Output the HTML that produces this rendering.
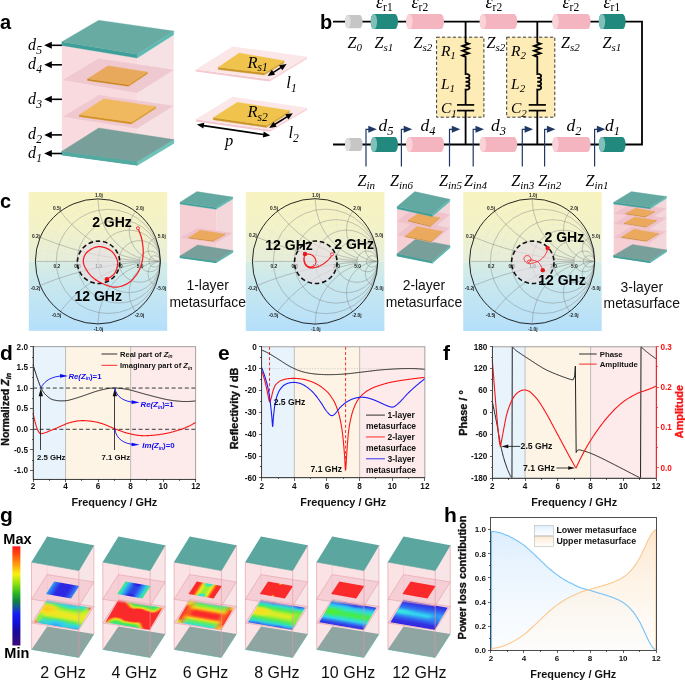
<!DOCTYPE html>
<html lang="en"><head><meta charset="utf-8"><title>Figure</title>
<style>html,body{margin:0;padding:0;background:#fff}svg{display:block}</style>
</head><body>
<svg width="685" height="681" viewBox="0 0 685 681">
<rect width="685" height="681" fill="#fff"/>
<!-- panel_a -->
<text x="0" y="28.5" font-family='"Liberation Sans", Arial, sans-serif' font-size="20" font-weight="bold">a</text>
<polygon points="61.9,151.2 137.2,161.5 137.2,165.2 61.9,154.9" fill="#3f9e98" stroke="#3f9e98" stroke-width="0.4"/><polygon points="137.2,161.5 173.7,139.6 173.7,143.3 137.2,165.2" fill="#5cb8b0" stroke="#5cb8b0" stroke-width="0.4"/><polygon points="61.9,151.2 98.7,127.9 173.7,139.6 137.2,161.5" fill="#5a9a93" stroke="#5a9a93" stroke-width="0.3"/>
<polygon points="61.9,45.4 137.2,58 137.2,161.5 61.9,151.2" fill="#f8d7db" fill-opacity="0.9"/>
<polygon points="137.2,58 173.7,34.7 173.7,139.6 137.2,161.5" fill="#f4dcdf" fill-opacity="0.85"/>
<polygon points="61.9,151.2 137.2,161.5 137.2,165.2 61.9,154.9" fill="#52aaa1" stroke="#52aaa1" stroke-width="0.4"/><polygon points="137.2,161.5 173.7,139.6 173.7,143.3 137.2,165.2" fill="#6fc3b9" stroke="#6fc3b9" stroke-width="0.4"/><polygon points="61.9,151.2 98.7,127.9 173.7,139.6 137.2,161.5" fill="#789f9a" stroke="#789f9a" stroke-width="0.3"/>
<polygon points="62.8,80 98.7,58.6 173.7,69.7 137.2,93" fill="#eec3cb" fill-opacity="0.8"/>
<polygon points="62.8,116.8 98.7,94.9 173.7,105.7 137.2,128.5" fill="#eec3cb" fill-opacity="0.8"/>
<polygon points="87.6,78.8 128.5,84.7 128.5,86.3 87.6,80.4" fill="#c8871f" stroke="#c8871f" stroke-width="0.4"/><polygon points="128.5,84.7 147.4,72.1 147.4,73.7 128.5,86.3" fill="#d4952d" stroke="#d4952d" stroke-width="0.4"/><polygon points="87.6,78.8 108,65.7 147.4,72.1 128.5,84.7" fill="#e9a95c" stroke="#e9a95c" stroke-width="0.3"/>
<polygon points="79.4,114.7 131.4,122 131.4,123.9 79.4,116.6" fill="#d0901f" stroke="#d0901f" stroke-width="0.4"/><polygon points="131.4,122 155.6,106.6 155.6,108.5 131.4,123.9" fill="#dba035" stroke="#dba035" stroke-width="0.4"/><polygon points="79.4,114.7 103.6,98.7 155.6,106.6 131.4,122" fill="#f0b95f" stroke="#f0b95f" stroke-width="0.3"/>
<polygon points="61.9,41.7 137.2,54.3 137.2,58 61.9,45.4" fill="#3c9f98" stroke="#3c9f98" stroke-width="0.4"/><polygon points="137.2,54.3 173.7,31 173.7,34.7 137.2,58" fill="#5cbab2" stroke="#5cbab2" stroke-width="0.4"/><polygon points="61.9,41.7 98.7,20.2 173.7,31 137.2,54.3" fill="#68aba3" stroke="#68aba3" stroke-width="0.3"/>
<line x1="61.9" y1="45.3" x2="50" y2="45.3" stroke="#000" stroke-width="1.6"/>
<polygon points="44.2,45.3 51.8,41.8 51.8,48.8" fill="#000"/>
<text x="28" y="49.8" font-family='"Liberation Serif", "Times New Roman", serif' font-size="16" font-style="italic">d<tspan font-size="11.6" dy="4.1" dx="0.3">5</tspan></text>
<line x1="61.9" y1="64.8" x2="50" y2="64.8" stroke="#000" stroke-width="1.6"/>
<polygon points="44.2,64.8 51.8,61.3 51.8,68.3" fill="#000"/>
<text x="28" y="69.3" font-family='"Liberation Serif", "Times New Roman", serif' font-size="16" font-style="italic">d<tspan font-size="11.6" dy="4.1" dx="0.3">4</tspan></text>
<line x1="61.9" y1="99.3" x2="50" y2="99.3" stroke="#000" stroke-width="1.6"/>
<polygon points="44.2,99.3 51.8,95.8 51.8,102.8" fill="#000"/>
<text x="28" y="103.8" font-family='"Liberation Serif", "Times New Roman", serif' font-size="16" font-style="italic">d<tspan font-size="11.6" dy="4.1" dx="0.3">3</tspan></text>
<line x1="61.9" y1="134.9" x2="50" y2="134.9" stroke="#000" stroke-width="1.6"/>
<polygon points="44.2,134.9 51.8,131.4 51.8,138.4" fill="#000"/>
<text x="28" y="138.9" font-family='"Liberation Serif", "Times New Roman", serif' font-size="16" font-style="italic">d<tspan font-size="11.6" dy="4.1" dx="0.3">2</tspan></text>
<line x1="61.9" y1="153.5" x2="50" y2="153.5" stroke="#000" stroke-width="1.6"/>
<polygon points="44.2,153.5 51.8,150 51.8,157" fill="#000"/>
<text x="28" y="158.2" font-family='"Liberation Serif", "Times New Roman", serif' font-size="16" font-style="italic">d<tspan font-size="11.6" dy="4.1" dx="0.3">1</tspan></text>
<polygon points="195.8,69.4 269.8,79.3 269.8,81.5 195.8,71.6" fill="#f3c9cf"/><polygon points="269.8,79.3 307,56.7 307,58.9 269.8,81.5" fill="#f6d6da"/><polygon points="195.8,69.4 232.6,46.4 307,56.7 269.8,79.3" fill="#fbe6e8"/>
<polygon points="218.3,67.2 264.3,72.7 264.3,74.9 218.3,69.4" fill="#c9962a" stroke="#c9962a" stroke-width="0.4"/><polygon points="264.3,72.7 284,60.7 284,62.9 264.3,74.9" fill="#d6a636" stroke="#d6a636" stroke-width="0.4"/><polygon points="218.3,67.2 239.1,53 284,60.7 264.3,72.7" fill="#f0c44c" stroke="#f0c44c" stroke-width="0.3"/>
<polygon points="195.8,119.3 269.8,129.6 269.8,131.8 195.8,121.5" fill="#f3c9cf"/><polygon points="269.8,129.6 307,107.7 307,109.9 269.8,131.8" fill="#f6d6da"/><polygon points="195.8,119.3 232.6,96.8 307,107.7 269.8,129.6" fill="#fbe6e8"/>
<polygon points="213.3,117.6 266.5,125.2 266.5,127.4 213.3,119.8" fill="#c9962a" stroke="#c9962a" stroke-width="0.4"/><polygon points="266.5,125.2 289.5,110.6 289.5,112.8 266.5,127.4" fill="#d6a636" stroke="#d6a636" stroke-width="0.4"/><polygon points="213.3,117.6 237.4,102.3 289.5,110.6 266.5,125.2" fill="#f0c44c" stroke="#f0c44c" stroke-width="0.3"/>
<text x="247.5" y="67.7" font-family='"Liberation Serif", "Times New Roman", serif' font-size="16.5" font-style="italic">R<tspan font-size="11.5" dy="3.5">s1</tspan></text>
<text x="247.5" y="117.1" font-family='"Liberation Serif", "Times New Roman", serif' font-size="16.5" font-style="italic">R<tspan font-size="11.5" dy="3.5">s2</tspan></text>
<line x1="271.82" y1="73.31" x2="282.38" y2="66.59" stroke="#000" stroke-width="1.6"/><polygon points="286.6,63.9 282.31,70.19 279.08,65.13" fill="#000"/><polygon points="267.6,76 271.89,69.71 275.12,74.77" fill="#000"/>
<line x1="273.35" y1="125.26" x2="288.55" y2="115.84" stroke="#000" stroke-width="1.6"/><polygon points="292.8,113.2 288.43,119.44 285.27,114.34" fill="#000"/><polygon points="269.1,127.9 273.47,121.66 276.63,126.76" fill="#000"/>
<line x1="201.85" y1="125.34" x2="265.25" y2="134.76" stroke="#000" stroke-width="1.6"/><polygon points="270.2,135.5 262.83,137.44 263.72,131.5" fill="#000"/><polygon points="196.9,124.6 204.27,122.66 203.38,128.6" fill="#000"/>
<text x="286.3" y="88" font-family='"Liberation Serif", "Times New Roman", serif' font-size="16.5" font-style="italic">l<tspan font-size="11.5" dy="3.5">1</tspan></text>
<text x="288.5" y="138.4" font-family='"Liberation Serif", "Times New Roman", serif' font-size="16.5" font-style="italic">l<tspan font-size="11.5" dy="3.5">2</tspan></text>
<text x="225" y="146" font-family='"Liberation Serif", "Times New Roman", serif' font-size="16.5" font-style="italic">p</text>
<!-- panel_b -->
<text x="320" y="28.5" font-family='"Liberation Sans", Arial, sans-serif' font-size="20" font-weight="bold">b</text>
<path d="M333 21.6 H642 V144.5 H333" fill="none" stroke="#000" stroke-width="1.8"/>
<rect x="436.6" y="37.2" width="47.3" height="80" fill="#fdecb6" stroke="#222" stroke-width="0.9" stroke-dasharray="3.2 2.2"/>
<path d="M465.6 21.6 V42.5 L468.9 43.69 L462.3 46.08 L468.9 48.46 L462.3 50.84 L468.9 53.22 L462.3 55.61 L465.6 56.8 V74 C470.8 73.4 470.8 78.5 465.6 77.9 C470.8 77.3 470.8 82.4 465.6 81.8 C470.8 81.2 470.8 86.3 465.6 85.7 C470.8 85.1 470.8 90.2 465.6 89.6 V104.9" fill="none" stroke="#000" stroke-width="1.8" stroke-linejoin="miter"/>
<line x1="457" y1="104.9" x2="474.2" y2="104.9" stroke="#000" stroke-width="1.7"/>
<line x1="457" y1="110.6" x2="474.2" y2="110.6" stroke="#000" stroke-width="1.7"/>
<line x1="465.6" y1="110.6" x2="465.6" y2="144.5" stroke="#000" stroke-width="1.8"/>
<text x="440.9" y="55.7" font-family='"Liberation Serif", "Times New Roman", serif' font-size="15.5" font-style="italic">R<tspan font-size="11" font-style="italic" dy="3.5">1</tspan></text>
<text x="440.9" y="88.9" font-family='"Liberation Serif", "Times New Roman", serif' font-size="15.5" font-style="italic">L<tspan font-size="11" font-style="italic" dy="3.5">1</tspan></text>
<text x="440.9" y="113.4" font-family='"Liberation Serif", "Times New Roman", serif' font-size="15.5" font-style="italic">C<tspan font-size="11" font-style="italic" dy="3.5">1</tspan></text>
<rect x="506.7" y="37.2" width="48.1" height="80" fill="#fdecb6" stroke="#222" stroke-width="0.9" stroke-dasharray="3.2 2.2"/>
<path d="M537.3 21.6 V42.5 L540.6 43.69 L534 46.08 L540.6 48.46 L534 50.84 L540.6 53.22 L534 55.61 L537.3 56.8 V74 C542.5 73.4 542.5 78.5 537.3 77.9 C542.5 77.3 542.5 82.4 537.3 81.8 C542.5 81.2 542.5 86.3 537.3 85.7 C542.5 85.1 542.5 90.2 537.3 89.6 V104.9" fill="none" stroke="#000" stroke-width="1.8" stroke-linejoin="miter"/>
<line x1="528.7" y1="104.9" x2="545.9" y2="104.9" stroke="#000" stroke-width="1.7"/>
<line x1="528.7" y1="110.6" x2="545.9" y2="110.6" stroke="#000" stroke-width="1.7"/>
<line x1="537.3" y1="110.6" x2="537.3" y2="144.5" stroke="#000" stroke-width="1.8"/>
<text x="511" y="55.7" font-family='"Liberation Serif", "Times New Roman", serif' font-size="15.5" font-style="italic">R<tspan font-size="11" font-style="italic" dy="3.5">2</tspan></text>
<text x="511" y="88.9" font-family='"Liberation Serif", "Times New Roman", serif' font-size="15.5" font-style="italic">L<tspan font-size="11" font-style="italic" dy="3.5">2</tspan></text>
<text x="511" y="113.4" font-family='"Liberation Serif", "Times New Roman", serif' font-size="15.5" font-style="italic">C<tspan font-size="11" font-style="italic" dy="3.5">2</tspan></text>
<path d="M347.8 15 L359.8 15 A2.8 6.6 0 0 1 359.8 28.2 L347.8 28.2 A2.8 6.6 0 0 1 347.8 15 Z" fill="#c6c6c6"/><ellipse cx="347.8" cy="21.6" rx="2.8" ry="6.6" fill="#dedede"/>
<path d="M373.9 14.1 L394.8 14.1 A3.2 7.5 0 0 1 394.8 29.1 L373.9 29.1 A3.2 7.5 0 0 1 373.9 14.1 Z" fill="#21897e"/><ellipse cx="373.9" cy="21.6" rx="3.2" ry="7.5" fill="#7fc1b8"/>
<path d="M409.4 14.1 L440.8 14.1 A3.2 7.5 0 0 1 440.8 29.1 L409.4 29.1 A3.2 7.5 0 0 1 409.4 14.1 Z" fill="#f4b5c0"/><ellipse cx="409.4" cy="21.6" rx="3.2" ry="7.5" fill="#fad3d9"/>
<path d="M482.9 14.1 L514 14.1 A3.2 7.5 0 0 1 514 29.1 L482.9 29.1 A3.2 7.5 0 0 1 482.9 14.1 Z" fill="#f4b5c0"/><ellipse cx="482.9" cy="21.6" rx="3.2" ry="7.5" fill="#fad3d9"/>
<path d="M555.5 14.1 L587.4 14.1 A3.2 7.5 0 0 1 587.4 29.1 L555.5 29.1 A3.2 7.5 0 0 1 555.5 14.1 Z" fill="#f4b5c0"/><ellipse cx="555.5" cy="21.6" rx="3.2" ry="7.5" fill="#fad3d9"/>
<path d="M602 14.1 L622.4 14.1 A3.2 7.5 0 0 1 622.4 29.1 L602 29.1 A3.2 7.5 0 0 1 602 14.1 Z" fill="#21897e"/><ellipse cx="602" cy="21.6" rx="3.2" ry="7.5" fill="#7fc1b8"/>
<path d="M347.8 137.9 L359.8 137.9 A2.8 6.6 0 0 1 359.8 151.1 L347.8 151.1 A2.8 6.6 0 0 1 347.8 137.9 Z" fill="#c6c6c6"/><ellipse cx="347.8" cy="144.5" rx="2.8" ry="6.6" fill="#dedede"/>
<path d="M373.9 137 L394.8 137 A3.2 7.5 0 0 1 394.8 152 L373.9 152 A3.2 7.5 0 0 1 373.9 137 Z" fill="#21897e"/><ellipse cx="373.9" cy="144.5" rx="3.2" ry="7.5" fill="#7fc1b8"/>
<path d="M409.4 137 L440.8 137 A3.2 7.5 0 0 1 440.8 152 L409.4 152 A3.2 7.5 0 0 1 409.4 137 Z" fill="#f4b5c0"/><ellipse cx="409.4" cy="144.5" rx="3.2" ry="7.5" fill="#fad3d9"/>
<path d="M482.9 137 L514 137 A3.2 7.5 0 0 1 514 152 L482.9 152 A3.2 7.5 0 0 1 482.9 137 Z" fill="#f4b5c0"/><ellipse cx="482.9" cy="144.5" rx="3.2" ry="7.5" fill="#fad3d9"/>
<path d="M555.5 137 L587.4 137 A3.2 7.5 0 0 1 587.4 152 L555.5 152 A3.2 7.5 0 0 1 555.5 137 Z" fill="#f4b5c0"/><ellipse cx="555.5" cy="144.5" rx="3.2" ry="7.5" fill="#fad3d9"/>
<path d="M602 137 L622.4 137 A3.2 7.5 0 0 1 622.4 152 L602 152 A3.2 7.5 0 0 1 602 137 Z" fill="#21897e"/><ellipse cx="602" cy="144.5" rx="3.2" ry="7.5" fill="#7fc1b8"/>
<text x="376" y="7.9" font-family='"Liberation Serif", "Times New Roman", serif' font-size="18" font-style="italic">ε<tspan font-size="11.5" font-style="normal" dy="3.2">r1</tspan></text>
<text x="411.5" y="7.9" font-family='"Liberation Serif", "Times New Roman", serif' font-size="18" font-style="italic">ε<tspan font-size="11.5" font-style="normal" dy="3.2">r2</tspan></text>
<text x="485.5" y="7.9" font-family='"Liberation Serif", "Times New Roman", serif' font-size="18" font-style="italic">ε<tspan font-size="11.5" font-style="normal" dy="3.2">r2</tspan></text>
<text x="562.5" y="7.9" font-family='"Liberation Serif", "Times New Roman", serif' font-size="18" font-style="italic">ε<tspan font-size="11.5" font-style="normal" dy="3.2">r2</tspan></text>
<text x="603.5" y="7.9" font-family='"Liberation Serif", "Times New Roman", serif' font-size="18" font-style="italic">ε<tspan font-size="11.5" font-style="normal" dy="3.2">r1</tspan></text>
<text x="347.5" y="47.8" font-family='"Liberation Serif", "Times New Roman", serif' font-size="16" font-style="italic">Z<tspan font-size="11" font-style="italic" dy="3.5">0</tspan></text>
<text x="374.5" y="47.8" font-family='"Liberation Serif", "Times New Roman", serif' font-size="16" font-style="italic">Z<tspan font-size="11" font-style="italic" dy="3.5">s1</tspan></text>
<text x="413.5" y="47.8" font-family='"Liberation Serif", "Times New Roman", serif' font-size="16" font-style="italic">Z<tspan font-size="11" font-style="italic" dy="3.5">s2</tspan></text>
<text x="486.5" y="47.8" font-family='"Liberation Serif", "Times New Roman", serif' font-size="16" font-style="italic">Z<tspan font-size="11" font-style="italic" dy="3.5">s2</tspan></text>
<text x="561" y="47.8" font-family='"Liberation Serif", "Times New Roman", serif' font-size="16" font-style="italic">Z<tspan font-size="11" font-style="italic" dy="3.5">s2</tspan></text>
<text x="602.5" y="47.8" font-family='"Liberation Serif", "Times New Roman", serif' font-size="16" font-style="italic">Z<tspan font-size="11" font-style="italic" dy="3.5">s1</tspan></text>
<text x="378.6" y="131" font-family='"Liberation Serif", "Times New Roman", serif' font-size="17.5" font-style="italic">d<tspan font-size="12.4" font-style="italic" dy="3.7">5</tspan></text>
<text x="420.6" y="131" font-family='"Liberation Serif", "Times New Roman", serif' font-size="17.5" font-style="italic">d<tspan font-size="12.4" font-style="italic" dy="3.7">4</tspan></text>
<text x="491.1" y="131" font-family='"Liberation Serif", "Times New Roman", serif' font-size="17.5" font-style="italic">d<tspan font-size="12.4" font-style="italic" dy="3.7">3</tspan></text>
<text x="566.6" y="131" font-family='"Liberation Serif", "Times New Roman", serif' font-size="17.5" font-style="italic">d<tspan font-size="12.4" font-style="italic" dy="3.7">2</tspan></text>
<text x="605.1" y="131" font-family='"Liberation Serif", "Times New Roman", serif' font-size="17.5" font-style="italic">d<tspan font-size="12.4" font-style="italic" dy="3.7">1</tspan></text>
<path d="M366 166.5 V129.3 H369" fill="none" stroke="#1f3864" stroke-width="1.2"/>
<polygon points="376.8,129.3 368.3,132.8 368.3,125.8" fill="#1f3864"/>
<path d="M401.4 166.5 V129.3 H404.4" fill="none" stroke="#1f3864" stroke-width="1.2"/>
<polygon points="412.2,129.3 403.7,132.8 403.7,125.8" fill="#1f3864"/>
<path d="M449.5 166.5 V129.3 H452.5" fill="none" stroke="#1f3864" stroke-width="1.2"/>
<polygon points="460.3,129.3 451.8,132.8 451.8,125.8" fill="#1f3864"/>
<path d="M473.2 166.5 V129.3 H476.2" fill="none" stroke="#1f3864" stroke-width="1.2"/>
<polygon points="484,129.3 475.5,132.8 475.5,125.8" fill="#1f3864"/>
<path d="M522.3 166.5 V129.3 H525.3" fill="none" stroke="#1f3864" stroke-width="1.2"/>
<polygon points="533.1,129.3 524.6,132.8 524.6,125.8" fill="#1f3864"/>
<path d="M544.6 166.5 V129.3 H547.6" fill="none" stroke="#1f3864" stroke-width="1.2"/>
<polygon points="555.4,129.3 546.9,132.8 546.9,125.8" fill="#1f3864"/>
<path d="M594.6 166.5 V129.3 H597.6" fill="none" stroke="#1f3864" stroke-width="1.2"/>
<polygon points="605.4,129.3 596.9,132.8 596.9,125.8" fill="#1f3864"/>
<text x="357.5" y="185.8" font-family='"Liberation Serif", "Times New Roman", serif' font-size="16" font-style="italic">Z<tspan font-size="11" font-style="italic" dy="3.5">in</tspan></text>
<text x="390" y="185.8" font-family='"Liberation Serif", "Times New Roman", serif' font-size="16" font-style="italic">Z<tspan font-size="11" font-style="italic" dy="3.5">in6</tspan></text>
<text x="439" y="185.8" font-family='"Liberation Serif", "Times New Roman", serif' font-size="16" font-style="italic">Z<tspan font-size="11" font-style="italic" dy="3.5">in5</tspan></text>
<text x="464" y="185.8" font-family='"Liberation Serif", "Times New Roman", serif' font-size="16" font-style="italic">Z<tspan font-size="11" font-style="italic" dy="3.5">in4</tspan></text>
<text x="511.3" y="185.8" font-family='"Liberation Serif", "Times New Roman", serif' font-size="16" font-style="italic">Z<tspan font-size="11" font-style="italic" dy="3.5">in3</tspan></text>
<text x="538.2" y="185.8" font-family='"Liberation Serif", "Times New Roman", serif' font-size="16" font-style="italic">Z<tspan font-size="11" font-style="italic" dy="3.5">in2</tspan></text>
<text x="585.5" y="185.8" font-family='"Liberation Serif", "Times New Roman", serif' font-size="16" font-style="italic">Z<tspan font-size="11" font-style="italic" dy="3.5">in1</tspan></text>
<!-- panel_c -->
<text x="0" y="207.5" font-family='"Liberation Sans", Arial, sans-serif' font-size="20" font-weight="bold">c</text>
<defs><linearGradient id="sg1" x1="0" y1="0" x2="0" y2="1"><stop offset="0" stop-color="#f8f3c0"/><stop offset="0.5" stop-color="#f3f2c8"/><stop offset="1" stop-color="#e5eeda"/></linearGradient><linearGradient id="sg1b" x1="0" y1="0" x2="0" y2="1"><stop offset="0" stop-color="#d8ede2"/><stop offset="0.3" stop-color="#c9e8ee"/><stop offset="1" stop-color="#b4dffb"/></linearGradient><clipPath id="sc1"><circle cx="97.9" cy="261.4" r="62.5"/></clipPath></defs>
<rect x="28.8" y="192" width="138.4" height="69.4" fill="url(#sg1)"/>
<rect x="28.8" y="261.4" width="138.4" height="69.4" fill="url(#sg1b)"/>
<defs><clipPath id="sc1a"><path d="M35.4 261.4 a62.5 62.5 0 1 0 125 0 a62.5 62.5 0 1 0 -125 0Z M139.57 261.4 a10.42 10.42 0 1 0 20.83 0 a10.42 10.42 0 1 0 -20.83 0Z" clip-rule="evenodd"/></clipPath><clipPath id="sc1b"><path d="M35.4 261.4 a62.5 62.5 0 1 0 125 0 a62.5 62.5 0 1 0 -125 0Z M118.73 261.4 a20.83 20.83 0 1 0 41.67 0 a20.83 20.83 0 1 0 -41.67 0Z" clip-rule="evenodd"/></clipPath></defs>
<g clip-path="url(#sc1b)" fill="none"><circle cx="103.58" cy="261.4" r="56.82" stroke="#dfe3d9" stroke-width="0.3"/><circle cx="160.4" cy="-363.6" r="625" stroke="#dfe3d9" stroke-width="0.3"/><circle cx="160.4" cy="886.4" r="625" stroke="#dfe3d9" stroke-width="0.3"/><circle cx="112.32" cy="261.4" r="48.08" stroke="#dfe3d9" stroke-width="0.3"/><circle cx="160.4" cy="53.07" r="208.33" stroke="#dfe3d9" stroke-width="0.3"/><circle cx="160.4" cy="469.73" r="208.33" stroke="#dfe3d9" stroke-width="0.3"/><circle cx="123.64" cy="261.4" r="36.76" stroke="#dfe3d9" stroke-width="0.3"/><circle cx="160.4" cy="172.11" r="89.29" stroke="#dfe3d9" stroke-width="0.3"/><circle cx="160.4" cy="350.69" r="89.29" stroke="#dfe3d9" stroke-width="0.3"/><circle cx="135.4" cy="261.4" r="25" stroke="#dfe3d9" stroke-width="0.3"/><circle cx="160.4" cy="219.73" r="41.67" stroke="#dfe3d9" stroke-width="0.3"/><circle cx="160.4" cy="303.07" r="41.67" stroke="#dfe3d9" stroke-width="0.3"/></g><g clip-path="url(#sc1a)" fill="none"><circle cx="160.4" cy="-51.1" r="312.5" stroke="#858585" stroke-width="0.45"/><circle cx="160.4" cy="573.9" r="312.5" stroke="#858585" stroke-width="0.45"/><circle cx="160.4" cy="136.4" r="125" stroke="#858585" stroke-width="0.45"/><circle cx="160.4" cy="386.4" r="125" stroke="#858585" stroke-width="0.45"/><circle cx="160.4" cy="198.9" r="62.5" stroke="#858585" stroke-width="0.45"/><circle cx="160.4" cy="323.9" r="62.5" stroke="#858585" stroke-width="0.45"/></g><g clip-path="url(#sc1)" fill="none"><circle cx="108.32" cy="261.4" r="52.08" stroke="#858585" stroke-width="0.45"/><circle cx="118.73" cy="261.4" r="41.67" stroke="#858585" stroke-width="0.45"/><circle cx="129.15" cy="261.4" r="31.25" stroke="#858585" stroke-width="0.45"/><circle cx="139.57" cy="261.4" r="20.83" stroke="#858585" stroke-width="0.45"/><circle cx="149.98" cy="261.4" r="10.42" stroke="#858585" stroke-width="0.45"/><circle cx="154.72" cy="261.4" r="5.68" stroke="#858585" stroke-width="0.45"/><circle cx="160.4" cy="248.9" r="12.5" stroke="#858585" stroke-width="0.45"/><circle cx="160.4" cy="273.9" r="12.5" stroke="#858585" stroke-width="0.45"/><circle cx="160.4" cy="230.15" r="31.25" stroke="#858585" stroke-width="0.45"/><circle cx="160.4" cy="292.65" r="31.25" stroke="#858585" stroke-width="0.45"/><line x1="35.4" y1="261.4" x2="160.4" y2="261.4" stroke="#858585" stroke-width="0.5"/></g>
<circle cx="97.9" cy="261.4" r="62.5" fill="none" stroke="#111" stroke-width="0.9"/>
<text x="35.91" y="237.56" font-family='"Liberation Sans", Arial, sans-serif' font-size="4.8" font-weight="bold" fill="#222" text-anchor="middle">0.2j</text>
<text x="35.51" y="289.54" font-family='"Liberation Sans", Arial, sans-serif' font-size="4.8" font-weight="bold" fill="#222" text-anchor="middle">-0.2j</text>
<text x="56.9" y="210.1" font-family='"Liberation Sans", Arial, sans-serif' font-size="4.8" font-weight="bold" fill="#222" text-anchor="middle">0.5j</text>
<text x="56.5" y="316.8" font-family='"Liberation Sans", Arial, sans-serif' font-size="4.8" font-weight="bold" fill="#222" text-anchor="middle">-0.5j</text>
<text x="98.9" y="197.2" font-family='"Liberation Sans", Arial, sans-serif' font-size="4.8" font-weight="bold" fill="#222" text-anchor="middle">1.0j</text>
<text x="98.5" y="330.8" font-family='"Liberation Sans", Arial, sans-serif' font-size="4.8" font-weight="bold" fill="#222" text-anchor="middle">-1.0j</text>
<text x="139.9" y="210.1" font-family='"Liberation Sans", Arial, sans-serif' font-size="4.8" font-weight="bold" fill="#222" text-anchor="middle">2.0j</text>
<text x="139.5" y="316.8" font-family='"Liberation Sans", Arial, sans-serif' font-size="4.8" font-weight="bold" fill="#222" text-anchor="middle">-2.0j</text>
<text x="161.79" y="237.56" font-family='"Liberation Sans", Arial, sans-serif' font-size="4.8" font-weight="bold" fill="#222" text-anchor="middle">5.0j</text>
<text x="161.39" y="289.54" font-family='"Liberation Sans", Arial, sans-serif' font-size="4.8" font-weight="bold" fill="#222" text-anchor="middle">-5.0j</text>
<text x="56.83" y="267.8" font-family='"Liberation Sans", Arial, sans-serif' font-size="4.8" font-weight="bold" fill="#222" text-anchor="middle">0.2</text>
<text x="77.67" y="267.8" font-family='"Liberation Sans", Arial, sans-serif' font-size="4.8" font-weight="bold" fill="#222" text-anchor="middle">0.5</text>
<text x="98.5" y="267.8" font-family='"Liberation Sans", Arial, sans-serif' font-size="4.8" font-weight="bold" fill="#222" text-anchor="middle">1.0</text>
<text x="119.33" y="267.8" font-family='"Liberation Sans", Arial, sans-serif' font-size="4.8" font-weight="bold" fill="#222" text-anchor="middle">2.0</text>
<text x="140.17" y="267.8" font-family='"Liberation Sans", Arial, sans-serif' font-size="4.8" font-weight="bold" fill="#222" text-anchor="middle">5.0</text>
<circle cx="98.6" cy="262.3" r="21.18" fill="#e8dfe4" fill-opacity="0.66" stroke="#111" stroke-width="1.6" stroke-dasharray="4.6 2.8"/>
<path d="M137.96 228.21 L138.16 228.77 L138.43 229.44 L138.74 230.23 L139.1 231.11 L139.48 232.08 L139.88 233.1 L140.28 234.19 L140.67 235.31 L141.05 236.45 L141.39 237.61 L141.69 238.76 L141.93 239.89 L142.15 241.04 L142.35 242.22 L142.54 243.44 L142.72 244.7 L142.88 245.97 L143.01 247.27 L143.12 248.57 L143.2 249.89 L143.24 251.2 L143.24 252.51 L143.19 253.8 L143.1 255.08 L142.97 256.35 L142.8 257.65 L142.6 258.96 L142.36 260.27 L142.08 261.58 L141.77 262.89 L141.43 264.18 L141.04 265.46 L140.62 266.71 L140.16 267.93 L139.67 269.12 L139.13 270.26 L138.55 271.38 L137.93 272.49 L137.26 273.58 L136.54 274.66 L135.8 275.71 L135.01 276.73 L134.2 277.71 L133.36 278.66 L132.5 279.56 L131.61 280.41 L130.71 281.21 L129.79 281.94 L128.84 282.62 L127.85 283.27 L126.82 283.87 L125.76 284.43 L124.68 284.95 L123.58 285.41 L122.47 285.83 L121.35 286.2 L120.23 286.51 L119.12 286.76 L118.02 286.95 L116.94 287.08 L115.87 287.14 L114.8 287.13 L113.73 287.06 L112.66 286.93 L111.59 286.75 L110.52 286.51 L109.45 286.23 L108.37 285.9 L107.3 285.54 L106.23 285.15 L105.16 284.72 L104.09 284.28 L103.01 283.8 L101.89 283.28 L100.76 282.72 L99.62 282.12 L98.48 281.49 L97.35 280.82 L96.23 280.11 L95.15 279.37 L94.1 278.6 L93.09 277.8 L92.14 276.96 L91.25 276.1 L90.39 275.19 L89.54 274.2 L88.7 273.16 L87.9 272.08 L87.12 270.96 L86.4 269.82 L85.73 268.68 L85.12 267.54 L84.59 266.41 L84.14 265.31 L83.79 264.26 L83.54 263.25 L83.39 262.28 L83.32 261.31 L83.34 260.36 L83.43 259.41 L83.6 258.48 L83.84 257.57 L84.15 256.69 L84.52 255.83 L84.95 255 L85.44 254.21 L85.98 253.45 L86.57 252.74 L87.24 252.05 L88.01 251.35 L88.86 250.67 L89.78 250.01 L90.77 249.38 L91.8 248.78 L92.87 248.25 L93.95 247.77 L95.05 247.36 L96.14 247.03 L97.21 246.8 L98.25 246.67 L99.3 246.64 L100.4 246.69 L101.53 246.83 L102.68 247.05 L103.84 247.34 L105 247.69 L106.14 248.1 L107.24 248.57 L108.3 249.09 L109.31 249.65 L110.25 250.24 L111.1 250.87 L111.9 251.56 L112.67 252.34 L113.4 253.18 L114.1 254.09 L114.76 255.05 L115.36 256.04 L115.91 257.06 L116.4 258.09 L116.83 259.12 L117.18 260.13 L117.45 261.13 L117.64 262.08 L117.74 263.04 L117.74 264.02 L117.66 265.01 L117.51 266.02 L117.29 267.03 L117.01 268.03 L116.69 269.01 L116.32 269.96 L115.92 270.87 L115.49 271.74 L115.05 272.55 L114.6 273.3 L114.1 273.99 L113.5 274.65 L112.82 275.27 L112.1 275.86 L111.33 276.41 L110.56 276.92 L109.8 277.39 L109.07 277.82 L108.39 278.21 L107.79 278.56 L107.28 278.87 L106.9 279.14" fill="none" stroke="#f81c22" stroke-width="1.25"/>
<circle cx="137.96" cy="228.21" r="1.5" fill="#fff" stroke="#f81c22" stroke-width="0.9"/>
<circle cx="106.9" cy="279.14" r="2.2" fill="#e8151b"/>
<text x="92.2" y="226.6" font-family='"Liberation Sans", Arial, sans-serif' font-size="14" font-weight="bold">2 GHz</text>
<text x="74.5" y="301.2" font-family='"Liberation Sans", Arial, sans-serif' font-size="14" font-weight="bold">12 GHz</text>
<defs><linearGradient id="sg2" x1="0" y1="0" x2="0" y2="1"><stop offset="0" stop-color="#f8f3c0"/><stop offset="0.5" stop-color="#f3f2c8"/><stop offset="1" stop-color="#e5eeda"/></linearGradient><linearGradient id="sg2b" x1="0" y1="0" x2="0" y2="1"><stop offset="0" stop-color="#d8ede2"/><stop offset="0.3" stop-color="#c9e8ee"/><stop offset="1" stop-color="#b4dffb"/></linearGradient><clipPath id="sc2"><circle cx="315.1" cy="261.4" r="62.7"/></clipPath></defs>
<rect x="245.8" y="192" width="138.6" height="69.4" fill="url(#sg2)"/>
<rect x="245.8" y="261.4" width="138.6" height="69.6" fill="url(#sg2b)"/>
<defs><clipPath id="sc2a"><path d="M252.4 261.4 a62.7 62.7 0 1 0 125.4 0 a62.7 62.7 0 1 0 -125.4 0Z M356.9 261.4 a10.45 10.45 0 1 0 20.9 0 a10.45 10.45 0 1 0 -20.9 0Z" clip-rule="evenodd"/></clipPath><clipPath id="sc2b"><path d="M252.4 261.4 a62.7 62.7 0 1 0 125.4 0 a62.7 62.7 0 1 0 -125.4 0Z M336 261.4 a20.9 20.9 0 1 0 41.8 0 a20.9 20.9 0 1 0 -41.8 0Z" clip-rule="evenodd"/></clipPath></defs>
<g clip-path="url(#sc2b)" fill="none"><circle cx="320.8" cy="261.4" r="57" stroke="#dfe3d9" stroke-width="0.3"/><circle cx="377.8" cy="-365.6" r="627" stroke="#dfe3d9" stroke-width="0.3"/><circle cx="377.8" cy="888.4" r="627" stroke="#dfe3d9" stroke-width="0.3"/><circle cx="329.57" cy="261.4" r="48.23" stroke="#dfe3d9" stroke-width="0.3"/><circle cx="377.8" cy="52.4" r="209" stroke="#dfe3d9" stroke-width="0.3"/><circle cx="377.8" cy="470.4" r="209" stroke="#dfe3d9" stroke-width="0.3"/><circle cx="340.92" cy="261.4" r="36.88" stroke="#dfe3d9" stroke-width="0.3"/><circle cx="377.8" cy="171.83" r="89.57" stroke="#dfe3d9" stroke-width="0.3"/><circle cx="377.8" cy="350.97" r="89.57" stroke="#dfe3d9" stroke-width="0.3"/><circle cx="352.72" cy="261.4" r="25.08" stroke="#dfe3d9" stroke-width="0.3"/><circle cx="377.8" cy="219.6" r="41.8" stroke="#dfe3d9" stroke-width="0.3"/><circle cx="377.8" cy="303.2" r="41.8" stroke="#dfe3d9" stroke-width="0.3"/></g><g clip-path="url(#sc2a)" fill="none"><circle cx="377.8" cy="-52.1" r="313.5" stroke="#858585" stroke-width="0.45"/><circle cx="377.8" cy="574.9" r="313.5" stroke="#858585" stroke-width="0.45"/><circle cx="377.8" cy="136" r="125.4" stroke="#858585" stroke-width="0.45"/><circle cx="377.8" cy="386.8" r="125.4" stroke="#858585" stroke-width="0.45"/><circle cx="377.8" cy="198.7" r="62.7" stroke="#858585" stroke-width="0.45"/><circle cx="377.8" cy="324.1" r="62.7" stroke="#858585" stroke-width="0.45"/></g><g clip-path="url(#sc2)" fill="none"><circle cx="325.55" cy="261.4" r="52.25" stroke="#858585" stroke-width="0.45"/><circle cx="336" cy="261.4" r="41.8" stroke="#858585" stroke-width="0.45"/><circle cx="346.45" cy="261.4" r="31.35" stroke="#858585" stroke-width="0.45"/><circle cx="356.9" cy="261.4" r="20.9" stroke="#858585" stroke-width="0.45"/><circle cx="367.35" cy="261.4" r="10.45" stroke="#858585" stroke-width="0.45"/><circle cx="372.1" cy="261.4" r="5.7" stroke="#858585" stroke-width="0.45"/><circle cx="377.8" cy="248.86" r="12.54" stroke="#858585" stroke-width="0.45"/><circle cx="377.8" cy="273.94" r="12.54" stroke="#858585" stroke-width="0.45"/><circle cx="377.8" cy="230.05" r="31.35" stroke="#858585" stroke-width="0.45"/><circle cx="377.8" cy="292.75" r="31.35" stroke="#858585" stroke-width="0.45"/><line x1="252.4" y1="261.4" x2="377.8" y2="261.4" stroke="#858585" stroke-width="0.5"/></g>
<circle cx="315.1" cy="261.4" r="62.7" fill="none" stroke="#111" stroke-width="0.9"/>
<text x="252.92" y="237.48" font-family='"Liberation Sans", Arial, sans-serif' font-size="4.8" font-weight="bold" fill="#222" text-anchor="middle">0.2j</text>
<text x="252.52" y="289.62" font-family='"Liberation Sans", Arial, sans-serif' font-size="4.8" font-weight="bold" fill="#222" text-anchor="middle">-0.2j</text>
<text x="273.98" y="209.94" font-family='"Liberation Sans", Arial, sans-serif' font-size="4.8" font-weight="bold" fill="#222" text-anchor="middle">0.5j</text>
<text x="273.58" y="316.96" font-family='"Liberation Sans", Arial, sans-serif' font-size="4.8" font-weight="bold" fill="#222" text-anchor="middle">-0.5j</text>
<text x="316.1" y="197" font-family='"Liberation Sans", Arial, sans-serif' font-size="4.8" font-weight="bold" fill="#222" text-anchor="middle">1.0j</text>
<text x="315.7" y="331" font-family='"Liberation Sans", Arial, sans-serif' font-size="4.8" font-weight="bold" fill="#222" text-anchor="middle">-1.0j</text>
<text x="357.22" y="209.94" font-family='"Liberation Sans", Arial, sans-serif' font-size="4.8" font-weight="bold" fill="#222" text-anchor="middle">2.0j</text>
<text x="356.82" y="316.96" font-family='"Liberation Sans", Arial, sans-serif' font-size="4.8" font-weight="bold" fill="#222" text-anchor="middle">-2.0j</text>
<text x="379.18" y="237.48" font-family='"Liberation Sans", Arial, sans-serif' font-size="4.8" font-weight="bold" fill="#222" text-anchor="middle">5.0j</text>
<text x="378.78" y="289.62" font-family='"Liberation Sans", Arial, sans-serif' font-size="4.8" font-weight="bold" fill="#222" text-anchor="middle">-5.0j</text>
<text x="273.9" y="267.8" font-family='"Liberation Sans", Arial, sans-serif' font-size="4.8" font-weight="bold" fill="#222" text-anchor="middle">0.2</text>
<text x="294.8" y="267.8" font-family='"Liberation Sans", Arial, sans-serif' font-size="4.8" font-weight="bold" fill="#222" text-anchor="middle">0.5</text>
<text x="315.7" y="267.8" font-family='"Liberation Sans", Arial, sans-serif' font-size="4.8" font-weight="bold" fill="#222" text-anchor="middle">1.0</text>
<text x="336.6" y="267.8" font-family='"Liberation Sans", Arial, sans-serif' font-size="4.8" font-weight="bold" fill="#222" text-anchor="middle">2.0</text>
<text x="357.5" y="267.8" font-family='"Liberation Sans", Arial, sans-serif' font-size="4.8" font-weight="bold" fill="#222" text-anchor="middle">5.0</text>
<circle cx="315.8" cy="262.3" r="21.25" fill="#e8dfe4" fill-opacity="0.66" stroke="#111" stroke-width="1.6" stroke-dasharray="4.6 2.8"/>
<path d="M332 254.39 L331.91 254.56 L331.8 254.78 L331.68 255.04 L331.54 255.33 L331.39 255.64 L331.22 255.98 L331.04 256.32 L330.85 256.67 L330.65 257.03 L330.44 257.37 L330.22 257.71 L329.98 258.02 L329.74 258.32 L329.49 258.63 L329.22 258.94 L328.94 259.24 L328.65 259.55 L328.34 259.85 L328.03 260.16 L327.71 260.46 L327.38 260.76 L327.04 261.06 L326.7 261.36 L326.35 261.66 L325.99 261.95 L325.62 262.25 L325.24 262.55 L324.85 262.85 L324.46 263.14 L324.05 263.44 L323.64 263.73 L323.22 264.01 L322.8 264.29 L322.37 264.55 L321.94 264.81 L321.5 265.05 L321.06 265.28 L320.61 265.51 L320.15 265.73 L319.68 265.95 L319.2 266.15 L318.73 266.35 L318.24 266.54 L317.76 266.72 L317.28 266.88 L316.8 267.04 L316.32 267.18 L315.85 267.31 L315.37 267.43 L314.89 267.55 L314.41 267.66 L313.92 267.77 L313.43 267.86 L312.95 267.94 L312.46 268 L311.99 268.05 L311.52 268.07 L311.07 268.06 L310.62 268.02 L310.19 267.96 L309.77 267.86 L309.35 267.73 L308.94 267.57 L308.53 267.39 L308.13 267.19 L307.74 266.97 L307.36 266.72 L307 266.46 L306.65 266.19 L306.33 265.9 L306.03 265.6 L305.75 265.29 L305.5 264.96 L305.26 264.6 L305.05 264.22 L304.85 263.82 L304.67 263.41 L304.5 262.98 L304.36 262.55 L304.23 262.11 L304.12 261.68 L304.03 261.25 L303.95 260.84 L303.89 260.44 L303.85 260.05 L303.83 259.65 L303.83 259.24 L303.84 258.83 L303.87 258.43 L303.92 258.03 L303.99 257.64 L304.07 257.27 L304.17 256.92 L304.28 256.58 L304.4 256.28 L304.54 256 L304.69 255.75 L304.87 255.52 L305.06 255.32 L305.28 255.13 L305.5 254.95 L305.74 254.8 L305.99 254.66 L306.25 254.54 L306.52 254.44 L306.8 254.35 L307.08 254.28 L307.37 254.22 L307.66 254.18 L307.98 254.16 L308.31 254.15 L308.65 254.16 L309 254.18 L309.36 254.22 L309.72 254.28 L310.07 254.35 L310.42 254.43 L310.77 254.54 L311.09 254.66 L311.41 254.79 L311.71 254.94 L312.01 255.12 L312.31 255.31 L312.61 255.52 L312.9 255.75 L313.19 255.99 L313.46 256.24 L313.73 256.5 L313.98 256.77 L314.21 257.05 L314.43 257.33 L314.64 257.62 L314.82 257.91 L315 258.22 L315.17 258.55 L315.33 258.89 L315.48 259.23 L315.61 259.59 L315.73 259.94 L315.82 260.29 L315.9 260.65 L315.96 260.99 L316 261.33 L316.01 261.66 L316 261.98 L315.96 262.31 L315.9 262.64 L315.82 262.97 L315.73 263.3 L315.61 263.62 L315.48 263.94 L315.33 264.24 L315.17 264.53 L315 264.81 L314.82 265.06 L314.64 265.29 L314.43 265.5 L314.21 265.7 L313.97 265.89 L313.71 266.07 L313.44 266.23 L313.16 266.38 L312.87 266.51 L312.58 266.62 L312.29 266.72 L311.99 266.8 L311.69 266.86 L311.41 266.91 L311.11 266.93 L310.81 266.94 L310.5 266.93 L310.18 266.91 L309.87 266.86 L309.55 266.81 L309.23 266.73 L308.92 266.64 L308.61 266.53 L308.32 266.4 L308.04 266.26 L307.77 266.1 L307.51 265.92 L307.26 265.71 L307.01 265.49 L306.77 265.25 L306.54 264.99 L306.32 264.71 L306.1 264.42 L305.89 264.12 L305.7 263.82 L305.52 263.5 L305.34 263.19 L305.19 262.87 L305.04 262.54 L304.9 262.2 L304.77 261.84 L304.65 261.48 L304.55 261.1 L304.45 260.72 L304.36 260.34 L304.29 259.95 L304.23 259.56 L304.19 259.18 L304.15 258.8 L304.14 258.42 L304.14 258.04 L304.17 257.63 L304.23 257.21 L304.3 256.78 L304.38 256.35 L304.47 255.93 L304.57 255.52 L304.67 255.13 L304.75 254.78 L304.83 254.47 L304.9 254.2 L304.94 253.98" fill="none" stroke="#f81c22" stroke-width="1.1"/>
<circle cx="332" cy="254.39" r="1.5" fill="#fff" stroke="#f81c22" stroke-width="0.9"/>
<circle cx="304.94" cy="253.98" r="2.2" fill="#e8151b"/>
<text x="265.3" y="250.4" font-family='"Liberation Sans", Arial, sans-serif' font-size="14" font-weight="bold">12 GHz</text>
<text x="334.3" y="249.4" font-family='"Liberation Sans", Arial, sans-serif' font-size="14" font-weight="bold">2 GHz</text>
<defs><linearGradient id="sg3" x1="0" y1="0" x2="0" y2="1"><stop offset="0" stop-color="#f8f3c0"/><stop offset="0.5" stop-color="#f3f2c8"/><stop offset="1" stop-color="#e5eeda"/></linearGradient><linearGradient id="sg3b" x1="0" y1="0" x2="0" y2="1"><stop offset="0" stop-color="#d8ede2"/><stop offset="0.3" stop-color="#c9e8ee"/><stop offset="1" stop-color="#b4dffb"/></linearGradient><clipPath id="sc3"><circle cx="532.1" cy="261.4" r="62.6"/></clipPath></defs>
<rect x="463.2" y="192" width="138.5" height="69.4" fill="url(#sg3)"/>
<rect x="463.2" y="261.4" width="138.5" height="69.6" fill="url(#sg3b)"/>
<defs><clipPath id="sc3a"><path d="M469.5 261.4 a62.6 62.6 0 1 0 125.2 0 a62.6 62.6 0 1 0 -125.2 0Z M573.83 261.4 a10.43 10.43 0 1 0 20.87 0 a10.43 10.43 0 1 0 -20.87 0Z" clip-rule="evenodd"/></clipPath><clipPath id="sc3b"><path d="M469.5 261.4 a62.6 62.6 0 1 0 125.2 0 a62.6 62.6 0 1 0 -125.2 0Z M552.97 261.4 a20.87 20.87 0 1 0 41.73 0 a20.87 20.87 0 1 0 -41.73 0Z" clip-rule="evenodd"/></clipPath></defs>
<g clip-path="url(#sc3b)" fill="none"><circle cx="537.79" cy="261.4" r="56.91" stroke="#dfe3d9" stroke-width="0.3"/><circle cx="594.7" cy="-364.6" r="626" stroke="#dfe3d9" stroke-width="0.3"/><circle cx="594.7" cy="887.4" r="626" stroke="#dfe3d9" stroke-width="0.3"/><circle cx="546.55" cy="261.4" r="48.15" stroke="#dfe3d9" stroke-width="0.3"/><circle cx="594.7" cy="52.73" r="208.67" stroke="#dfe3d9" stroke-width="0.3"/><circle cx="594.7" cy="470.07" r="208.67" stroke="#dfe3d9" stroke-width="0.3"/><circle cx="557.88" cy="261.4" r="36.82" stroke="#dfe3d9" stroke-width="0.3"/><circle cx="594.7" cy="171.97" r="89.43" stroke="#dfe3d9" stroke-width="0.3"/><circle cx="594.7" cy="350.83" r="89.43" stroke="#dfe3d9" stroke-width="0.3"/><circle cx="569.66" cy="261.4" r="25.04" stroke="#dfe3d9" stroke-width="0.3"/><circle cx="594.7" cy="219.67" r="41.73" stroke="#dfe3d9" stroke-width="0.3"/><circle cx="594.7" cy="303.13" r="41.73" stroke="#dfe3d9" stroke-width="0.3"/></g><g clip-path="url(#sc3a)" fill="none"><circle cx="594.7" cy="-51.6" r="313" stroke="#858585" stroke-width="0.45"/><circle cx="594.7" cy="574.4" r="313" stroke="#858585" stroke-width="0.45"/><circle cx="594.7" cy="136.2" r="125.2" stroke="#858585" stroke-width="0.45"/><circle cx="594.7" cy="386.6" r="125.2" stroke="#858585" stroke-width="0.45"/><circle cx="594.7" cy="198.8" r="62.6" stroke="#858585" stroke-width="0.45"/><circle cx="594.7" cy="324" r="62.6" stroke="#858585" stroke-width="0.45"/></g><g clip-path="url(#sc3)" fill="none"><circle cx="542.53" cy="261.4" r="52.17" stroke="#858585" stroke-width="0.45"/><circle cx="552.97" cy="261.4" r="41.73" stroke="#858585" stroke-width="0.45"/><circle cx="563.4" cy="261.4" r="31.3" stroke="#858585" stroke-width="0.45"/><circle cx="573.83" cy="261.4" r="20.87" stroke="#858585" stroke-width="0.45"/><circle cx="584.27" cy="261.4" r="10.43" stroke="#858585" stroke-width="0.45"/><circle cx="589.01" cy="261.4" r="5.69" stroke="#858585" stroke-width="0.45"/><circle cx="594.7" cy="248.88" r="12.52" stroke="#858585" stroke-width="0.45"/><circle cx="594.7" cy="273.92" r="12.52" stroke="#858585" stroke-width="0.45"/><circle cx="594.7" cy="230.1" r="31.3" stroke="#858585" stroke-width="0.45"/><circle cx="594.7" cy="292.7" r="31.3" stroke="#858585" stroke-width="0.45"/><line x1="469.5" y1="261.4" x2="594.7" y2="261.4" stroke="#858585" stroke-width="0.5"/></g>
<circle cx="532.1" cy="261.4" r="62.6" fill="none" stroke="#111" stroke-width="0.9"/>
<text x="470.02" y="237.52" font-family='"Liberation Sans", Arial, sans-serif' font-size="4.8" font-weight="bold" fill="#222" text-anchor="middle">0.2j</text>
<text x="469.62" y="289.58" font-family='"Liberation Sans", Arial, sans-serif' font-size="4.8" font-weight="bold" fill="#222" text-anchor="middle">-0.2j</text>
<text x="491.04" y="210.02" font-family='"Liberation Sans", Arial, sans-serif' font-size="4.8" font-weight="bold" fill="#222" text-anchor="middle">0.5j</text>
<text x="490.64" y="316.88" font-family='"Liberation Sans", Arial, sans-serif' font-size="4.8" font-weight="bold" fill="#222" text-anchor="middle">-0.5j</text>
<text x="533.1" y="197.1" font-family='"Liberation Sans", Arial, sans-serif' font-size="4.8" font-weight="bold" fill="#222" text-anchor="middle">1.0j</text>
<text x="532.7" y="330.9" font-family='"Liberation Sans", Arial, sans-serif' font-size="4.8" font-weight="bold" fill="#222" text-anchor="middle">-1.0j</text>
<text x="574.16" y="210.02" font-family='"Liberation Sans", Arial, sans-serif' font-size="4.8" font-weight="bold" fill="#222" text-anchor="middle">2.0j</text>
<text x="573.76" y="316.88" font-family='"Liberation Sans", Arial, sans-serif' font-size="4.8" font-weight="bold" fill="#222" text-anchor="middle">-2.0j</text>
<text x="596.08" y="237.52" font-family='"Liberation Sans", Arial, sans-serif' font-size="4.8" font-weight="bold" fill="#222" text-anchor="middle">5.0j</text>
<text x="595.68" y="289.58" font-family='"Liberation Sans", Arial, sans-serif' font-size="4.8" font-weight="bold" fill="#222" text-anchor="middle">-5.0j</text>
<text x="490.97" y="267.8" font-family='"Liberation Sans", Arial, sans-serif' font-size="4.8" font-weight="bold" fill="#222" text-anchor="middle">0.2</text>
<text x="511.83" y="267.8" font-family='"Liberation Sans", Arial, sans-serif' font-size="4.8" font-weight="bold" fill="#222" text-anchor="middle">0.5</text>
<text x="532.7" y="267.8" font-family='"Liberation Sans", Arial, sans-serif' font-size="4.8" font-weight="bold" fill="#222" text-anchor="middle">1.0</text>
<text x="553.57" y="267.8" font-family='"Liberation Sans", Arial, sans-serif' font-size="4.8" font-weight="bold" fill="#222" text-anchor="middle">2.0</text>
<text x="574.43" y="267.8" font-family='"Liberation Sans", Arial, sans-serif' font-size="4.8" font-weight="bold" fill="#222" text-anchor="middle">5.0</text>
<circle cx="532.8" cy="262.3" r="21.22" fill="#e8dfe4" fill-opacity="0.66" stroke="#111" stroke-width="1.6" stroke-dasharray="4.6 2.8"/>
<path d="M547.65 248.09 L547.6 248.29 L547.56 248.55 L547.5 248.85 L547.44 249.19 L547.38 249.56 L547.3 249.95 L547.22 250.35 L547.12 250.77 L547.01 251.18 L546.89 251.59 L546.75 251.99 L546.6 252.37 L546.43 252.74 L546.24 253.11 L546.04 253.49 L545.82 253.88 L545.59 254.27 L545.35 254.65 L545.1 255.04 L544.84 255.41 L544.58 255.78 L544.31 256.14 L544.04 256.48 L543.77 256.81 L543.5 257.12 L543.22 257.43 L542.93 257.73 L542.64 258.02 L542.34 258.3 L542.03 258.58 L541.72 258.84 L541.41 259.1 L541.09 259.35 L540.78 259.59 L540.46 259.82 L540.14 260.04 L539.81 260.25 L539.49 260.46 L539.16 260.65 L538.82 260.83 L538.48 261.01 L538.14 261.18 L537.8 261.34 L537.46 261.49 L537.12 261.64 L536.78 261.78 L536.44 261.92 L536.1 262.06 L535.76 262.19 L535.43 262.32 L535.09 262.44 L534.75 262.56 L534.42 262.68 L534.08 262.78 L533.74 262.88 L533.41 262.98 L533.07 263.06 L532.73 263.14 L532.4 263.21 L532.06 263.27 L531.72 263.33 L531.37 263.39 L531.03 263.44 L530.67 263.49 L530.32 263.53 L529.97 263.56 L529.63 263.58 L529.29 263.59 L528.96 263.58 L528.63 263.55 L528.32 263.5 L528.02 263.43 L527.73 263.34 L527.44 263.21 L527.15 263.07 L526.88 262.91 L526.6 262.73 L526.34 262.54 L526.09 262.34 L525.85 262.13 L525.62 261.91 L525.41 261.69 L525.21 261.47 L525.03 261.25 L524.87 261.03 L524.71 260.79 L524.57 260.55 L524.43 260.29 L524.31 260.04 L524.2 259.77 L524.12 259.51 L524.05 259.25 L523.99 258.99 L523.97 258.74 L523.96 258.5 L523.98 258.26 L524.03 258.03 L524.11 257.8 L524.21 257.56 L524.34 257.32 L524.48 257.08 L524.64 256.85 L524.82 256.64 L525.01 256.44 L525.21 256.25 L525.42 256.09 L525.63 255.95 L525.84 255.84 L526.07 255.76 L526.32 255.69 L526.59 255.64 L526.87 255.61 L527.16 255.6 L527.46 255.61 L527.76 255.63 L528.05 255.67 L528.33 255.73 L528.6 255.8 L528.85 255.9 L529.07 256 L529.28 256.13 L529.48 256.29 L529.67 256.47 L529.86 256.67 L530.04 256.89 L530.2 257.12 L530.35 257.36 L530.49 257.61 L530.61 257.86 L530.71 258.11 L530.79 258.35 L530.85 258.59 L530.88 258.82 L530.9 259.07 L530.89 259.34 L530.86 259.6 L530.82 259.87 L530.76 260.14 L530.69 260.4 L530.6 260.66 L530.51 260.9 L530.41 261.12 L530.31 261.32 L530.2 261.49 L530.08 261.65 L529.94 261.8 L529.78 261.93 L529.61 262.05 L529.43 262.16 L529.24 262.25 L529.06 262.33 L528.87 262.39 L528.7 262.44 L528.54 262.46 L528.39 262.47 L528.26 262.46 L528.15 262.43 L528.03 262.35 L527.92 262.26 L527.81 262.13 L527.72 262 L527.63 261.85 L527.55 261.69 L527.49 261.54 L527.45 261.38 L527.43 261.24 L527.43 261.12 L527.46 261.01 L527.51 260.92 L527.59 260.83 L527.68 260.74 L527.8 260.66 L527.94 260.59 L528.09 260.51 L528.26 260.45 L528.44 260.39 L528.63 260.33 L528.82 260.28 L529.03 260.24 L529.23 260.2 L529.45 260.17 L529.68 260.15 L529.93 260.13 L530.19 260.11 L530.46 260.1 L530.73 260.1 L531.02 260.1 L531.3 260.11 L531.59 260.13 L531.88 260.15 L532.18 260.17 L532.46 260.2 L532.75 260.24 L533.06 260.28 L533.36 260.32 L533.68 260.37 L533.99 260.43 L534.31 260.49 L534.62 260.56 L534.93 260.63 L535.24 260.71 L535.53 260.8 L535.82 260.9 L536.1 261.01 L536.36 261.12 L536.62 261.24 L536.88 261.36 L537.12 261.49 L537.36 261.62 L537.6 261.76 L537.83 261.91 L538.06 262.08 L538.28 262.25 L538.5 262.44 L538.71 262.65 L538.93 262.87 L539.14 263.11 L539.34 263.37 L539.55 263.65 L539.75 263.95 L539.94 264.26 L540.13 264.57 L540.32 264.9 L540.5 265.22 L540.68 265.55 L540.85 265.88 L541.02 266.19 L541.19 266.5 L541.35 266.82 L541.51 267.15 L541.67 267.5 L541.83 267.85 L541.99 268.2 L542.14 268.55 L542.28 268.88 L542.41 269.19 L542.53 269.48 L542.63 269.74 L542.73 269.96 L542.8 270.14" fill="none" stroke="#f81c22" stroke-width="1.0"/>
<circle cx="547.65" cy="248.09" r="2.2" fill="#e8151b"/>
<circle cx="542.8" cy="270.14" r="2.2" fill="#e8151b"/>
<text x="544.5" y="242.3" font-family='"Liberation Sans", Arial, sans-serif' font-size="14" font-weight="bold">2 GHz</text>
<text x="538.2" y="285.1" font-family='"Liberation Sans", Arial, sans-serif' font-size="14" font-weight="bold">12 GHz</text>
<polygon points="180,255.9 216.1,260.9 216.1,262.7 180,257.7" fill="#3f9e98" stroke="#3f9e98" stroke-width="0.4"/><polygon points="216.1,260.9 232.8,250.6 232.8,252.4 216.1,262.7" fill="#5cb8b0" stroke="#5cb8b0" stroke-width="0.4"/><polygon points="180,255.9 197.6,244.9 232.8,250.6 216.1,260.9" fill="#5a9a93" stroke="#5a9a93" stroke-width="0.3"/><polygon points="180,204 216.1,209.2 216.1,260.9 180,255.9" fill="#f5cad0" fill-opacity="0.9"/><polygon points="216.1,209.2 232.8,198.9 232.8,250.6 216.1,260.9" fill="#f3d3d7" fill-opacity="0.9"/><polygon points="180,255.9 216.1,260.9 216.1,262.7 180,257.7" fill="#45a199" stroke="#45a199" stroke-width="0.4"/><polygon points="216.1,260.9 232.8,250.6 232.8,252.4 216.1,262.7" fill="#62bab1" stroke="#62bab1" stroke-width="0.4"/><polygon points="180,255.9 197.6,244.9 232.8,250.6 216.1,260.9" fill="#789f9a" stroke="#789f9a" stroke-width="0.3"/><polygon points="180,237.8 197.6,227.9 232.8,233 216.1,242.7" fill="#ecbcc6" fill-opacity="0.75"/><polygon points="188.8,237.4 213,240.5 213,241.2 188.8,238.1" fill="#c98a2a" stroke="#c98a2a" stroke-width="0.4"/><polygon points="213,240.5 224.9,233.9 224.9,234.6 213,241.2" fill="#d4952d" stroke="#d4952d" stroke-width="0.4"/><polygon points="188.8,237.4 200.2,230.1 224.9,233.9 213,240.5" fill="#eba95e" stroke="#eba95e" stroke-width="0.3"/><polygon points="180,202.2 216.1,207.4 216.1,209.2 180,204" fill="#3c9f98" stroke="#3c9f98" stroke-width="0.4"/><polygon points="216.1,207.4 232.8,197.1 232.8,198.9 216.1,209.2" fill="#5cbab2" stroke="#5cbab2" stroke-width="0.4"/><polygon points="180,202.2 196.9,191.6 232.8,197.1 216.1,207.4" fill="#64a9a1" stroke="#64a9a1" stroke-width="0.3"/>
<polygon points="397.1,253.7 432.3,260.9 432.3,263.1 397.1,255.9" fill="#3f9e98" stroke="#3f9e98" stroke-width="0.4"/><polygon points="432.3,260.9 449.9,245.5 449.9,247.7 432.3,263.1" fill="#5cb8b0" stroke="#5cb8b0" stroke-width="0.4"/><polygon points="397.1,253.7 415.8,238.9 449.9,245.5 432.3,260.9" fill="#5a9a93" stroke="#5a9a93" stroke-width="0.3"/><polygon points="397.1,208.8 432.3,216.5 432.3,260.9 397.1,253.7" fill="#f5cad0" fill-opacity="0.9"/><polygon points="432.3,216.5 449.9,201.5 449.9,245.5 432.3,260.9" fill="#f3d3d7" fill-opacity="0.9"/><polygon points="397.1,253.7 432.3,260.9 432.3,263.1 397.1,255.9" fill="#45a199" stroke="#45a199" stroke-width="0.4"/><polygon points="432.3,260.9 449.9,245.5 449.9,247.7 432.3,263.1" fill="#62bab1" stroke="#62bab1" stroke-width="0.4"/><polygon points="397.1,253.7 415.8,238.9 449.9,245.5 432.3,260.9" fill="#789f9a" stroke="#789f9a" stroke-width="0.3"/><polygon points="397.1,221.5 414.7,207.5 449.9,214.5 432.3,229" fill="#ecbcc6" fill-opacity="0.75"/><polygon points="397.1,235 414.7,220.5 449.9,228 432.3,243" fill="#ecbcc6" fill-opacity="0.75"/><polygon points="408.1,220.2 430.1,225.7 430.1,226.4 408.1,220.9" fill="#c98a2a" stroke="#c98a2a" stroke-width="0.4"/><polygon points="430.1,225.7 439.4,217.6 439.4,218.3 430.1,226.4" fill="#d4952d" stroke="#d4952d" stroke-width="0.4"/><polygon points="408.1,220.2 418,213.6 439.4,217.6 430.1,225.7" fill="#eba95e" stroke="#eba95e" stroke-width="0.3"/><polygon points="405.2,236.1 431.2,241.1 431.2,241.8 405.2,236.8" fill="#c98a2a" stroke="#c98a2a" stroke-width="0.4"/><polygon points="431.2,241.1 442.2,231.2 442.2,231.9 431.2,241.8" fill="#d4952d" stroke="#d4952d" stroke-width="0.4"/><polygon points="405.2,236.1 416.9,226.4 442.2,231.2 431.2,241.1" fill="#eba95e" stroke="#eba95e" stroke-width="0.3"/><polygon points="397.1,206.6 432.3,214.3 432.3,216.5 397.1,208.8" fill="#3c9f98" stroke="#3c9f98" stroke-width="0.4"/><polygon points="432.3,214.3 449.9,199.3 449.9,201.5 432.3,216.5" fill="#5cbab2" stroke="#5cbab2" stroke-width="0.4"/><polygon points="397.1,206.6 414.7,191.6 449.9,199.3 432.3,214.3" fill="#64a9a1" stroke="#64a9a1" stroke-width="0.3"/>
<polygon points="613.7,255.4 650,260.9 650,262.7 613.7,257.2" fill="#3f9e98" stroke="#3f9e98" stroke-width="0.4"/><polygon points="650,260.9 666.5,249.9 666.5,251.7 650,262.7" fill="#5cb8b0" stroke="#5cb8b0" stroke-width="0.4"/><polygon points="613.7,255.4 632.4,244.4 666.5,249.9 650,260.9" fill="#5a9a93" stroke="#5a9a93" stroke-width="0.3"/><polygon points="613.7,204 650,208.8 650,260.9 613.7,255.4" fill="#f5cad0" fill-opacity="0.9"/><polygon points="650,208.8 666.5,198.2 666.5,249.9 650,260.9" fill="#f3d3d7" fill-opacity="0.9"/><polygon points="613.7,255.4 650,260.9 650,262.7 613.7,257.2" fill="#45a199" stroke="#45a199" stroke-width="0.4"/><polygon points="650,260.9 666.5,249.9 666.5,251.7 650,262.7" fill="#62bab1" stroke="#62bab1" stroke-width="0.4"/><polygon points="613.7,255.4 632.4,244.4 666.5,249.9 650,260.9" fill="#789f9a" stroke="#789f9a" stroke-width="0.3"/><polygon points="613.7,213.5 631.3,203.5 666.5,208.5 650,219" fill="#ecbcc6" fill-opacity="0.75"/><polygon points="613.7,223.5 631.3,213 666.5,218 650,229" fill="#ecbcc6" fill-opacity="0.75"/><polygon points="613.7,237.5 631.3,226.5 666.5,231.5 650,242.5" fill="#ecbcc6" fill-opacity="0.75"/><polygon points="625.8,213.2 645.2,216.3 645.2,217 625.8,213.9" fill="#c98a2a" stroke="#c98a2a" stroke-width="0.4"/><polygon points="645.2,216.3 654.4,211.4 654.4,212.1 645.2,217" fill="#d4952d" stroke="#d4952d" stroke-width="0.4"/><polygon points="625.8,213.2 635.7,208.1 654.4,211.4 645.2,216.3" fill="#eba95e" stroke="#eba95e" stroke-width="0.3"/><polygon points="624.3,222.9 646,226.4 646,227.1 624.3,223.6" fill="#c98a2a" stroke="#c98a2a" stroke-width="0.4"/><polygon points="646,226.4 656.2,220.2 656.2,220.9 646,227.1" fill="#d4952d" stroke="#d4952d" stroke-width="0.4"/><polygon points="624.3,222.9 634.6,216.9 656.2,220.2 646,226.4" fill="#eba95e" stroke="#eba95e" stroke-width="0.3"/><polygon points="621.8,236.7 646,240.5 646,241.2 621.8,237.4" fill="#c98a2a" stroke="#c98a2a" stroke-width="0.4"/><polygon points="646,240.5 658.4,233.4 658.4,234.1 646,241.2" fill="#d4952d" stroke="#d4952d" stroke-width="0.4"/><polygon points="621.8,236.7 634.2,229 658.4,233.4 646,240.5" fill="#eba95e" stroke="#eba95e" stroke-width="0.3"/><polygon points="613.7,202.2 650,207 650,208.8 613.7,204" fill="#3c9f98" stroke="#3c9f98" stroke-width="0.4"/><polygon points="650,207 666.5,196.4 666.5,198.2 650,208.8" fill="#5cbab2" stroke="#5cbab2" stroke-width="0.4"/><polygon points="613.7,202.2 631.3,191.6 666.5,196.4 650,207" fill="#64a9a1" stroke="#64a9a1" stroke-width="0.3"/>
<text x="207.7" y="289.5" font-family='"Liberation Sans", Arial, sans-serif' font-size="13.9" fill="#111" text-anchor="middle">1-layer</text>
<text x="207.7" y="306.5" font-family='"Liberation Sans", Arial, sans-serif' font-size="13.9" fill="#111" text-anchor="middle">metasurface</text>
<text x="423.9" y="289.5" font-family='"Liberation Sans", Arial, sans-serif' font-size="13.9" fill="#111" text-anchor="middle">2-layer</text>
<text x="423.9" y="306.5" font-family='"Liberation Sans", Arial, sans-serif' font-size="13.9" fill="#111" text-anchor="middle">metasurface</text>
<text x="641.8" y="291.7" font-family='"Liberation Sans", Arial, sans-serif' font-size="13.9" fill="#111" text-anchor="middle">3-layer</text>
<text x="641.8" y="308.3" font-family='"Liberation Sans", Arial, sans-serif' font-size="13.9" fill="#111" text-anchor="middle">metasurface</text>
<!-- panel_def -->
<text x="0" y="359.7" font-family='"Liberation Sans", Arial, sans-serif' font-size="21" font-weight="bold">d</text>
<rect x="33" y="346.7" width="32.54" height="132.6" fill="#e9f3fb"/><rect x="65.54" y="346.7" width="65.08" height="132.6" fill="#fdf4e6"/><rect x="130.62" y="346.7" width="65.08" height="132.6" fill="#fdeaea"/><line x1="65.54" y1="346.7" x2="65.54" y2="479.3" stroke="#9a9a9a" stroke-width="0.6"/><line x1="130.62" y1="346.7" x2="130.62" y2="479.3" stroke="#9a9a9a" stroke-width="0.6"/>
<line x1="33" y1="388.05" x2="195.7" y2="388.05" stroke="#3a3a3a" stroke-width="1" stroke-dasharray="4 2.6"/>
<line x1="33" y1="429.3" x2="195.7" y2="429.3" stroke="#3a3a3a" stroke-width="1" stroke-dasharray="4 2.6"/>
<path d="M33 364.54 L33.68 366.81 L34.36 369.02 L35.04 371.16 L35.72 373.26 L36.4 375.33 L37.08 377.38 L37.77 379.38 L38.45 381.33 L39.13 383.19 L39.81 384.95 L40.49 386.6 L41.17 388.12 L41.85 389.49 L42.53 390.71 L43.21 391.78 L43.89 392.73 L44.57 393.57 L45.25 394.31 L45.93 394.99 L46.62 395.62 L47.3 396.23 L47.98 396.82 L48.66 397.38 L49.34 397.91 L50.02 398.39 L50.7 398.81 L51.38 399.16 L52.06 399.45 L52.74 399.66 L53.42 399.84 L54.1 400.01 L54.78 400.17 L55.46 400.31 L56.15 400.44 L56.83 400.55 L57.51 400.65 L58.19 400.72 L58.87 400.78 L59.55 400.82 L60.23 400.84 L60.91 400.84 L61.59 400.83 L62.27 400.83 L62.95 400.83 L63.63 400.82 L64.31 400.8 L65 400.77 L65.68 400.73 L66.36 400.66 L67.04 400.57 L67.72 400.46 L68.4 400.32 L69.08 400.14 L69.76 399.96 L70.44 399.78 L71.12 399.59 L71.8 399.4 L72.48 399.21 L73.16 399.01 L73.85 398.81 L74.53 398.61 L75.21 398.41 L75.89 398.2 L76.57 397.99 L77.25 397.78 L77.93 397.56 L78.61 397.35 L79.29 397.13 L79.97 396.91 L80.65 396.68 L81.33 396.46 L82.01 396.23 L82.69 396 L83.38 395.77 L84.06 395.53 L84.74 395.29 L85.42 395.05 L86.1 394.81 L86.78 394.57 L87.46 394.32 L88.14 394.08 L88.82 393.84 L89.5 393.59 L90.18 393.35 L90.86 393.11 L91.54 392.87 L92.23 392.64 L92.91 392.4 L93.59 392.17 L94.27 391.95 L94.95 391.72 L95.63 391.51 L96.31 391.3 L96.99 391.09 L97.67 390.9 L98.35 390.71 L99.03 390.52 L99.71 390.34 L100.39 390.17 L101.08 390 L101.76 389.84 L102.44 389.68 L103.12 389.53 L103.8 389.38 L104.48 389.23 L105.16 389.09 L105.84 388.95 L106.52 388.81 L107.2 388.69 L107.88 388.57 L108.56 388.47 L109.24 388.37 L109.93 388.29 L110.61 388.22 L111.29 388.16 L111.97 388.12 L112.65 388.08 L113.33 388.06 L114.01 388.05 L114.69 388.05 L115.37 388.07 L116.05 388.09 L116.73 388.11 L117.41 388.15 L118.09 388.2 L118.77 388.25 L119.46 388.31 L120.14 388.38 L120.82 388.45 L121.5 388.54 L122.18 388.63 L122.86 388.72 L123.54 388.82 L124.22 388.91 L124.9 389.01 L125.58 389.12 L126.26 389.22 L126.94 389.34 L127.62 389.46 L128.31 389.59 L128.99 389.73 L129.67 389.88 L130.35 390.04 L131.03 390.22 L131.71 390.4 L132.39 390.58 L133.07 390.76 L133.75 390.95 L134.43 391.14 L135.11 391.33 L135.79 391.52 L136.47 391.71 L137.16 391.91 L137.84 392.1 L138.52 392.3 L139.2 392.49 L139.88 392.69 L140.56 392.88 L141.24 393.08 L141.92 393.27 L142.6 393.47 L143.28 393.66 L143.96 393.85 L144.64 394.04 L145.32 394.23 L146.01 394.41 L146.69 394.6 L147.37 394.78 L148.05 394.96 L148.73 395.14 L149.41 395.32 L150.09 395.5 L150.77 395.67 L151.45 395.85 L152.13 396.03 L152.81 396.2 L153.49 396.38 L154.17 396.55 L154.85 396.73 L155.54 396.9 L156.22 397.07 L156.9 397.24 L157.58 397.42 L158.26 397.58 L158.94 397.75 L159.62 397.92 L160.3 398.09 L160.98 398.25 L161.66 398.42 L162.34 398.58 L163.02 398.74 L163.7 398.9 L164.39 399.06 L165.07 399.2 L165.75 399.35 L166.43 399.48 L167.11 399.61 L167.79 399.74 L168.47 399.86 L169.15 399.97 L169.83 400.09 L170.51 400.19 L171.19 400.29 L171.87 400.39 L172.55 400.49 L173.24 400.58 L173.92 400.66 L174.6 400.75 L175.28 400.83 L175.96 400.9 L176.64 400.98 L177.32 401.05 L178 401.11 L178.68 401.18 L179.36 401.24 L180.04 401.3 L180.72 401.35 L181.4 401.4 L182.08 401.44 L182.77 401.47 L183.45 401.49 L184.13 401.51 L184.81 401.52 L185.49 401.53 L186.17 401.53 L186.85 401.52 L187.53 401.51 L188.21 401.49 L188.89 401.47 L189.57 401.44 L190.25 401.4 L190.93 401.36 L191.62 401.31 L192.3 401.25 L192.98 401.19 L193.66 401.11 L194.34 401.03 L195.02 400.94 L195.7 400.84" fill="none" stroke="#161616" stroke-width="0.95"/>
<path d="M33 412.8 L33.68 416.11 L34.36 419.11 L35.04 421.9 L35.72 424.43 L36.4 426.65 L37.08 428.52 L37.77 430.08 L38.45 431.4 L39.13 432.45 L39.81 433.2 L40.49 433.61 L41.17 433.67 L41.85 433.54 L42.53 433.41 L43.21 433.26 L43.89 433.09 L44.57 432.89 L45.25 432.67 L45.93 432.43 L46.62 432.16 L47.3 431.89 L47.98 431.63 L48.66 431.36 L49.34 431.1 L50.02 430.83 L50.7 430.57 L51.38 430.3 L52.06 430.02 L52.74 429.75 L53.42 429.47 L54.1 429.18 L54.78 428.89 L55.46 428.6 L56.15 428.3 L56.83 428 L57.51 427.7 L58.19 427.39 L58.87 427.08 L59.55 426.78 L60.23 426.47 L60.91 426.16 L61.59 425.85 L62.27 425.55 L62.95 425.25 L63.63 424.95 L64.31 424.66 L65 424.37 L65.68 424.09 L66.36 423.82 L67.04 423.56 L67.72 423.32 L68.4 423.09 L69.08 422.88 L69.76 422.67 L70.44 422.48 L71.12 422.29 L71.8 422.12 L72.48 421.95 L73.16 421.79 L73.85 421.63 L74.53 421.48 L75.21 421.35 L75.89 421.23 L76.57 421.11 L77.25 421.01 L77.93 420.92 L78.61 420.84 L79.29 420.78 L79.97 420.72 L80.65 420.68 L81.33 420.65 L82.01 420.63 L82.69 420.62 L83.38 420.62 L84.06 420.63 L84.74 420.65 L85.42 420.68 L86.1 420.71 L86.78 420.75 L87.46 420.8 L88.14 420.86 L88.82 420.93 L89.5 421 L90.18 421.08 L90.86 421.16 L91.54 421.25 L92.23 421.35 L92.91 421.45 L93.59 421.55 L94.27 421.67 L94.95 421.79 L95.63 421.92 L96.31 422.07 L96.99 422.22 L97.67 422.39 L98.35 422.57 L99.03 422.75 L99.71 422.95 L100.39 423.15 L101.08 423.36 L101.76 423.58 L102.44 423.8 L103.12 424.03 L103.8 424.27 L104.48 424.51 L105.16 424.77 L105.84 425.03 L106.52 425.3 L107.2 425.57 L107.88 425.85 L108.56 426.14 L109.24 426.43 L109.93 426.73 L110.61 427.03 L111.29 427.33 L111.97 427.62 L112.65 427.92 L113.33 428.21 L114.01 428.5 L114.69 428.78 L115.37 429.06 L116.05 429.33 L116.73 429.59 L117.41 429.85 L118.09 430.11 L118.77 430.36 L119.46 430.6 L120.14 430.84 L120.82 431.08 L121.5 431.32 L122.18 431.55 L122.86 431.78 L123.54 432 L124.22 432.22 L124.9 432.44 L125.58 432.64 L126.26 432.85 L126.94 433.04 L127.62 433.22 L128.31 433.4 L128.99 433.58 L129.67 433.75 L130.35 433.91 L131.03 434.06 L131.71 434.21 L132.39 434.36 L133.07 434.5 L133.75 434.64 L134.43 434.77 L135.11 434.89 L135.79 435.01 L136.47 435.11 L137.16 435.21 L137.84 435.3 L138.52 435.38 L139.2 435.45 L139.88 435.51 L140.56 435.56 L141.24 435.61 L141.92 435.64 L142.6 435.67 L143.28 435.69 L143.96 435.7 L144.64 435.7 L145.32 435.7 L146.01 435.69 L146.69 435.67 L147.37 435.65 L148.05 435.62 L148.73 435.59 L149.41 435.56 L150.09 435.52 L150.77 435.47 L151.45 435.42 L152.13 435.36 L152.81 435.3 L153.49 435.24 L154.17 435.17 L154.85 435.09 L155.54 435.02 L156.22 434.94 L156.9 434.86 L157.58 434.77 L158.26 434.68 L158.94 434.59 L159.62 434.5 L160.3 434.4 L160.98 434.3 L161.66 434.19 L162.34 434.09 L163.02 433.97 L163.7 433.86 L164.39 433.74 L165.07 433.61 L165.75 433.48 L166.43 433.35 L167.11 433.21 L167.79 433.07 L168.47 432.92 L169.15 432.76 L169.83 432.6 L170.51 432.44 L171.19 432.27 L171.87 432.09 L172.55 431.91 L173.24 431.72 L173.92 431.53 L174.6 431.34 L175.28 431.14 L175.96 430.94 L176.64 430.73 L177.32 430.52 L178 430.3 L178.68 430.08 L179.36 429.86 L180.04 429.64 L180.72 429.41 L181.4 429.18 L182.08 428.94 L182.77 428.7 L183.45 428.45 L184.13 428.19 L184.81 427.92 L185.49 427.64 L186.17 427.36 L186.85 427.07 L187.53 426.77 L188.21 426.46 L188.89 426.14 L189.57 425.82 L190.25 425.48 L190.93 425.12 L191.62 424.76 L192.3 424.37 L192.98 423.98 L193.66 423.57 L194.34 423.16 L195.02 422.73 L195.7 422.29" fill="none" stroke="#fa1616" stroke-width="1.1"/>
<line x1="40.81" y1="449.6" x2="40.81" y2="394.05" stroke="#111" stroke-width="0.8" shape-rendering="crispEdges"/>
<polygon points="40.81,388.35 42.96,396.35 38.66,396.35" fill="#111"/>
<line x1="114.84" y1="449.6" x2="114.84" y2="394.05" stroke="#111" stroke-width="0.8" shape-rendering="crispEdges"/>
<polygon points="114.84,388.35 116.99,396.35 112.69,396.35" fill="#111"/>
<text x="36.9" y="459.7" font-family='"Liberation Sans", Arial, sans-serif' font-size="7.8" font-weight="bold" fill="#111">2.5 GHz</text>
<text x="101.5" y="460.4" font-family='"Liberation Sans", Arial, sans-serif' font-size="7.8" font-weight="bold" fill="#111">7.1 GHz</text>
<path d="M40.81 388.05 C44.81 380 52.81 376.2 63 375.9" fill="none" stroke="#0c0cf2" stroke-width="0.9"/>
<polygon points="68,375.9 60,377.7 60,374.1" fill="#0c0cf2"/>
<path d="M114.84 388.05 C116.34 397 123.84 401.6 134.5 402.3" fill="none" stroke="#0c0cf2" stroke-width="0.9"/>
<polygon points="139.6,402.4 131.55,403.96 131.66,400.36" fill="#0c0cf2"/>
<path d="M114.84 429.3 C116.34 439 123.84 443.8 134.5 444.6" fill="none" stroke="#0c0cf2" stroke-width="0.9"/>
<polygon points="139.6,444.7 131.55,446.26 131.66,442.66" fill="#0c0cf2"/>
<text x="68.4" y="378.7" font-family='"Liberation Sans", Arial, sans-serif' font-size="7.8" font-weight="bold" font-style="italic" fill="#0c0cf2">Re(Z<tspan font-size="4.84" dy="1.6">in</tspan><tspan dy="-1.6" font-style="normal">)=1</tspan></text>
<text x="140.6" y="407.3" font-family='"Liberation Sans", Arial, sans-serif' font-size="7.8" font-weight="bold" font-style="italic" fill="#0c0cf2">Re(Z<tspan font-size="4.84" dy="1.6">in</tspan><tspan dy="-1.6" font-style="normal">)=1</tspan></text>
<text x="142.3" y="447.9" font-family='"Liberation Sans", Arial, sans-serif' font-size="7.8" font-weight="bold" font-style="italic" fill="#0c0cf2">Im(Z<tspan font-size="4.84" dy="1.6">in</tspan><tspan dy="-1.6" font-style="normal">)=0</tspan></text>
<line x1="101.5" y1="354" x2="117.3" y2="354" stroke="#1a1a1a" stroke-width="0.9"/>
<line x1="101.5" y1="365.3" x2="117.3" y2="365.3" stroke="#fa1616" stroke-width="0.9"/>
<text x="120" y="356.6" font-family='"Liberation Sans", Arial, sans-serif' font-size="7.55" font-weight="bold" fill="#111">Real part of <tspan font-style="italic">Z</tspan><tspan font-style="italic" font-size="4.9" dy="1.4">in</tspan></text>
<text x="120" y="368.1" font-family='"Liberation Sans", Arial, sans-serif' font-size="7.55" font-weight="bold" fill="#111">Imaginary part of <tspan font-style="italic">Z</tspan><tspan font-style="italic" font-size="4.9" dy="1.4">in</tspan></text>
<rect x="33" y="346.7" width="162.7" height="132.6" fill="none" stroke="#8a8a8a" stroke-width="0.8"/>
<line x1="33" y1="346.3" x2="33" y2="479.7" stroke="#2a2a2a" stroke-width="0.8" shape-rendering="crispEdges"/>
<line x1="33" y1="479.3" x2="195.7" y2="479.3" stroke="#2a2a2a" stroke-width="0.8" shape-rendering="crispEdges"/>
<line x1="33" y1="357.11" x2="31.5" y2="357.11" stroke="#222" stroke-width="0.7" shape-rendering="crispEdges"/><line x1="33" y1="377.74" x2="31.5" y2="377.74" stroke="#222" stroke-width="0.7" shape-rendering="crispEdges"/><line x1="33" y1="398.36" x2="31.5" y2="398.36" stroke="#222" stroke-width="0.7" shape-rendering="crispEdges"/><line x1="33" y1="418.99" x2="31.5" y2="418.99" stroke="#222" stroke-width="0.7" shape-rendering="crispEdges"/><line x1="33" y1="439.61" x2="31.5" y2="439.61" stroke="#222" stroke-width="0.7" shape-rendering="crispEdges"/><line x1="33" y1="460.24" x2="31.5" y2="460.24" stroke="#222" stroke-width="0.7" shape-rendering="crispEdges"/><line x1="33" y1="346.8" x2="30.4" y2="346.8" stroke="#222" stroke-width="0.7" shape-rendering="crispEdges"/><text x="28" y="349.6" font-family='"Liberation Sans", Arial, sans-serif' font-size="8.2" font-weight="bold" fill="#111" text-anchor="end">2.0</text><line x1="33" y1="367.43" x2="30.4" y2="367.43" stroke="#222" stroke-width="0.7" shape-rendering="crispEdges"/><text x="28" y="370.23" font-family='"Liberation Sans", Arial, sans-serif' font-size="8.2" font-weight="bold" fill="#111" text-anchor="end">1.5</text><line x1="33" y1="388.05" x2="30.4" y2="388.05" stroke="#222" stroke-width="0.7" shape-rendering="crispEdges"/><text x="28" y="390.85" font-family='"Liberation Sans", Arial, sans-serif' font-size="8.2" font-weight="bold" fill="#111" text-anchor="end">1.0</text><line x1="33" y1="408.68" x2="30.4" y2="408.68" stroke="#222" stroke-width="0.7" shape-rendering="crispEdges"/><text x="28" y="411.48" font-family='"Liberation Sans", Arial, sans-serif' font-size="8.2" font-weight="bold" fill="#111" text-anchor="end">0.5</text><line x1="33" y1="429.3" x2="30.4" y2="429.3" stroke="#222" stroke-width="0.7" shape-rendering="crispEdges"/><text x="28" y="432.1" font-family='"Liberation Sans", Arial, sans-serif' font-size="8.2" font-weight="bold" fill="#111" text-anchor="end">0.0</text><line x1="33" y1="449.93" x2="30.4" y2="449.93" stroke="#222" stroke-width="0.7" shape-rendering="crispEdges"/><text x="28" y="452.73" font-family='"Liberation Sans", Arial, sans-serif' font-size="8.2" font-weight="bold" fill="#111" text-anchor="end">-0.5</text><line x1="33" y1="470.55" x2="30.4" y2="470.55" stroke="#222" stroke-width="0.7" shape-rendering="crispEdges"/><text x="28" y="473.35" font-family='"Liberation Sans", Arial, sans-serif' font-size="8.2" font-weight="bold" fill="#111" text-anchor="end">-1.0</text>
<line x1="33" y1="479.3" x2="33" y2="481.9" stroke="#222" stroke-width="0.7" shape-rendering="crispEdges"/><text x="33" y="489.2" font-family='"Liberation Sans", Arial, sans-serif' font-size="8.2" font-weight="bold" fill="#111" text-anchor="middle">2</text><line x1="49.27" y1="479.3" x2="49.27" y2="480.8" stroke="#222" stroke-width="0.7" shape-rendering="crispEdges"/><line x1="65.54" y1="479.3" x2="65.54" y2="481.9" stroke="#222" stroke-width="0.7" shape-rendering="crispEdges"/><text x="65.54" y="489.2" font-family='"Liberation Sans", Arial, sans-serif' font-size="8.2" font-weight="bold" fill="#111" text-anchor="middle">4</text><line x1="81.81" y1="479.3" x2="81.81" y2="480.8" stroke="#222" stroke-width="0.7" shape-rendering="crispEdges"/><line x1="98.08" y1="479.3" x2="98.08" y2="481.9" stroke="#222" stroke-width="0.7" shape-rendering="crispEdges"/><text x="98.08" y="489.2" font-family='"Liberation Sans", Arial, sans-serif' font-size="8.2" font-weight="bold" fill="#111" text-anchor="middle">6</text><line x1="114.35" y1="479.3" x2="114.35" y2="480.8" stroke="#222" stroke-width="0.7" shape-rendering="crispEdges"/><line x1="130.62" y1="479.3" x2="130.62" y2="481.9" stroke="#222" stroke-width="0.7" shape-rendering="crispEdges"/><text x="130.62" y="489.2" font-family='"Liberation Sans", Arial, sans-serif' font-size="8.2" font-weight="bold" fill="#111" text-anchor="middle">8</text><line x1="146.89" y1="479.3" x2="146.89" y2="480.8" stroke="#222" stroke-width="0.7" shape-rendering="crispEdges"/><line x1="163.16" y1="479.3" x2="163.16" y2="481.9" stroke="#222" stroke-width="0.7" shape-rendering="crispEdges"/><text x="163.16" y="489.2" font-family='"Liberation Sans", Arial, sans-serif' font-size="8.2" font-weight="bold" fill="#111" text-anchor="middle">10</text><line x1="179.43" y1="479.3" x2="179.43" y2="480.8" stroke="#222" stroke-width="0.7" shape-rendering="crispEdges"/><line x1="195.7" y1="479.3" x2="195.7" y2="481.9" stroke="#222" stroke-width="0.7" shape-rendering="crispEdges"/><text x="195.7" y="489.2" font-family='"Liberation Sans", Arial, sans-serif' font-size="8.2" font-weight="bold" fill="#111" text-anchor="middle">12</text><text x="114.35" y="505.7" font-family='"Liberation Sans", Arial, sans-serif' font-size="10.9" font-weight="bold" fill="#111" text-anchor="middle">Frequency / GHz</text>
<text transform="translate(9.4 409.4) rotate(-90)" font-family='"Liberation Sans", Arial, sans-serif' font-size="10.6" font-weight="bold" text-anchor="middle" fill="#111" stroke="#111" stroke-width="0.35">Normalized <tspan font-style="italic">Z</tspan><tspan font-style="italic" font-size="7" dy="1.8">in</tspan></text>
<text x="218" y="359.7" font-family='"Liberation Sans", Arial, sans-serif' font-size="21" font-weight="bold">e</text>
<rect x="261.7" y="346.8" width="32.64" height="131.1" fill="#e9f3fb"/><rect x="294.34" y="346.8" width="65.28" height="131.1" fill="#fdf4e6"/><rect x="359.62" y="346.8" width="65.28" height="131.1" fill="#fdeaea"/><line x1="294.34" y1="346.8" x2="294.34" y2="477.9" stroke="#9a9a9a" stroke-width="0.6"/><line x1="359.62" y1="346.8" x2="359.62" y2="477.9" stroke="#9a9a9a" stroke-width="0.6"/>
<line x1="261.7" y1="368.65" x2="424.9" y2="368.65" stroke="#c4c4c4" stroke-width="0.8" stroke-dasharray="1.2 1.6"/>
<line x1="269.53" y1="346.8" x2="269.53" y2="401.43" stroke="#fa1616" stroke-width="0.9" stroke-dasharray="3 2.2"/>
<line x1="345.58" y1="346.8" x2="345.58" y2="469.16" stroke="#fa1616" stroke-width="0.9" stroke-dasharray="3 2.2"/>
<path d="M261.7 350.08 L262.38 350.36 L263.07 350.65 L263.75 350.94 L264.43 351.25 L265.11 351.55 L265.8 351.87 L266.48 352.2 L267.16 352.54 L267.85 352.89 L268.53 353.25 L269.21 353.63 L269.89 354.03 L270.58 354.44 L271.26 354.85 L271.94 355.26 L272.63 355.68 L273.31 356.1 L273.99 356.52 L274.67 356.94 L275.36 357.36 L276.04 357.79 L276.72 358.22 L277.41 358.65 L278.09 359.08 L278.77 359.51 L279.45 359.95 L280.14 360.39 L280.82 360.83 L281.5 361.27 L282.19 361.72 L282.87 362.16 L283.55 362.6 L284.23 363.04 L284.92 363.48 L285.6 363.91 L286.28 364.34 L286.97 364.76 L287.65 365.17 L288.33 365.57 L289.01 365.95 L289.7 366.32 L290.38 366.69 L291.06 367.04 L291.75 367.39 L292.43 367.73 L293.11 368.06 L293.79 368.39 L294.48 368.71 L295.16 369.03 L295.84 369.33 L296.53 369.62 L297.21 369.9 L297.89 370.17 L298.57 370.43 L299.26 370.68 L299.94 370.92 L300.62 371.14 L301.31 371.36 L301.99 371.56 L302.67 371.76 L303.35 371.94 L304.04 372.12 L304.72 372.29 L305.4 372.46 L306.08 372.62 L306.77 372.77 L307.45 372.91 L308.13 373.04 L308.82 373.17 L309.5 373.28 L310.18 373.39 L310.86 373.49 L311.55 373.58 L312.23 373.67 L312.91 373.76 L313.6 373.84 L314.28 373.92 L314.96 374 L315.64 374.07 L316.33 374.13 L317.01 374.2 L317.69 374.25 L318.38 374.3 L319.06 374.35 L319.74 374.39 L320.42 374.43 L321.11 374.46 L321.79 374.5 L322.47 374.53 L323.16 374.56 L323.84 374.59 L324.52 374.61 L325.2 374.63 L325.89 374.65 L326.57 374.66 L327.25 374.66 L327.94 374.66 L328.62 374.66 L329.3 374.66 L329.98 374.66 L330.67 374.65 L331.35 374.64 L332.03 374.63 L332.72 374.62 L333.4 374.6 L334.08 374.58 L334.76 374.56 L335.45 374.54 L336.13 374.51 L336.81 374.48 L337.5 374.46 L338.18 374.42 L338.86 374.39 L339.54 374.36 L340.23 374.32 L340.91 374.28 L341.59 374.23 L342.28 374.19 L342.96 374.14 L343.64 374.09 L344.32 374.03 L345.01 373.98 L345.69 373.92 L346.37 373.86 L347.06 373.8 L347.74 373.74 L348.42 373.68 L349.1 373.61 L349.79 373.54 L350.47 373.46 L351.15 373.38 L351.84 373.3 L352.52 373.22 L353.2 373.14 L353.88 373.06 L354.57 372.97 L355.25 372.89 L355.93 372.81 L356.62 372.73 L357.3 372.64 L357.98 372.56 L358.66 372.48 L359.35 372.4 L360.03 372.32 L360.71 372.23 L361.4 372.15 L362.08 372.07 L362.76 371.99 L363.44 371.9 L364.13 371.82 L364.81 371.74 L365.49 371.66 L366.18 371.57 L366.86 371.49 L367.54 371.41 L368.22 371.33 L368.91 371.25 L369.59 371.16 L370.27 371.08 L370.96 371 L371.64 370.92 L372.32 370.83 L373 370.75 L373.69 370.67 L374.37 370.59 L375.05 370.5 L375.74 370.42 L376.42 370.34 L377.1 370.26 L377.78 370.19 L378.47 370.12 L379.15 370.05 L379.83 369.98 L380.52 369.92 L381.2 369.86 L381.88 369.8 L382.56 369.75 L383.25 369.69 L383.93 369.64 L384.61 369.59 L385.29 369.54 L385.98 369.49 L386.66 369.45 L387.34 369.4 L388.03 369.36 L388.71 369.31 L389.39 369.27 L390.07 369.23 L390.76 369.18 L391.44 369.14 L392.12 369.1 L392.81 369.05 L393.49 369.01 L394.17 368.97 L394.85 368.93 L395.54 368.9 L396.22 368.86 L396.9 368.83 L397.59 368.8 L398.27 368.77 L398.95 368.74 L399.63 368.72 L400.32 368.69 L401 368.67 L401.68 368.65 L402.37 368.63 L403.05 368.62 L403.73 368.6 L404.41 368.59 L405.1 368.58 L405.78 368.57 L406.46 368.56 L407.15 368.55 L407.83 368.54 L408.51 368.54 L409.19 368.54 L409.88 368.54 L410.56 368.55 L411.24 368.56 L411.93 368.57 L412.61 368.58 L413.29 368.6 L413.97 368.62 L414.66 368.65 L415.34 368.67 L416.02 368.7 L416.71 368.74 L417.39 368.77 L418.07 368.81 L418.75 368.85 L419.44 368.89 L420.12 368.94 L420.8 368.98 L421.49 369.03 L422.17 369.08 L422.85 369.14 L423.53 369.19 L424.22 369.25 L424.9 369.31" fill="none" stroke="#161616" stroke-width="0.95"/>
<path d="M261.7 371.27 L261.9 371.77 L262.11 372.29 L262.31 372.83 L262.52 373.38 L262.72 373.96 L262.93 374.55 L263.13 375.16 L263.33 375.79 L263.54 376.44 L263.74 377.1 L263.95 377.79 L264.15 378.49 L264.36 379.22 L264.56 379.97 L264.76 380.74 L264.97 381.53 L265.17 382.33 L265.38 383.16 L265.58 383.99 L265.79 384.84 L265.99 385.71 L266.19 386.58 L266.4 387.46 L266.6 388.34 L266.81 389.27 L267.01 390.25 L267.21 391.27 L267.42 392.33 L267.62 393.4 L267.83 394.48 L268.03 395.55 L268.24 396.59 L268.44 397.6 L268.64 398.57 L268.85 399.51 L269.05 400.37 L269.26 401.09 L269.46 401.62 L269.67 401.89 L269.87 401.85 L270.07 401.55 L270.28 401.1 L270.48 400.53 L270.69 399.87 L270.89 399.15 L271.1 398.4 L271.3 397.65 L271.5 396.85 L271.71 396.01 L271.91 395.16 L272.12 394.3 L272.32 393.45 L272.53 392.62 L272.73 391.84 L272.93 391.11 L273.14 390.46 L273.34 389.85 L273.55 389.27 L273.75 388.71 L273.96 388.18 L274.16 387.68 L274.36 387.21 L274.57 386.76 L274.77 386.34 L274.98 385.94 L275.18 385.57 L275.39 385.23 L275.59 384.92 L275.79 384.63 L276 384.37 L276.2 384.13 L276.41 383.93 L276.61 383.73 L276.81 383.54 L277.02 383.35 L277.22 383.16 L277.43 382.98 L277.63 382.8 L277.84 382.62 L278.04 382.45 L278.24 382.28 L278.45 382.11 L278.65 381.95 L278.86 381.8 L279.06 381.65 L279.27 381.5 L279.47 381.37 L279.67 381.23 L279.88 381.11 L280.08 380.99 L280.29 380.88 L280.49 380.78 L280.7 380.68 L280.9 380.59 L281.1 380.51 L281.31 380.44 L281.51 380.37 L281.72 380.3 L281.92 380.24 L282.13 380.17 L282.33 380.1 L282.53 380.03 L282.74 379.96 L282.94 379.89 L283.15 379.83 L283.35 379.76 L283.56 379.69 L283.76 379.63 L283.96 379.56 L284.17 379.5 L284.37 379.44 L284.58 379.38 L284.78 379.32 L284.99 379.26 L285.19 379.21 L285.39 379.15 L285.6 379.1 L285.8 379.05 L286.01 379.01 L286.21 378.96 L286.41 378.92 L286.62 378.88 L286.82 378.84 L287.03 378.81 L287.23 378.77 L287.44 378.75 L287.64 378.72 L287.84 378.7 L288.05 378.68 L288.25 378.66 L288.46 378.64 L288.66 378.62 L288.87 378.6 L289.07 378.58 L289.27 378.56 L289.48 378.54 L289.68 378.53 L289.89 378.51 L290.09 378.49 L290.3 378.48 L290.5 378.46 L290.7 378.45 L290.91 378.44 L291.11 378.43 L291.32 378.42 L291.52 378.41 L291.73 378.4 L291.93 378.39 L292.13 378.38 L292.34 378.37 L292.54 378.37 L292.75 378.36 L292.95 378.36 L293.16 378.36 L293.36 378.36 L293.56 378.36 L293.77 378.36 L293.97 378.36 L294.18 378.37 L294.38 378.37 L294.59 378.38 L294.79 378.39 L294.99 378.4 L295.2 378.4 L295.4 378.41 L295.61 378.42 L295.81 378.43 L296.01 378.44 L296.22 378.45 L296.42 378.47 L296.63 378.48 L296.83 378.49 L297.04 378.51 L297.24 378.52 L297.44 378.54 L297.65 378.55 L297.85 378.57 L298.06 378.59 L298.26 378.6 L298.47 378.62 L298.67 378.64 L298.87 378.66 L299.08 378.68 L299.28 378.7 L299.49 378.73 L299.69 378.75 L299.9 378.77 L300.1 378.8 L300.3 378.82 L300.51 378.85 L300.71 378.87 L300.92 378.9 L301.12 378.93 L301.33 378.96 L301.53 378.99 L301.73 379.02 L301.94 379.05 L302.14 379.08 L302.35 379.11 L302.55 379.15 L302.76 379.18 L302.96 379.22 L303.16 379.25 L303.37 379.29 L303.57 379.33 L303.78 379.37 L303.98 379.41 L304.19 379.46 L304.39 379.5 L304.59 379.55 L304.8 379.59 L305 379.64 L305.21 379.69 L305.41 379.74 L305.61 379.79 L305.82 379.84 L306.02 379.89 L306.23 379.95 L306.43 380 L306.64 380.06 L306.84 380.12 L307.04 380.17 L307.25 380.23 L307.45 380.29 L307.66 380.35 L307.86 380.41 L308.07 380.47 L308.27 380.54 L308.47 380.6 L308.68 380.66 L308.88 380.73 L309.09 380.79 L309.29 380.86 L309.5 380.93 L309.7 381 L309.9 381.06 L310.11 381.13 L310.31 381.2 L310.52 381.27 L310.72 381.34 L310.93 381.42 L311.13 381.49 L311.33 381.57 L311.54 381.65 L311.74 381.72 L311.95 381.81 L312.15 381.89 L312.36 381.97 L312.56 382.06 L312.76 382.15 L312.97 382.24 L313.17 382.33 L313.38 382.42 L313.58 382.51 L313.79 382.61 L313.99 382.71 L314.19 382.8 L314.4 382.9 L314.6 383 L314.81 383.1 L315.01 383.2 L315.21 383.31 L315.42 383.41 L315.62 383.52 L315.83 383.62 L316.03 383.73 L316.24 383.84 L316.44 383.95 L316.64 384.06 L316.85 384.17 L317.05 384.28 L317.26 384.39 L317.46 384.5 L317.67 384.61 L317.87 384.72 L318.07 384.84 L318.28 384.95 L318.48 385.07 L318.69 385.18 L318.89 385.3 L319.1 385.41 L319.3 385.53 L319.5 385.66 L319.71 385.79 L319.91 385.91 L320.12 386.05 L320.32 386.18 L320.53 386.32 L320.73 386.46 L320.93 386.6 L321.14 386.75 L321.34 386.89 L321.55 387.04 L321.75 387.2 L321.96 387.35 L322.16 387.51 L322.36 387.66 L322.57 387.82 L322.77 387.99 L322.98 388.15 L323.18 388.31 L323.39 388.48 L323.59 388.65 L323.79 388.82 L324 388.99 L324.2 389.16 L324.41 389.33 L324.61 389.51 L324.81 389.68 L325.02 389.86 L325.22 390.04 L325.43 390.22 L325.63 390.4 L325.84 390.58 L326.04 390.76 L326.24 390.94 L326.45 391.12 L326.65 391.3 L326.86 391.48 L327.06 391.67 L327.27 391.86 L327.47 392.05 L327.67 392.26 L327.88 392.47 L328.08 392.7 L328.29 392.92 L328.49 393.16 L328.7 393.4 L328.9 393.65 L329.1 393.9 L329.31 394.16 L329.51 394.43 L329.72 394.7 L329.92 394.97 L330.13 395.25 L330.33 395.54 L330.53 395.82 L330.74 396.12 L330.94 396.41 L331.15 396.71 L331.35 397.02 L331.56 397.32 L331.76 397.63 L331.96 397.94 L332.17 398.25 L332.37 398.57 L332.58 398.88 L332.78 399.2 L332.99 399.52 L333.19 399.83 L333.39 400.15 L333.6 400.48 L333.8 400.81 L334.01 401.17 L334.21 401.55 L334.41 401.95 L334.62 402.36 L334.82 402.79 L335.03 403.24 L335.23 403.7 L335.44 404.18 L335.64 404.67 L335.84 405.17 L336.05 405.69 L336.25 406.22 L336.46 406.76 L336.66 407.31 L336.87 407.88 L337.07 408.45 L337.27 409.03 L337.48 409.61 L337.68 410.21 L337.89 410.81 L338.09 411.41 L338.3 412.02 L338.5 412.65 L338.7 413.31 L338.91 414.03 L339.11 414.79 L339.32 415.6 L339.52 416.46 L339.73 417.36 L339.93 418.3 L340.13 419.27 L340.34 420.29 L340.54 421.34 L340.75 422.42 L340.95 423.53 L341.16 424.67 L341.36 425.84 L341.56 427.03 L341.77 428.25 L341.97 429.58 L342.18 431.01 L342.38 432.55 L342.59 434.19 L342.79 435.94 L342.99 437.79 L343.2 439.74 L343.4 441.8 L343.61 444.03 L343.81 446.38 L344.01 448.83 L344.22 451.33 L344.42 453.84 L344.63 456.33 L344.83 459.83 L345.04 464.16 L345.24 468.06 L345.44 470.31 L345.65 469.78 L345.85 467.48 L346.06 464.34 L346.26 460.83 L346.47 457.47 L346.67 454.6 L346.87 451.79 L347.08 448.97 L347.28 446.17 L347.49 443.43 L347.69 440.78 L347.9 438.26 L348.1 435.93 L348.3 433.82 L348.51 431.92 L348.71 430.2 L348.92 428.65 L349.12 427.25 L349.33 425.98 L349.53 424.81 L349.73 423.74 L349.94 422.74 L350.14 421.75 L350.35 420.77 L350.55 419.81 L350.76 418.87 L350.96 417.95 L351.16 417.06 L351.37 416.18 L351.57 415.34 L351.78 414.52 L351.98 413.74 L352.19 413 L352.39 412.29 L352.59 411.62 L352.8 410.99 L353 410.41 L353.21 409.86 L353.41 409.33 L353.61 408.79 L353.82 408.26 L354.02 407.74 L354.23 407.22 L354.43 406.7 L354.64 406.2 L354.84 405.71 L355.04 405.23 L355.25 404.76 L355.45 404.31 L355.66 403.87 L355.86 403.45 L356.07 403.05 L356.27 402.67 L356.47 402.31 L356.68 401.95 L356.88 401.59 L357.09 401.23 L357.29 400.88 L357.5 400.53 L357.7 400.19 L357.9 399.85 L358.11 399.53 L358.31 399.21 L358.52 398.91 L358.72 398.61 L358.93 398.33 L359.13 398.07 L359.33 397.82 L359.54 397.58 L359.74 397.36 L359.95 397.14 L360.15 396.93 L360.36 396.71 L360.56 396.5 L360.76 396.29 L360.97 396.08 L361.17 395.87 L361.38 395.67 L361.58 395.46 L361.79 395.26 L361.99 395.06 L362.19 394.86 L362.4 394.67 L362.6 394.48 L362.81 394.28 L363.01 394.1 L363.21 393.91 L363.42 393.73 L363.62 393.55 L363.83 393.37 L364.03 393.19 L364.24 393.02 L364.44 392.85 L364.64 392.68 L364.85 392.52 L365.05 392.35 L365.26 392.2 L365.46 392.04 L365.67 391.89 L365.87 391.74 L366.07 391.59 L366.28 391.45 L366.48 391.31 L366.69 391.17 L366.89 391.04 L367.1 390.91 L367.3 390.78 L367.5 390.66 L367.71 390.54 L367.91 390.42 L368.12 390.31 L368.32 390.19 L368.53 390.08 L368.73 389.96 L368.93 389.85 L369.14 389.74 L369.34 389.62 L369.55 389.51 L369.75 389.4 L369.96 389.29 L370.16 389.18 L370.36 389.07 L370.57 388.96 L370.77 388.85 L370.98 388.74 L371.18 388.64 L371.39 388.53 L371.59 388.43 L371.79 388.32 L372 388.22 L372.2 388.12 L372.41 388.02 L372.61 387.93 L372.81 387.83 L373.02 387.73 L373.22 387.64 L373.43 387.55 L373.63 387.46 L373.84 387.37 L374.04 387.28 L374.24 387.2 L374.45 387.12 L374.65 387.03 L374.86 386.95 L375.06 386.88 L375.27 386.8 L375.47 386.73 L375.67 386.66 L375.88 386.59 L376.08 386.52 L376.29 386.45 L376.49 386.38 L376.7 386.32 L376.9 386.25 L377.1 386.18 L377.31 386.12 L377.51 386.05 L377.72 385.98 L377.92 385.91 L378.13 385.85 L378.33 385.78 L378.53 385.71 L378.74 385.65 L378.94 385.58 L379.15 385.51 L379.35 385.45 L379.56 385.38 L379.76 385.31 L379.96 385.25 L380.17 385.18 L380.37 385.12 L380.58 385.05 L380.78 384.99 L380.99 384.92 L381.19 384.86 L381.39 384.79 L381.6 384.73 L381.8 384.67 L382.01 384.6 L382.21 384.54 L382.41 384.48 L382.62 384.41 L382.82 384.35 L383.03 384.29 L383.23 384.23 L383.44 384.17 L383.64 384.1 L383.84 384.04 L384.05 383.98 L384.25 383.92 L384.46 383.86 L384.66 383.8 L384.87 383.75 L385.07 383.69 L385.27 383.63 L385.48 383.57 L385.68 383.52 L385.89 383.46 L386.09 383.4 L386.3 383.35 L386.5 383.29 L386.7 383.24 L386.91 383.18 L387.11 383.13 L387.32 383.08 L387.52 383.02 L387.73 382.97 L387.93 382.92 L388.13 382.87 L388.34 382.82 L388.54 382.77 L388.75 382.72 L388.95 382.67 L389.16 382.62 L389.36 382.58 L389.56 382.53 L389.77 382.48 L389.97 382.44 L390.18 382.39 L390.38 382.35 L390.59 382.31 L390.79 382.26 L390.99 382.22 L391.2 382.18 L391.4 382.14 L391.61 382.1 L391.81 382.06 L392.01 382.02 L392.22 381.99 L392.42 381.95 L392.63 381.91 L392.83 381.88 L393.04 381.84 L393.24 381.8 L393.44 381.77 L393.65 381.73 L393.85 381.69 L394.06 381.66 L394.26 381.62 L394.47 381.58 L394.67 381.55 L394.87 381.51 L395.08 381.47 L395.28 381.44 L395.49 381.4 L395.69 381.37 L395.9 381.33 L396.1 381.3 L396.3 381.26 L396.51 381.22 L396.71 381.19 L396.92 381.15 L397.12 381.12 L397.33 381.08 L397.53 381.05 L397.73 381.01 L397.94 380.98 L398.14 380.94 L398.35 380.91 L398.55 380.88 L398.76 380.84 L398.96 380.81 L399.16 380.77 L399.37 380.74 L399.57 380.7 L399.78 380.67 L399.98 380.64 L400.19 380.6 L400.39 380.57 L400.59 380.54 L400.8 380.5 L401 380.47 L401.21 380.44 L401.41 380.4 L401.61 380.37 L401.82 380.34 L402.02 380.31 L402.23 380.28 L402.43 380.24 L402.64 380.21 L402.84 380.18 L403.04 380.15 L403.25 380.12 L403.45 380.09 L403.66 380.05 L403.86 380.02 L404.07 379.99 L404.27 379.96 L404.47 379.93 L404.68 379.9 L404.88 379.87 L405.09 379.84 L405.29 379.81 L405.5 379.78 L405.7 379.75 L405.9 379.72 L406.11 379.69 L406.31 379.66 L406.52 379.64 L406.72 379.61 L406.93 379.58 L407.13 379.55 L407.33 379.52 L407.54 379.5 L407.74 379.47 L407.95 379.44 L408.15 379.41 L408.36 379.39 L408.56 379.36 L408.76 379.33 L408.97 379.31 L409.17 379.28 L409.38 379.25 L409.58 379.23 L409.79 379.2 L409.99 379.17 L410.19 379.15 L410.4 379.12 L410.6 379.09 L410.81 379.07 L411.01 379.04 L411.21 379.01 L411.42 378.99 L411.62 378.96 L411.83 378.93 L412.03 378.91 L412.24 378.88 L412.44 378.85 L412.64 378.83 L412.85 378.8 L413.05 378.78 L413.26 378.75 L413.46 378.72 L413.67 378.7 L413.87 378.67 L414.07 378.65 L414.28 378.62 L414.48 378.59 L414.69 378.57 L414.89 378.54 L415.1 378.52 L415.3 378.49 L415.5 378.47 L415.71 378.44 L415.91 378.41 L416.12 378.39 L416.32 378.36 L416.53 378.34 L416.73 378.31 L416.93 378.29 L417.14 378.26 L417.34 378.24 L417.55 378.21 L417.75 378.19 L417.96 378.16 L418.16 378.14 L418.36 378.11 L418.57 378.09 L418.77 378.07 L418.98 378.04 L419.18 378.02 L419.39 377.99 L419.59 377.97 L419.79 377.95 L420 377.92 L420.2 377.9 L420.41 377.88 L420.61 377.85 L420.81 377.83 L421.02 377.81 L421.22 377.78 L421.43 377.76 L421.63 377.74 L421.84 377.71 L422.04 377.69 L422.24 377.67 L422.45 377.65 L422.65 377.62 L422.86 377.6 L423.06 377.58 L423.27 377.56 L423.47 377.54 L423.67 377.52 L423.88 377.49 L424.08 377.47 L424.29 377.45 L424.49 377.43 L424.7 377.41 L424.9 377.39" fill="none" stroke="#fa1616" stroke-width="1.1" stroke-linejoin="round"/>
<path d="M261.7 367.78 L261.9 368.27 L262.11 368.77 L262.31 369.29 L262.52 369.81 L262.72 370.35 L262.93 370.9 L263.13 371.46 L263.33 372.02 L263.54 372.59 L263.74 373.17 L263.95 373.75 L264.15 374.34 L264.36 374.94 L264.56 375.55 L264.76 376.19 L264.97 376.84 L265.17 377.5 L265.38 378.18 L265.58 378.87 L265.79 379.57 L265.99 380.28 L266.19 380.99 L266.4 381.71 L266.6 382.44 L266.81 383.18 L267.01 383.97 L267.21 384.79 L267.42 385.65 L267.62 386.55 L267.83 387.48 L268.03 388.45 L268.24 389.46 L268.44 390.5 L268.64 391.58 L268.85 392.69 L269.05 393.83 L269.26 395.05 L269.46 396.37 L269.67 397.79 L269.87 399.28 L270.07 400.85 L270.28 402.48 L270.48 404.17 L270.69 405.89 L270.89 407.7 L271.1 409.61 L271.3 411.6 L271.5 413.62 L271.71 415.64 L271.91 417.78 L272.12 420.72 L272.32 423.77 L272.53 426.01 L272.73 426.44 L272.93 424.45 L273.14 421.17 L273.34 417.94 L273.55 415.85 L273.75 413.96 L273.96 412.07 L274.16 410.23 L274.36 408.51 L274.57 406.98 L274.77 405.7 L274.98 404.58 L275.18 403.5 L275.39 402.47 L275.59 401.49 L275.79 400.55 L276 399.67 L276.2 398.84 L276.41 398.06 L276.61 397.33 L276.81 396.66 L277.02 396.04 L277.22 395.47 L277.43 394.93 L277.63 394.39 L277.84 393.86 L278.04 393.34 L278.24 392.84 L278.45 392.35 L278.65 391.89 L278.86 391.45 L279.06 391.04 L279.27 390.67 L279.47 390.33 L279.67 390.03 L279.88 389.75 L280.08 389.48 L280.29 389.2 L280.49 388.93 L280.7 388.66 L280.9 388.4 L281.1 388.14 L281.31 387.88 L281.51 387.63 L281.72 387.38 L281.92 387.14 L282.13 386.91 L282.33 386.68 L282.53 386.46 L282.74 386.25 L282.94 386.05 L283.15 385.86 L283.35 385.68 L283.56 385.5 L283.76 385.34 L283.96 385.19 L284.17 385.05 L284.37 384.92 L284.58 384.8 L284.78 384.69 L284.99 384.58 L285.19 384.48 L285.39 384.37 L285.6 384.27 L285.8 384.16 L286.01 384.06 L286.21 383.97 L286.41 383.87 L286.62 383.78 L286.82 383.69 L287.03 383.6 L287.23 383.52 L287.44 383.44 L287.64 383.36 L287.84 383.29 L288.05 383.22 L288.25 383.15 L288.46 383.09 L288.66 383.03 L288.87 382.98 L289.07 382.93 L289.27 382.89 L289.48 382.85 L289.68 382.81 L289.89 382.77 L290.09 382.74 L290.3 382.71 L290.5 382.67 L290.7 382.64 L290.91 382.61 L291.11 382.59 L291.32 382.56 L291.52 382.53 L291.73 382.51 L291.93 382.49 L292.13 382.47 L292.34 382.46 L292.54 382.44 L292.75 382.43 L292.95 382.42 L293.16 382.41 L293.36 382.4 L293.56 382.4 L293.77 382.4 L293.97 382.4 L294.18 382.41 L294.38 382.42 L294.59 382.43 L294.79 382.44 L294.99 382.45 L295.2 382.47 L295.4 382.49 L295.61 382.51 L295.81 382.53 L296.01 382.55 L296.22 382.58 L296.42 382.6 L296.63 382.63 L296.83 382.67 L297.04 382.7 L297.24 382.74 L297.44 382.77 L297.65 382.81 L297.85 382.85 L298.06 382.9 L298.26 382.94 L298.47 382.99 L298.67 383.04 L298.87 383.1 L299.08 383.15 L299.28 383.21 L299.49 383.27 L299.69 383.33 L299.9 383.39 L300.1 383.46 L300.3 383.53 L300.51 383.6 L300.71 383.67 L300.92 383.74 L301.12 383.82 L301.33 383.9 L301.53 383.99 L301.73 384.07 L301.94 384.16 L302.14 384.26 L302.35 384.35 L302.55 384.45 L302.76 384.55 L302.96 384.65 L303.16 384.76 L303.37 384.87 L303.57 384.98 L303.78 385.09 L303.98 385.21 L304.19 385.32 L304.39 385.44 L304.59 385.56 L304.8 385.69 L305 385.82 L305.21 385.94 L305.41 386.07 L305.61 386.21 L305.82 386.34 L306.02 386.48 L306.23 386.62 L306.43 386.76 L306.64 386.9 L306.84 387.04 L307.04 387.19 L307.25 387.33 L307.45 387.48 L307.66 387.63 L307.86 387.78 L308.07 387.94 L308.27 388.09 L308.47 388.25 L308.68 388.41 L308.88 388.57 L309.09 388.73 L309.29 388.9 L309.5 389.07 L309.7 389.24 L309.9 389.41 L310.11 389.58 L310.31 389.76 L310.52 389.94 L310.72 390.12 L310.93 390.3 L311.13 390.49 L311.33 390.68 L311.54 390.87 L311.74 391.06 L311.95 391.26 L312.15 391.46 L312.36 391.67 L312.56 391.87 L312.76 392.08 L312.97 392.3 L313.17 392.51 L313.38 392.73 L313.58 392.96 L313.79 393.18 L313.99 393.41 L314.19 393.65 L314.4 393.88 L314.6 394.12 L314.81 394.36 L315.01 394.61 L315.21 394.85 L315.42 395.1 L315.62 395.35 L315.83 395.61 L316.03 395.86 L316.24 396.12 L316.44 396.38 L316.64 396.64 L316.85 396.91 L317.05 397.17 L317.26 397.44 L317.46 397.71 L317.67 397.99 L317.87 398.26 L318.07 398.54 L318.28 398.81 L318.48 399.09 L318.69 399.37 L318.89 399.66 L319.1 399.94 L319.3 400.23 L319.5 400.51 L319.71 400.8 L319.91 401.09 L320.12 401.38 L320.32 401.67 L320.53 401.97 L320.73 402.27 L320.93 402.57 L321.14 402.88 L321.34 403.19 L321.55 403.51 L321.75 403.83 L321.96 404.15 L322.16 404.48 L322.36 404.81 L322.57 405.14 L322.77 405.47 L322.98 405.8 L323.18 406.13 L323.39 406.46 L323.59 406.79 L323.79 407.12 L324 407.44 L324.2 407.76 L324.41 408.09 L324.61 408.4 L324.81 408.72 L325.02 409.02 L325.22 409.33 L325.43 409.62 L325.63 409.92 L325.84 410.2 L326.04 410.47 L326.24 410.74 L326.45 411.01 L326.65 411.26 L326.86 411.51 L327.06 411.76 L327.27 412 L327.47 412.24 L327.67 412.47 L327.88 412.69 L328.08 412.92 L328.29 413.14 L328.49 413.35 L328.7 413.57 L328.9 413.78 L329.1 413.99 L329.31 414.2 L329.51 414.4 L329.72 414.59 L329.92 414.77 L330.13 414.94 L330.33 415.09 L330.53 415.22 L330.74 415.33 L330.94 415.43 L331.15 415.51 L331.35 415.57 L331.56 415.61 L331.76 415.63 L331.96 415.63 L332.17 415.61 L332.37 415.57 L332.58 415.52 L332.78 415.45 L332.99 415.37 L333.19 415.27 L333.39 415.15 L333.6 415.02 L333.8 414.88 L334.01 414.73 L334.21 414.56 L334.41 414.38 L334.62 414.19 L334.82 413.99 L335.03 413.78 L335.23 413.56 L335.44 413.33 L335.64 413.09 L335.84 412.84 L336.05 412.59 L336.25 412.33 L336.46 412.06 L336.66 411.79 L336.87 411.52 L337.07 411.24 L337.27 410.96 L337.48 410.69 L337.68 410.41 L337.89 410.13 L338.09 409.86 L338.3 409.59 L338.5 409.32 L338.7 409.06 L338.91 408.81 L339.11 408.56 L339.32 408.32 L339.52 408.08 L339.73 407.86 L339.93 407.65 L340.13 407.45 L340.34 407.25 L340.54 407.05 L340.75 406.85 L340.95 406.66 L341.16 406.46 L341.36 406.27 L341.56 406.08 L341.77 405.89 L341.97 405.71 L342.18 405.52 L342.38 405.34 L342.59 405.16 L342.79 404.98 L342.99 404.8 L343.2 404.62 L343.4 404.45 L343.61 404.28 L343.81 404.11 L344.01 403.95 L344.22 403.78 L344.42 403.62 L344.63 403.46 L344.83 403.3 L345.04 403.15 L345.24 403 L345.44 402.85 L345.65 402.7 L345.85 402.56 L346.06 402.42 L346.26 402.28 L346.47 402.14 L346.67 402.01 L346.87 401.88 L347.08 401.75 L347.28 401.63 L347.49 401.5 L347.69 401.38 L347.9 401.26 L348.1 401.13 L348.3 401.02 L348.51 400.9 L348.71 400.79 L348.92 400.67 L349.12 400.56 L349.33 400.45 L349.53 400.35 L349.73 400.24 L349.94 400.14 L350.14 400.04 L350.35 399.94 L350.55 399.84 L350.76 399.74 L350.96 399.65 L351.16 399.56 L351.37 399.47 L351.57 399.38 L351.78 399.3 L351.98 399.22 L352.19 399.13 L352.39 399.06 L352.59 398.98 L352.8 398.91 L353 398.83 L353.21 398.76 L353.41 398.7 L353.61 398.63 L353.82 398.56 L354.02 398.5 L354.23 398.44 L354.43 398.37 L354.64 398.31 L354.84 398.26 L355.04 398.2 L355.25 398.14 L355.45 398.09 L355.66 398.04 L355.86 397.98 L356.07 397.94 L356.27 397.89 L356.47 397.84 L356.68 397.8 L356.88 397.75 L357.09 397.71 L357.29 397.67 L357.5 397.63 L357.7 397.6 L357.9 397.56 L358.11 397.53 L358.31 397.5 L358.52 397.47 L358.72 397.45 L358.93 397.42 L359.13 397.4 L359.33 397.38 L359.54 397.36 L359.74 397.34 L359.95 397.32 L360.15 397.31 L360.36 397.3 L360.56 397.29 L360.76 397.28 L360.97 397.28 L361.17 397.27 L361.38 397.27 L361.58 397.27 L361.79 397.27 L361.99 397.28 L362.19 397.28 L362.4 397.28 L362.6 397.29 L362.81 397.29 L363.01 397.3 L363.21 397.31 L363.42 397.32 L363.62 397.33 L363.83 397.35 L364.03 397.36 L364.24 397.38 L364.44 397.39 L364.64 397.41 L364.85 397.43 L365.05 397.45 L365.26 397.48 L365.46 397.5 L365.67 397.53 L365.87 397.56 L366.07 397.59 L366.28 397.62 L366.48 397.66 L366.69 397.69 L366.89 397.73 L367.1 397.77 L367.3 397.81 L367.5 397.85 L367.71 397.9 L367.91 397.95 L368.12 398 L368.32 398.05 L368.53 398.1 L368.73 398.16 L368.93 398.22 L369.14 398.28 L369.34 398.34 L369.55 398.41 L369.75 398.48 L369.96 398.54 L370.16 398.61 L370.36 398.68 L370.57 398.74 L370.77 398.81 L370.98 398.88 L371.18 398.95 L371.39 399.02 L371.59 399.09 L371.79 399.16 L372 399.23 L372.2 399.3 L372.41 399.37 L372.61 399.44 L372.81 399.52 L373.02 399.59 L373.22 399.67 L373.43 399.74 L373.63 399.82 L373.84 399.89 L374.04 399.97 L374.24 400.05 L374.45 400.13 L374.65 400.21 L374.86 400.29 L375.06 400.37 L375.27 400.45 L375.47 400.53 L375.67 400.61 L375.88 400.7 L376.08 400.78 L376.29 400.87 L376.49 400.95 L376.7 401.04 L376.9 401.13 L377.1 401.22 L377.31 401.31 L377.51 401.4 L377.72 401.49 L377.92 401.58 L378.13 401.68 L378.33 401.77 L378.53 401.86 L378.74 401.96 L378.94 402.06 L379.15 402.15 L379.35 402.25 L379.56 402.34 L379.76 402.44 L379.96 402.54 L380.17 402.64 L380.37 402.73 L380.58 402.83 L380.78 402.93 L380.99 403.03 L381.19 403.13 L381.39 403.22 L381.6 403.32 L381.8 403.42 L382.01 403.52 L382.21 403.61 L382.41 403.71 L382.62 403.81 L382.82 403.9 L383.03 404 L383.23 404.09 L383.44 404.18 L383.64 404.28 L383.84 404.37 L384.05 404.46 L384.25 404.55 L384.46 404.64 L384.66 404.73 L384.87 404.82 L385.07 404.9 L385.27 404.99 L385.48 405.07 L385.68 405.16 L385.89 405.24 L386.09 405.32 L386.3 405.41 L386.5 405.49 L386.7 405.57 L386.91 405.65 L387.11 405.73 L387.32 405.81 L387.52 405.88 L387.73 405.96 L387.93 406.04 L388.13 406.12 L388.34 406.2 L388.54 406.28 L388.75 406.36 L388.95 406.43 L389.16 406.51 L389.36 406.58 L389.56 406.65 L389.77 406.71 L389.97 406.77 L390.18 406.82 L390.38 406.87 L390.59 406.92 L390.79 406.96 L390.99 406.99 L391.2 407.03 L391.4 407.05 L391.61 407.08 L391.81 407.1 L392.01 407.11 L392.22 407.12 L392.42 407.11 L392.63 407.09 L392.83 407.07 L393.04 407.03 L393.24 406.98 L393.44 406.93 L393.65 406.86 L393.85 406.78 L394.06 406.69 L394.26 406.6 L394.47 406.49 L394.67 406.38 L394.87 406.25 L395.08 406.12 L395.28 405.97 L395.49 405.82 L395.69 405.67 L395.9 405.51 L396.1 405.34 L396.3 405.18 L396.51 405.02 L396.71 404.85 L396.92 404.68 L397.12 404.51 L397.33 404.33 L397.53 404.16 L397.73 403.98 L397.94 403.8 L398.14 403.62 L398.35 403.43 L398.55 403.25 L398.76 403.06 L398.96 402.86 L399.16 402.67 L399.37 402.47 L399.57 402.28 L399.78 402.07 L399.98 401.87 L400.19 401.67 L400.39 401.46 L400.59 401.25 L400.8 401.03 L401 400.82 L401.21 400.6 L401.41 400.39 L401.61 400.17 L401.82 399.95 L402.02 399.73 L402.23 399.5 L402.43 399.28 L402.64 399.06 L402.84 398.83 L403.04 398.61 L403.25 398.38 L403.45 398.15 L403.66 397.93 L403.86 397.7 L404.07 397.48 L404.27 397.25 L404.47 397.02 L404.68 396.8 L404.88 396.57 L405.09 396.35 L405.29 396.12 L405.5 395.9 L405.7 395.68 L405.9 395.45 L406.11 395.23 L406.31 395.01 L406.52 394.8 L406.72 394.58 L406.93 394.36 L407.13 394.15 L407.33 393.94 L407.54 393.73 L407.74 393.52 L407.95 393.31 L408.15 393.11 L408.36 392.9 L408.56 392.7 L408.76 392.51 L408.97 392.31 L409.17 392.11 L409.38 391.92 L409.58 391.72 L409.79 391.53 L409.99 391.33 L410.19 391.14 L410.4 390.94 L410.6 390.75 L410.81 390.56 L411.01 390.37 L411.21 390.18 L411.42 389.99 L411.62 389.8 L411.83 389.61 L412.03 389.42 L412.24 389.23 L412.44 389.04 L412.64 388.86 L412.85 388.67 L413.05 388.49 L413.26 388.3 L413.46 388.12 L413.67 387.93 L413.87 387.75 L414.07 387.57 L414.28 387.39 L414.48 387.21 L414.69 387.03 L414.89 386.85 L415.1 386.67 L415.3 386.49 L415.5 386.31 L415.71 386.14 L415.91 385.96 L416.12 385.79 L416.32 385.61 L416.53 385.44 L416.73 385.26 L416.93 385.09 L417.14 384.92 L417.34 384.75 L417.55 384.58 L417.75 384.4 L417.96 384.23 L418.16 384.06 L418.36 383.89 L418.57 383.72 L418.77 383.55 L418.98 383.38 L419.18 383.22 L419.39 383.05 L419.59 382.88 L419.79 382.71 L420 382.55 L420.2 382.38 L420.41 382.21 L420.61 382.05 L420.81 381.88 L421.02 381.72 L421.22 381.56 L421.43 381.39 L421.63 381.23 L421.84 381.07 L422.04 380.91 L422.24 380.74 L422.45 380.58 L422.65 380.42 L422.86 380.26 L423.06 380.1 L423.27 379.95 L423.47 379.79 L423.67 379.63 L423.88 379.47 L424.08 379.32 L424.29 379.16 L424.49 379.01 L424.7 378.85 L424.9 378.7" fill="none" stroke="#1c1cf5" stroke-width="1.1" stroke-linejoin="round"/>
<text x="273.7" y="404.7" font-family='"Liberation Sans", Arial, sans-serif' font-size="8.6" font-weight="bold" fill="#111">2.5 GHz</text>
<text x="310.5" y="472.1" font-family='"Liberation Sans", Arial, sans-serif' font-size="8.6" font-weight="bold" fill="#111">7.1 GHz</text>
<line x1="366" y1="415.1" x2="384.9" y2="415.1" stroke="#1a1a1a" stroke-width="0.9"/>
<text x="387.5" y="417.8" font-family='"Liberation Sans", Arial, sans-serif' font-size="8.5" font-weight="bold" fill="#111">1-layer</text>
<text x="366" y="428.8" font-family='"Liberation Sans", Arial, sans-serif' font-size="8.5" font-weight="bold" fill="#111">metasurface</text>
<line x1="366" y1="436.95" x2="384.9" y2="436.95" stroke="#fa1616" stroke-width="0.9"/>
<text x="387.5" y="439.65" font-family='"Liberation Sans", Arial, sans-serif' font-size="8.5" font-weight="bold" fill="#111">2-layer</text>
<text x="366" y="450.65" font-family='"Liberation Sans", Arial, sans-serif' font-size="8.5" font-weight="bold" fill="#111">metasurface</text>
<line x1="366" y1="458.8" x2="384.9" y2="458.8" stroke="#1c1cf5" stroke-width="0.9"/>
<text x="387.5" y="461.5" font-family='"Liberation Sans", Arial, sans-serif' font-size="8.5" font-weight="bold" fill="#111">3-layer</text>
<text x="366" y="472.5" font-family='"Liberation Sans", Arial, sans-serif' font-size="8.5" font-weight="bold" fill="#111">metasurface</text>
<rect x="261.7" y="346.8" width="163.2" height="131.1" fill="none" stroke="#8a8a8a" stroke-width="0.8"/>
<line x1="261.7" y1="346.4" x2="261.7" y2="478.3" stroke="#2a2a2a" stroke-width="0.8" shape-rendering="crispEdges"/>
<line x1="261.7" y1="477.9" x2="424.9" y2="477.9" stroke="#2a2a2a" stroke-width="0.8" shape-rendering="crispEdges"/>
<line x1="261.7" y1="357.73" x2="260.2" y2="357.73" stroke="#222" stroke-width="0.7" shape-rendering="crispEdges"/><line x1="261.7" y1="379.57" x2="260.2" y2="379.57" stroke="#222" stroke-width="0.7" shape-rendering="crispEdges"/><line x1="261.7" y1="401.43" x2="260.2" y2="401.43" stroke="#222" stroke-width="0.7" shape-rendering="crispEdges"/><line x1="261.7" y1="423.28" x2="260.2" y2="423.28" stroke="#222" stroke-width="0.7" shape-rendering="crispEdges"/><line x1="261.7" y1="445.12" x2="260.2" y2="445.12" stroke="#222" stroke-width="0.7" shape-rendering="crispEdges"/><line x1="261.7" y1="466.98" x2="260.2" y2="466.98" stroke="#222" stroke-width="0.7" shape-rendering="crispEdges"/><line x1="261.7" y1="346.8" x2="259.1" y2="346.8" stroke="#222" stroke-width="0.7" shape-rendering="crispEdges"/><text x="256.7" y="349.6" font-family='"Liberation Sans", Arial, sans-serif' font-size="8.2" font-weight="bold" fill="#111" text-anchor="end">0</text><line x1="261.7" y1="368.65" x2="259.1" y2="368.65" stroke="#222" stroke-width="0.7" shape-rendering="crispEdges"/><text x="256.7" y="371.45" font-family='"Liberation Sans", Arial, sans-serif' font-size="8.2" font-weight="bold" fill="#111" text-anchor="end">-10</text><line x1="261.7" y1="390.5" x2="259.1" y2="390.5" stroke="#222" stroke-width="0.7" shape-rendering="crispEdges"/><text x="256.7" y="393.3" font-family='"Liberation Sans", Arial, sans-serif' font-size="8.2" font-weight="bold" fill="#111" text-anchor="end">-20</text><line x1="261.7" y1="412.35" x2="259.1" y2="412.35" stroke="#222" stroke-width="0.7" shape-rendering="crispEdges"/><text x="256.7" y="415.15" font-family='"Liberation Sans", Arial, sans-serif' font-size="8.2" font-weight="bold" fill="#111" text-anchor="end">-30</text><line x1="261.7" y1="434.2" x2="259.1" y2="434.2" stroke="#222" stroke-width="0.7" shape-rendering="crispEdges"/><text x="256.7" y="437" font-family='"Liberation Sans", Arial, sans-serif' font-size="8.2" font-weight="bold" fill="#111" text-anchor="end">-40</text><line x1="261.7" y1="456.05" x2="259.1" y2="456.05" stroke="#222" stroke-width="0.7" shape-rendering="crispEdges"/><text x="256.7" y="458.85" font-family='"Liberation Sans", Arial, sans-serif' font-size="8.2" font-weight="bold" fill="#111" text-anchor="end">-50</text><line x1="261.7" y1="477.9" x2="259.1" y2="477.9" stroke="#222" stroke-width="0.7" shape-rendering="crispEdges"/><text x="256.7" y="480.7" font-family='"Liberation Sans", Arial, sans-serif' font-size="8.2" font-weight="bold" fill="#111" text-anchor="end">-60</text>
<line x1="261.7" y1="477.9" x2="261.7" y2="480.5" stroke="#222" stroke-width="0.7" shape-rendering="crispEdges"/><text x="261.7" y="489.2" font-family='"Liberation Sans", Arial, sans-serif' font-size="8.2" font-weight="bold" fill="#111" text-anchor="middle">2</text><line x1="278.02" y1="477.9" x2="278.02" y2="479.4" stroke="#222" stroke-width="0.7" shape-rendering="crispEdges"/><line x1="294.34" y1="477.9" x2="294.34" y2="480.5" stroke="#222" stroke-width="0.7" shape-rendering="crispEdges"/><text x="294.34" y="489.2" font-family='"Liberation Sans", Arial, sans-serif' font-size="8.2" font-weight="bold" fill="#111" text-anchor="middle">4</text><line x1="310.66" y1="477.9" x2="310.66" y2="479.4" stroke="#222" stroke-width="0.7" shape-rendering="crispEdges"/><line x1="326.98" y1="477.9" x2="326.98" y2="480.5" stroke="#222" stroke-width="0.7" shape-rendering="crispEdges"/><text x="326.98" y="489.2" font-family='"Liberation Sans", Arial, sans-serif' font-size="8.2" font-weight="bold" fill="#111" text-anchor="middle">6</text><line x1="343.3" y1="477.9" x2="343.3" y2="479.4" stroke="#222" stroke-width="0.7" shape-rendering="crispEdges"/><line x1="359.62" y1="477.9" x2="359.62" y2="480.5" stroke="#222" stroke-width="0.7" shape-rendering="crispEdges"/><text x="359.62" y="489.2" font-family='"Liberation Sans", Arial, sans-serif' font-size="8.2" font-weight="bold" fill="#111" text-anchor="middle">8</text><line x1="375.94" y1="477.9" x2="375.94" y2="479.4" stroke="#222" stroke-width="0.7" shape-rendering="crispEdges"/><line x1="392.26" y1="477.9" x2="392.26" y2="480.5" stroke="#222" stroke-width="0.7" shape-rendering="crispEdges"/><text x="392.26" y="489.2" font-family='"Liberation Sans", Arial, sans-serif' font-size="8.2" font-weight="bold" fill="#111" text-anchor="middle">10</text><line x1="408.58" y1="477.9" x2="408.58" y2="479.4" stroke="#222" stroke-width="0.7" shape-rendering="crispEdges"/><line x1="424.9" y1="477.9" x2="424.9" y2="480.5" stroke="#222" stroke-width="0.7" shape-rendering="crispEdges"/><text x="424.9" y="489.2" font-family='"Liberation Sans", Arial, sans-serif' font-size="8.2" font-weight="bold" fill="#111" text-anchor="middle">12</text><text x="343.3" y="505.7" font-family='"Liberation Sans", Arial, sans-serif' font-size="10.9" font-weight="bold" fill="#111" text-anchor="middle">Frequency / GHz</text>
<text transform="translate(238.3 408.4) rotate(-90)" font-family='"Liberation Sans", Arial, sans-serif' font-size="10.9" font-weight="bold" text-anchor="middle" fill="#111" stroke="#111" stroke-width="0.35">Reflectivity / dB</text>
<text x="443" y="359.7" font-family='"Liberation Sans", Arial, sans-serif' font-size="21" font-weight="bold">f</text>
<rect x="492.3" y="346.8" width="32.76" height="131.2" fill="#e9f3fb"/><rect x="525.06" y="346.8" width="65.52" height="131.2" fill="#fdf4e6"/><rect x="590.58" y="346.8" width="65.52" height="131.2" fill="#fdeaea"/><line x1="525.06" y1="346.8" x2="525.06" y2="478" stroke="#9a9a9a" stroke-width="0.6"/><line x1="590.58" y1="346.8" x2="590.58" y2="478" stroke="#9a9a9a" stroke-width="0.6"/>
<path d="M492.3 401.83 L492.63 403.33 L492.97 404.85 L493.3 406.39 L493.63 407.96 L493.97 409.54 L494.3 411.14 L494.63 412.76 L494.97 414.4 L495.3 416.04 L495.63 417.69 L495.96 419.36 L496.3 421.03 L496.63 422.72 L496.96 424.48 L497.3 426.3 L497.63 428.17 L497.96 430.08 L498.3 432.01 L498.63 433.94 L498.96 435.88 L499.3 437.79 L499.63 439.67 L499.96 441.51 L500.3 443.29 L500.63 445 L500.96 446.63 L501.3 448.2 L501.63 449.7 L501.96 451.15 L502.29 452.55 L502.63 453.9 L502.96 455.19 L503.29 456.45 L503.63 457.65 L503.96 458.82 L504.29 459.94 L504.63 461.03 L504.96 462.08 L505.29 463.1 L505.63 464.09 L505.96 465.06 L506.29 466.02 L506.63 466.96 L506.96 467.87 L507.29 468.76 L507.63 469.63 L507.96 470.47 L508.29 471.27 L508.62 472.05 L508.96 472.8 L509.29 473.53 L509.62 474.24 L509.96 474.91 L510.29 475.55 L510.62 476.15 L510.96 476.7 L511.29 477.19 L511.62 477.63 L511.96 478.01 L512.28 346.79 L513.06 347.63 L513.83 348.45 L514.6 349.24 L515.38 349.97 L516.15 350.63 L516.92 351.2 L517.7 351.73 L518.47 352.26 L519.24 352.78 L520.02 353.3 L520.79 353.82 L521.56 354.33 L522.34 354.84 L523.11 355.35 L523.88 355.86 L524.66 356.37 L525.43 356.87 L526.2 357.38 L526.98 357.89 L527.75 358.4 L528.52 358.91 L529.3 359.41 L530.07 359.92 L530.84 360.43 L531.62 360.94 L532.39 361.44 L533.16 361.95 L533.94 362.45 L534.71 362.95 L535.49 363.45 L536.26 363.95 L537.03 364.44 L537.81 364.94 L538.58 365.42 L539.35 365.91 L540.13 366.39 L540.9 366.87 L541.67 367.34 L542.45 367.8 L543.22 368.25 L543.99 368.68 L544.77 369.1 L545.54 369.5 L546.31 369.89 L547.09 370.28 L547.86 370.65 L548.63 371.01 L549.41 371.36 L550.18 371.7 L550.95 372.04 L551.73 372.37 L552.5 372.7 L553.27 373.02 L554.05 373.34 L554.82 373.65 L555.59 373.96 L556.37 374.27 L557.14 374.58 L557.91 374.89 L558.69 375.2 L559.46 375.5 L560.23 375.8 L561.01 376.09 L561.78 376.38 L562.55 376.67 L563.33 376.95 L564.1 377.23 L564.87 377.51 L565.65 377.79 L566.42 378.06 L567.19 378.34 L567.97 378.61 L568.74 378.87 L569.51 379.11 L570.29 379.34 L571.06 379.54 L571.83 379.72 L572.61 379.8 L573.38 379.59 L574.69 375.95 L575.35 366.11 L576.17 452.5 L576.17 452.5 L576.98 450.82 L577.8 450.17 L578.61 449.92 L579.43 449.86 L580.24 450.02 L581.05 450.22 L581.87 450.43 L582.68 450.64 L583.5 450.87 L584.31 451.13 L585.13 451.38 L585.94 451.63 L586.76 451.88 L587.57 452.14 L588.39 452.41 L589.2 452.69 L590.02 453 L590.83 453.33 L591.65 453.67 L592.46 454.02 L593.28 454.37 L594.09 454.72 L594.91 455.09 L595.72 455.45 L596.54 455.82 L597.35 456.19 L598.17 456.57 L598.98 456.96 L599.8 457.34 L600.61 457.73 L601.43 458.12 L602.24 458.52 L603.06 458.92 L603.87 459.32 L604.69 459.73 L605.5 460.14 L606.32 460.55 L607.13 460.97 L607.94 461.38 L608.76 461.8 L609.57 462.21 L610.39 462.63 L611.2 463.04 L612.02 463.46 L612.83 463.87 L613.65 464.29 L614.46 464.7 L615.28 465.12 L616.09 465.54 L616.91 465.96 L617.72 466.37 L618.54 466.79 L619.35 467.21 L620.17 467.63 L620.98 468.05 L621.8 468.47 L622.61 468.89 L623.43 469.31 L624.24 469.73 L625.06 470.15 L625.87 470.58 L626.69 471 L627.5 471.42 L628.32 471.85 L629.13 472.27 L629.95 472.7 L630.76 473.12 L631.58 473.54 L632.39 473.96 L633.21 474.38 L634.02 474.8 L634.84 475.21 L635.65 475.62 L636.46 476.02 L637.28 476.43 L638.09 476.82 L638.91 477.22 L639.72 477.62 L640.54 478.01 L641.03 346.79 L641.55 347.28 L642.07 347.77 L642.59 348.25 L643.11 348.72 L643.63 349.19 L644.15 349.65 L644.67 350.1 L645.19 350.55 L645.71 350.99 L646.23 351.42 L646.75 351.85 L647.27 352.28 L647.79 352.69 L648.31 353.11 L648.83 353.52 L649.34 353.92 L649.86 354.32 L650.38 354.72 L650.9 355.11 L651.42 355.5 L651.94 355.88 L652.46 356.26 L652.98 356.64 L653.5 357.01 L654.02 357.38 L654.54 357.75 L655.06 358.11 L655.58 358.46 L656.1 358.82" fill="none" stroke="#161616" stroke-width="0.95" stroke-linejoin="miter"/>
<path d="M492.3 359.71 L492.58 363.49 L492.86 367.22 L493.15 370.89 L493.43 374.53 L493.71 378.12 L493.99 381.68 L494.28 385.22 L494.56 388.73 L494.84 392.23 L495.12 395.72 L495.41 399.2 L495.69 402.68 L495.97 406.11 L496.25 409.48 L496.54 412.79 L496.82 416.03 L497.1 419.22 L497.38 422.35 L497.67 425.41 L497.95 428.42 L498.23 431.36 L498.51 434.24 L498.8 437.07 L499.08 439.67 L499.36 441.76 L499.64 443.4 L499.93 444.69 L500.21 445.7 L500.49 446.5 L500.49 446.5 L501.13 443.04 L501.76 439.6 L502.4 436.16 L503.03 432.75 L503.67 429.36 L504.31 426 L504.94 422.67 L505.58 419.38 L506.21 416.46 L506.85 413.95 L507.49 411.74 L508.12 409.77 L508.76 407.93 L509.39 406.18 L510.03 404.52 L510.66 402.95 L511.3 401.49 L511.94 400.15 L512.57 398.93 L513.21 397.84 L513.84 396.89 L514.48 396.01 L515.12 395.2 L515.75 394.44 L516.39 393.76 L517.02 393.14 L517.66 392.6 L518.3 392.14 L518.93 391.75 L519.57 391.39 L520.2 391.06 L520.84 390.77 L521.48 390.51 L522.11 390.3 L522.75 390.14 L523.38 390.03 L524.02 389.96 L524.66 389.96 L525.29 390.01 L525.93 390.11 L526.56 390.25 L527.2 390.44 L527.83 390.68 L528.47 390.97 L529.11 391.31 L529.74 391.71 L530.38 392.16 L531.01 392.68 L531.65 393.25 L532.29 393.86 L532.92 394.49 L533.56 395.13 L534.19 395.8 L534.83 396.48 L535.47 397.19 L536.1 397.92 L536.74 398.68 L537.37 399.46 L538.01 400.28 L538.65 401.14 L539.28 402.02 L539.92 402.95 L540.55 403.91 L541.19 404.92 L541.83 405.96 L542.46 407.01 L543.1 408.06 L543.73 409.12 L544.37 410.18 L545.01 411.25 L545.64 412.34 L546.28 413.43 L546.91 414.54 L547.55 415.66 L548.18 416.8 L548.82 417.96 L549.46 419.13 L550.09 420.32 L550.73 421.51 L551.36 422.7 L552 423.9 L552.64 425.09 L553.27 426.28 L553.91 427.47 L554.54 428.66 L555.18 429.85 L555.82 431.04 L556.45 432.23 L557.09 433.42 L557.72 434.62 L558.36 435.81 L559 437 L559.63 438.19 L560.27 439.38 L560.9 440.57 L561.54 441.76 L562.18 442.95 L562.81 444.15 L563.45 445.34 L564.08 446.53 L564.72 447.72 L565.35 448.91 L565.99 450.1 L566.63 451.29 L567.26 452.47 L567.9 453.65 L568.53 454.82 L569.17 455.99 L569.81 457.16 L570.44 458.31 L571.08 459.47 L571.71 460.62 L572.35 461.76 L572.99 462.91 L573.62 464.04 L574.26 465.18 L574.89 466.2 L575.53 467.09 L576.17 467.9 L576.17 467.9 L576.97 466.07 L577.78 464.28 L578.59 462.55 L579.4 460.86 L580.2 459.2 L581.01 457.57 L581.82 455.97 L582.62 454.4 L583.43 452.87 L584.24 451.36 L585.05 449.88 L585.85 448.43 L586.66 447 L587.47 445.6 L588.28 444.22 L589.08 442.87 L589.89 441.55 L590.7 440.26 L591.51 438.99 L592.31 437.73 L593.12 436.5 L593.93 435.28 L594.74 434.08 L595.54 432.89 L596.35 431.73 L597.16 430.58 L597.97 429.45 L598.77 428.33 L599.58 427.23 L600.39 426.15 L601.2 425.07 L602 424.01 L602.81 422.97 L603.62 421.94 L604.43 420.92 L605.23 419.92 L606.04 418.94 L606.85 417.97 L607.65 417.03 L608.46 416.09 L609.27 415.18 L610.08 414.28 L610.88 413.39 L611.69 412.53 L612.5 411.67 L613.31 410.83 L614.11 410 L614.92 409.19 L615.73 408.39 L616.54 407.6 L617.34 406.82 L618.15 406.07 L618.96 405.33 L619.77 404.61 L620.57 403.91 L621.38 403.23 L622.19 402.58 L623 401.95 L623.8 401.35 L624.61 400.77 L625.42 400.2 L626.23 399.66 L627.03 399.12 L627.84 398.61 L628.65 398.11 L629.46 397.63 L630.26 397.16 L631.07 396.7 L631.88 396.25 L632.68 395.81 L633.49 395.38 L634.3 394.95 L635.11 394.53 L635.91 394.12 L636.72 393.73 L637.53 393.35 L638.34 392.98 L639.14 392.64 L639.95 392.32 L640.76 392.02 L641.57 391.73 L642.37 391.46 L643.18 391.2 L643.99 390.94 L644.8 390.68 L645.6 390.41 L646.41 390.14 L647.22 389.85 L648.03 389.54 L648.83 389.22 L649.64 388.89 L650.45 388.57 L651.26 388.24 L652.06 387.91 L652.87 387.57 L653.68 387.22 L654.49 386.87 L655.29 386.52 L656.1 386.15" fill="none" stroke="#fa1616" stroke-width="1.1" stroke-linejoin="round"/>
<line x1="520.2" y1="446.4" x2="507" y2="446.4" stroke="#111" stroke-width="0.8"/>
<polygon points="501.3,446.4 508.3,444.6 508.3,448.2" fill="#111"/>
<text x="520.6" y="449.4" font-family='"Liberation Sans", Arial, sans-serif' font-size="8.7" font-weight="bold" fill="#111">2.5 GHz</text>
<line x1="556.5" y1="468" x2="569.5" y2="468" stroke="#111" stroke-width="0.8"/>
<polygon points="575.2,468 568.2,469.8 568.2,466.2" fill="#111"/>
<text x="523" y="470.9" font-family='"Liberation Sans", Arial, sans-serif' font-size="8.7" font-weight="bold" fill="#111">7.1 GHz</text>
<line x1="579.1" y1="354" x2="596.7" y2="354" stroke="#1a1a1a" stroke-width="0.9"/>
<text x="599.7" y="356.8" font-family='"Liberation Sans", Arial, sans-serif' font-size="7.8" font-weight="bold" fill="#111">Phase</text>
<line x1="579.1" y1="364.1" x2="596.7" y2="364.1" stroke="#fa1616" stroke-width="0.9"/>
<text x="599.7" y="367.3" font-family='"Liberation Sans", Arial, sans-serif' font-size="7.8" font-weight="bold" fill="#111">Amplitude</text>
<rect x="492.3" y="346.8" width="163.8" height="131.2" fill="none" stroke="#8a8a8a" stroke-width="0.8"/>
<line x1="492.3" y1="346.4" x2="492.3" y2="478.4" stroke="#2a2a2a" stroke-width="0.8" shape-rendering="crispEdges"/>
<line x1="492.3" y1="478" x2="656.1" y2="478" stroke="#2a2a2a" stroke-width="0.8" shape-rendering="crispEdges"/>
<line x1="656.1" y1="346.8" x2="656.1" y2="478" stroke="#fa1616" stroke-width="0.9" shape-rendering="crispEdges"/>
<line x1="492.3" y1="357.72" x2="490.8" y2="357.72" stroke="#222" stroke-width="0.7" shape-rendering="crispEdges"/><line x1="492.3" y1="379.59" x2="490.8" y2="379.59" stroke="#222" stroke-width="0.7" shape-rendering="crispEdges"/><line x1="492.3" y1="401.46" x2="490.8" y2="401.46" stroke="#222" stroke-width="0.7" shape-rendering="crispEdges"/><line x1="492.3" y1="423.33" x2="490.8" y2="423.33" stroke="#222" stroke-width="0.7" shape-rendering="crispEdges"/><line x1="492.3" y1="445.2" x2="490.8" y2="445.2" stroke="#222" stroke-width="0.7" shape-rendering="crispEdges"/><line x1="492.3" y1="467.07" x2="490.8" y2="467.07" stroke="#222" stroke-width="0.7" shape-rendering="crispEdges"/><line x1="492.3" y1="346.79" x2="489.7" y2="346.79" stroke="#222" stroke-width="0.7" shape-rendering="crispEdges"/><text x="487.3" y="349.59" font-family='"Liberation Sans", Arial, sans-serif' font-size="8.2" font-weight="bold" fill="#111" text-anchor="end">180</text><line x1="492.3" y1="368.66" x2="489.7" y2="368.66" stroke="#222" stroke-width="0.7" shape-rendering="crispEdges"/><text x="487.3" y="371.46" font-family='"Liberation Sans", Arial, sans-serif' font-size="8.2" font-weight="bold" fill="#111" text-anchor="end">120</text><line x1="492.3" y1="390.53" x2="489.7" y2="390.53" stroke="#222" stroke-width="0.7" shape-rendering="crispEdges"/><text x="487.3" y="393.33" font-family='"Liberation Sans", Arial, sans-serif' font-size="8.2" font-weight="bold" fill="#111" text-anchor="end">60</text><line x1="492.3" y1="412.4" x2="489.7" y2="412.4" stroke="#222" stroke-width="0.7" shape-rendering="crispEdges"/><text x="487.3" y="415.2" font-family='"Liberation Sans", Arial, sans-serif' font-size="8.2" font-weight="bold" fill="#111" text-anchor="end">0</text><line x1="492.3" y1="434.27" x2="489.7" y2="434.27" stroke="#222" stroke-width="0.7" shape-rendering="crispEdges"/><text x="487.3" y="437.07" font-family='"Liberation Sans", Arial, sans-serif' font-size="8.2" font-weight="bold" fill="#111" text-anchor="end">-60</text><line x1="492.3" y1="456.14" x2="489.7" y2="456.14" stroke="#222" stroke-width="0.7" shape-rendering="crispEdges"/><text x="487.3" y="458.94" font-family='"Liberation Sans", Arial, sans-serif' font-size="8.2" font-weight="bold" fill="#111" text-anchor="end">-120</text><line x1="492.3" y1="478.01" x2="489.7" y2="478.01" stroke="#222" stroke-width="0.7" shape-rendering="crispEdges"/><text x="487.3" y="480.81" font-family='"Liberation Sans", Arial, sans-serif' font-size="8.2" font-weight="bold" fill="#111" text-anchor="end">-180</text>
<line x1="656.1" y1="366.97" x2="657.6" y2="366.97" stroke="#fa1616" stroke-width="0.7" shape-rendering="crispEdges"/><line x1="656.1" y1="407.34" x2="657.6" y2="407.34" stroke="#fa1616" stroke-width="0.7" shape-rendering="crispEdges"/><line x1="656.1" y1="447.71" x2="657.6" y2="447.71" stroke="#fa1616" stroke-width="0.7" shape-rendering="crispEdges"/><line x1="656.1" y1="346.79" x2="658.7" y2="346.79" stroke="#fa1616" stroke-width="0.7" shape-rendering="crispEdges"/><text x="660.5" y="349.59" font-family='"Liberation Sans", Arial, sans-serif' font-size="8.2" font-weight="bold" fill="#fa1616" text-anchor="start">0.3</text><line x1="656.1" y1="387.16" x2="658.7" y2="387.16" stroke="#fa1616" stroke-width="0.7" shape-rendering="crispEdges"/><text x="660.5" y="389.96" font-family='"Liberation Sans", Arial, sans-serif' font-size="8.2" font-weight="bold" fill="#fa1616" text-anchor="start">0.2</text><line x1="656.1" y1="427.53" x2="658.7" y2="427.53" stroke="#fa1616" stroke-width="0.7" shape-rendering="crispEdges"/><text x="660.5" y="430.33" font-family='"Liberation Sans", Arial, sans-serif' font-size="8.2" font-weight="bold" fill="#fa1616" text-anchor="start">0.1</text><line x1="656.1" y1="467.9" x2="658.7" y2="467.9" stroke="#fa1616" stroke-width="0.7" shape-rendering="crispEdges"/><text x="660.5" y="470.7" font-family='"Liberation Sans", Arial, sans-serif' font-size="8.2" font-weight="bold" fill="#fa1616" text-anchor="start">0.0</text>
<line x1="492.3" y1="478" x2="492.3" y2="480.6" stroke="#222" stroke-width="0.7" shape-rendering="crispEdges"/><text x="492.3" y="489.2" font-family='"Liberation Sans", Arial, sans-serif' font-size="8.2" font-weight="bold" fill="#111" text-anchor="middle">2</text><line x1="508.68" y1="478" x2="508.68" y2="479.5" stroke="#222" stroke-width="0.7" shape-rendering="crispEdges"/><line x1="525.06" y1="478" x2="525.06" y2="480.6" stroke="#222" stroke-width="0.7" shape-rendering="crispEdges"/><text x="525.06" y="489.2" font-family='"Liberation Sans", Arial, sans-serif' font-size="8.2" font-weight="bold" fill="#111" text-anchor="middle">4</text><line x1="541.44" y1="478" x2="541.44" y2="479.5" stroke="#222" stroke-width="0.7" shape-rendering="crispEdges"/><line x1="557.82" y1="478" x2="557.82" y2="480.6" stroke="#222" stroke-width="0.7" shape-rendering="crispEdges"/><text x="557.82" y="489.2" font-family='"Liberation Sans", Arial, sans-serif' font-size="8.2" font-weight="bold" fill="#111" text-anchor="middle">6</text><line x1="574.2" y1="478" x2="574.2" y2="479.5" stroke="#222" stroke-width="0.7" shape-rendering="crispEdges"/><line x1="590.58" y1="478" x2="590.58" y2="480.6" stroke="#222" stroke-width="0.7" shape-rendering="crispEdges"/><text x="590.58" y="489.2" font-family='"Liberation Sans", Arial, sans-serif' font-size="8.2" font-weight="bold" fill="#111" text-anchor="middle">8</text><line x1="606.96" y1="478" x2="606.96" y2="479.5" stroke="#222" stroke-width="0.7" shape-rendering="crispEdges"/><line x1="623.34" y1="478" x2="623.34" y2="480.6" stroke="#222" stroke-width="0.7" shape-rendering="crispEdges"/><text x="623.34" y="489.2" font-family='"Liberation Sans", Arial, sans-serif' font-size="8.2" font-weight="bold" fill="#111" text-anchor="middle">10</text><line x1="639.72" y1="478" x2="639.72" y2="479.5" stroke="#222" stroke-width="0.7" shape-rendering="crispEdges"/><line x1="656.1" y1="478" x2="656.1" y2="480.6" stroke="#222" stroke-width="0.7" shape-rendering="crispEdges"/><text x="656.1" y="489.2" font-family='"Liberation Sans", Arial, sans-serif' font-size="8.2" font-weight="bold" fill="#111" text-anchor="middle">12</text><text x="574.2" y="506.2" font-family='"Liberation Sans", Arial, sans-serif' font-size="10.9" font-weight="bold" fill="#111" text-anchor="middle">Frequency / GHz</text>
<text transform="translate(467 413) rotate(-90)" font-family='"Liberation Sans", Arial, sans-serif' font-size="10.9" font-weight="bold" text-anchor="middle" fill="#111" stroke="#111" stroke-width="0.35">Phase / °</text>
<text transform="translate(683.3 411.6) rotate(-90)" font-family='"Liberation Sans", Arial, sans-serif' font-size="10.9" font-weight="bold" text-anchor="middle" fill="#fa1616" stroke="#fa1616" stroke-width="0.35">Amplitude</text>
<!-- panel_g -->
<text x="0" y="522" font-family='"Liberation Sans", Arial, sans-serif' font-size="21" font-weight="bold">g</text>
<text x="3.3" y="543.6" font-family='"Liberation Sans", Arial, sans-serif' font-size="14.5" font-weight="bold">Max</text>
<text x="4.3" y="658" font-family='"Liberation Sans", Arial, sans-serif' font-size="14.5" font-weight="bold">Min</text>
<defs><linearGradient id="cbar" x1="0" y1="0" x2="0" y2="1"><stop offset="0" stop-color="#ff1a1a"/><stop offset="0.08" stop-color="#ff4a10"/><stop offset="0.18" stop-color="#ff9a10"/><stop offset="0.28" stop-color="#f8f010"/><stop offset="0.38" stop-color="#8ee010"/><stop offset="0.48" stop-color="#22b422"/><stop offset="0.56" stop-color="#127a4a"/><stop offset="0.62" stop-color="#1450a0"/><stop offset="0.68" stop-color="#1420f0"/><stop offset="0.76" stop-color="#1010e0"/><stop offset="0.86" stop-color="#1a0a9a"/><stop offset="1" stop-color="#3c0a78"/></linearGradient></defs>
<rect x="12.4" y="546.3" width="8" height="99.2" fill="url(#cbar)"/>
<defs><filter id="gblur" x="-0.3" y="-0.3" width="1.6" height="1.6" filterUnits="userSpaceOnUse" primitiveUnits="userSpaceOnUse"><feGaussianBlur stdDeviation="0.025"/></filter></defs>
<polygon points="31.5,562.1 78.9,570.6 78.8,657.4 31.6,649.4" fill="#fae2e5"/><polygon points="78.9,570.6 93.9,545.2 93.9,633.9 78.8,657.4" fill="#f8e5e7"/><polygon points="31.6,649.4 47.2,626.4 93.9,633.9 78.8,657.4" fill="#8fa5a2"/><polyline points="31.6,649.4 78.8,657.4 93.9,633.9" fill="none" stroke="#5fb0a8" stroke-width="0.7"/><line x1="47.2" y1="536.4" x2="47.2" y2="626.4" stroke="#efc3c9" stroke-width="0.5"/><polygon points="31.6,623 47,599.3 93.9,606.5 78.8,630" fill="#f0bcc5" fill-opacity="0.5"/><defs><linearGradient id="gg2" gradientUnits="userSpaceOnUse" x1="0" y1="0" x2="0" y2="1"><stop offset="0" stop-color="#35d0f4"/><stop offset="0.09" stop-color="#35e6b0"/><stop offset="0.2" stop-color="#62ea4e"/><stop offset="0.36" stop-color="#d2ee28"/><stop offset="0.5" stop-color="#f4e624"/><stop offset="0.62" stop-color="#d2ee28"/><stop offset="0.74" stop-color="#58e860"/><stop offset="0.85" stop-color="#30dce0"/><stop offset="1" stop-color="#30b4f2"/></linearGradient><radialGradient id="gg3"><stop offset="0" stop-color="#fbc41e" stop-opacity="1"/><stop offset="0.5" stop-color="#f8dc20" stop-opacity="0.9"/><stop offset="1" stop-color="#f4e624" stop-opacity="0"/></radialGradient><radialGradient id="gg4"><stop offset="0" stop-color="#9cec30" stop-opacity="1"/><stop offset="0.6" stop-color="#9cec30" stop-opacity="0.7"/><stop offset="1" stop-color="#58e860" stop-opacity="0"/></radialGradient><radialGradient id="gg5"><stop offset="0" stop-color="#f0e826" stop-opacity="1"/><stop offset="0.5" stop-color="#d4ee28" stop-opacity="0.8"/><stop offset="1" stop-color="#d4ee28" stop-opacity="0"/></radialGradient><radialGradient id="gg6"><stop offset="0" stop-color="#30c0f4" stop-opacity="1"/><stop offset="0.6" stop-color="#35e0d8" stop-opacity="0.8"/><stop offset="1" stop-color="#62ea4e" stop-opacity="0"/></radialGradient><radialGradient id="gg7"><stop offset="0" stop-color="#309cf4" stop-opacity="1"/><stop offset="0.55" stop-color="#30d4ec" stop-opacity="0.9"/><stop offset="1" stop-color="#58e860" stop-opacity="0"/></radialGradient><radialGradient id="gg8"><stop offset="0" stop-color="#fb2a2a" stop-opacity="1"/><stop offset="0.5" stop-color="#fb8a1e" stop-opacity="0.9"/><stop offset="1" stop-color="#f6e822" stop-opacity="0"/></radialGradient><radialGradient id="gg9"><stop offset="0" stop-color="#fb2a2a" stop-opacity="1"/><stop offset="0.5" stop-color="#fb6a1e" stop-opacity="0.9"/><stop offset="1" stop-color="#f6e822" stop-opacity="0"/></radialGradient><clipPath id="gc0l"><rect x="0" y="0" width="1" height="1"/></clipPath></defs><g transform="matrix(44.1 7.6 -13.1 22.2 47.2 600.1)"><g clip-path="url(#gc0l)"><g filter="url(#gblur)"><rect x="-0.2" y="-0.2" width="1.4" height="1.4" fill="url(#gg2)"/><ellipse cx="0.1" cy="0.36" rx="0.34" ry="0.3" fill="url(#gg3)"/><ellipse cx="0" cy="0.8" rx="0.16" ry="0.3" fill="url(#gg4)"/><ellipse cx="0.97" cy="0.4" rx="0.16" ry="0.45" fill="url(#gg5)"/><ellipse cx="0.55" cy="0" rx="0.4" ry="0.26" fill="url(#gg6)"/><ellipse cx="0.48" cy="1" rx="0.36" ry="0.36" fill="url(#gg7)"/><ellipse cx="0" cy="1" rx="0.1" ry="0.16" fill="url(#gg8)"/><ellipse cx="1" cy="0" rx="0.09" ry="0.2" fill="url(#gg9)"/></g></g></g><polygon points="31.6,623 47,599.3 93.9,606.5 78.8,630" fill="none" stroke="#e3959f" stroke-width="0.5"/><polygon points="31.5,599.3 47,574.6 93.9,581.9 78.9,606.2" fill="#f0bcc5" fill-opacity="0.5"/><defs><linearGradient id="gg1" gradientUnits="userSpaceOnUse" x1="0" y1="0" x2="1" y2="0"><stop offset="0" stop-color="#2fa4f4"/><stop offset="0.12" stop-color="#2f6cf0"/><stop offset="0.32" stop-color="#2f25e2"/><stop offset="0.7" stop-color="#2f25e2"/><stop offset="0.9" stop-color="#3560ee"/><stop offset="1" stop-color="#3f90f2"/></linearGradient><clipPath id="gc0u"><rect x="0" y="0" width="1" height="1"/></clipPath></defs><g transform="matrix(25.1 4.7 -8.2 12.5 54.2 581.4)"><g clip-path="url(#gc0u)"><g filter="url(#gblur)"><rect x="-0.2" y="-0.2" width="1.4" height="1.4" fill="url(#gg1)"/></g></g></g><polygon points="31.5,599.3 47,574.6 93.9,581.9 78.9,606.2" fill="none" stroke="#e3959f" stroke-width="0.5"/><polygon points="31.5,562.1 47.2,536.4 93.9,545.2 78.9,570.6" fill="#5ba69e"/><polyline points="31.5,562.1 78.9,570.6 93.9,545.2" fill="none" stroke="#4f9c94" stroke-width="0.6"/><line x1="31.5" y1="562.1" x2="31.6" y2="649.4" stroke="#e3959f" stroke-width="0.6"/><line x1="78.9" y1="570.6" x2="78.8" y2="657.4" stroke="#e3959f" stroke-width="0.6"/><line x1="93.9" y1="545.2" x2="93.9" y2="633.9" stroke="#e3959f" stroke-width="0.6"/>
<text x="63" y="678" font-family='"Liberation Sans", Arial, sans-serif' font-size="16" fill="#111" text-anchor="middle">2 GHz</text>
<polygon points="102.77,562.1 150.17,570.6 150.07,657.4 102.87,649.4" fill="#fae2e5"/><polygon points="150.17,570.6 165.17,545.2 165.17,633.9 150.07,657.4" fill="#f8e5e7"/><polygon points="102.87,649.4 118.47,626.4 165.17,633.9 150.07,657.4" fill="#8fa5a2"/><polyline points="102.87,649.4 150.07,657.4 165.17,633.9" fill="none" stroke="#5fb0a8" stroke-width="0.7"/><line x1="118.47" y1="536.4" x2="118.47" y2="626.4" stroke="#efc3c9" stroke-width="0.5"/><polygon points="102.87,623 118.27,599.3 165.17,606.5 150.07,630" fill="#f0bcc5" fill-opacity="0.5"/><defs><clipPath id="gc1l"><rect x="0" y="0" width="1" height="1"/></clipPath></defs><g transform="matrix(44.1 7.6 -13.1 22.2 118.47 600.1)"><g clip-path="url(#gc1l)"><g filter="url(#gblur)"><rect x="-0.2" y="-0.2" width="1.4" height="1.4" fill="#fb2a2a"/><path d="M0.17 -0.2 L0.17 0 L0.19 0.04 L0.21 0.07 L0.23 0.1 L0.25 0.13 L0.28 0.15 L0.3 0.18 L0.32 0.2 L0.34 0.23 L0.36 0.24 L0.38 0.25 L0.4 0.25 L0.42 0.24 L0.44 0.24 L0.46 0.23 L0.49 0.22 L0.51 0.21 L0.53 0.2 L0.55 0.2 L0.57 0.2 L0.59 0.2 L0.61 0.21 L0.63 0.22 L0.65 0.22 L0.67 0.23 L0.7 0.24 L0.72 0.24 L0.74 0.25 L0.76 0.26 L0.78 0.26 L0.8 0.27 L0.82 0.28 L0.84 0.28 L0.86 0.28 L0.88 0.27 L0.91 0.23 L0.93 0.19 L0.95 0.15 L0.97 0.08 L0.99 -0 L0.99 -0.2Z" fill="#fb7a1e"/><path d="M0.18 -0.2 L0.18 0 L0.21 0.03 L0.23 0.06 L0.25 0.09 L0.27 0.11 L0.29 0.14 L0.31 0.16 L0.33 0.18 L0.35 0.2 L0.37 0.22 L0.39 0.22 L0.41 0.22 L0.43 0.22 L0.45 0.21 L0.47 0.2 L0.49 0.19 L0.51 0.19 L0.53 0.18 L0.55 0.18 L0.57 0.18 L0.59 0.18 L0.61 0.19 L0.63 0.19 L0.65 0.2 L0.67 0.21 L0.69 0.21 L0.71 0.22 L0.73 0.22 L0.75 0.23 L0.77 0.24 L0.79 0.24 L0.81 0.25 L0.83 0.25 L0.85 0.25 L0.87 0.24 L0.89 0.21 L0.91 0.17 L0.93 0.13 L0.95 0.08 L0.97 -0 L0.97 -0.2Z" fill="#f8d820"/><path d="M0.2 -0.2 L0.2 0 L0.22 0.03 L0.24 0.05 L0.26 0.07 L0.28 0.09 L0.3 0.11 L0.32 0.13 L0.34 0.15 L0.36 0.17 L0.38 0.18 L0.39 0.18 L0.41 0.18 L0.43 0.18 L0.45 0.17 L0.47 0.17 L0.49 0.16 L0.51 0.15 L0.53 0.15 L0.55 0.15 L0.57 0.15 L0.59 0.15 L0.61 0.16 L0.63 0.16 L0.65 0.16 L0.67 0.17 L0.69 0.17 L0.71 0.18 L0.73 0.18 L0.75 0.19 L0.77 0.19 L0.78 0.2 L0.8 0.2 L0.82 0.21 L0.84 0.21 L0.86 0.2 L0.88 0.17 L0.9 0.14 L0.92 0.11 L0.94 0.06 L0.96 -0 L0.96 -0.2Z" fill="#b4ee2c"/><path d="M0.22 -0.2 L0.22 0 L0.24 0.02 L0.26 0.04 L0.28 0.06 L0.29 0.07 L0.31 0.09 L0.33 0.1 L0.35 0.12 L0.37 0.13 L0.39 0.14 L0.4 0.14 L0.42 0.14 L0.44 0.14 L0.46 0.14 L0.48 0.13 L0.5 0.13 L0.52 0.12 L0.53 0.12 L0.55 0.12 L0.57 0.12 L0.59 0.12 L0.61 0.12 L0.63 0.13 L0.64 0.13 L0.66 0.13 L0.68 0.14 L0.7 0.14 L0.72 0.14 L0.74 0.15 L0.76 0.15 L0.77 0.16 L0.79 0.16 L0.81 0.16 L0.83 0.16 L0.85 0.15 L0.87 0.14 L0.88 0.11 L0.9 0.09 L0.92 0.05 L0.94 -0 L0.94 -0.2Z" fill="#52e848"/><path d="M0.26 -0.2 L0.26 0 L0.28 0.01 L0.29 0.02 L0.31 0.03 L0.33 0.04 L0.34 0.05 L0.36 0.05 L0.37 0.06 L0.39 0.07 L0.41 0.07 L0.42 0.07 L0.44 0.07 L0.46 0.07 L0.47 0.07 L0.49 0.07 L0.51 0.06 L0.52 0.06 L0.54 0.06 L0.56 0.06 L0.57 0.06 L0.59 0.06 L0.6 0.06 L0.62 0.06 L0.64 0.07 L0.65 0.07 L0.67 0.07 L0.69 0.07 L0.7 0.07 L0.72 0.08 L0.74 0.08 L0.75 0.08 L0.77 0.08 L0.79 0.08 L0.8 0.08 L0.82 0.08 L0.83 0.07 L0.85 0.06 L0.87 0.04 L0.88 0.03 L0.9 -0 L0.9 -0.2Z" fill="#38e680"/><path d="M0.02 1.2 L0.02 1 L0.04 0.9 L0.06 0.83 L0.08 0.79 L0.1 0.77 L0.12 0.75 L0.14 0.73 L0.17 0.72 L0.19 0.72 L0.21 0.72 L0.23 0.73 L0.25 0.74 L0.27 0.75 L0.29 0.76 L0.31 0.77 L0.33 0.78 L0.35 0.79 L0.37 0.8 L0.39 0.8 L0.41 0.8 L0.44 0.8 L0.46 0.8 L0.48 0.8 L0.5 0.8 L0.52 0.8 L0.54 0.8 L0.56 0.8 L0.58 0.8 L0.6 0.79 L0.62 0.79 L0.64 0.78 L0.66 0.78 L0.68 0.77 L0.71 0.77 L0.73 0.79 L0.75 0.82 L0.77 0.86 L0.79 0.9 L0.81 0.95 L0.83 1 L0.83 1.2Z" fill="#fb7a1e"/><path d="M0.04 1.2 L0.04 1 L0.06 0.91 L0.08 0.84 L0.1 0.81 L0.12 0.79 L0.14 0.77 L0.15 0.76 L0.18 0.75 L0.2 0.75 L0.21 0.75 L0.24 0.76 L0.26 0.76 L0.28 0.77 L0.3 0.78 L0.32 0.79 L0.33 0.8 L0.35 0.81 L0.38 0.82 L0.4 0.82 L0.42 0.82 L0.44 0.82 L0.45 0.82 L0.47 0.82 L0.49 0.82 L0.52 0.82 L0.54 0.82 L0.56 0.82 L0.58 0.82 L0.6 0.81 L0.61 0.81 L0.64 0.8 L0.66 0.8 L0.68 0.79 L0.7 0.79 L0.72 0.81 L0.74 0.84 L0.76 0.88 L0.78 0.91 L0.8 0.95 L0.82 1 L0.82 1.2Z" fill="#f8d820"/><path d="M0.05 1.2 L0.05 1 L0.07 0.93 L0.09 0.87 L0.11 0.84 L0.13 0.83 L0.15 0.81 L0.17 0.8 L0.18 0.79 L0.2 0.79 L0.22 0.79 L0.24 0.8 L0.26 0.81 L0.28 0.81 L0.3 0.82 L0.32 0.83 L0.34 0.84 L0.36 0.85 L0.38 0.85 L0.4 0.85 L0.42 0.85 L0.43 0.85 L0.45 0.85 L0.47 0.85 L0.49 0.85 L0.51 0.85 L0.53 0.85 L0.55 0.85 L0.57 0.85 L0.59 0.85 L0.61 0.84 L0.63 0.84 L0.65 0.83 L0.67 0.83 L0.68 0.83 L0.7 0.84 L0.72 0.87 L0.74 0.9 L0.76 0.93 L0.78 0.96 L0.8 1 L0.8 1.2Z" fill="#b4ee2c"/><path d="M0.07 1.2 L0.07 1 L0.09 0.94 L0.11 0.9 L0.12 0.88 L0.14 0.86 L0.16 0.85 L0.18 0.84 L0.2 0.84 L0.22 0.84 L0.23 0.84 L0.25 0.84 L0.27 0.85 L0.29 0.85 L0.31 0.86 L0.32 0.87 L0.34 0.87 L0.36 0.88 L0.38 0.88 L0.4 0.88 L0.42 0.88 L0.43 0.88 L0.45 0.88 L0.47 0.88 L0.49 0.88 L0.51 0.88 L0.53 0.88 L0.54 0.88 L0.56 0.88 L0.58 0.88 L0.6 0.88 L0.62 0.87 L0.63 0.87 L0.65 0.87 L0.67 0.87 L0.69 0.88 L0.71 0.9 L0.73 0.92 L0.74 0.94 L0.76 0.97 L0.78 1 L0.78 1.2Z" fill="#52e848"/><path d="M0.11 1.2 L0.11 1 L0.13 0.97 L0.14 0.95 L0.16 0.94 L0.17 0.93 L0.19 0.92 L0.21 0.92 L0.22 0.92 L0.24 0.92 L0.26 0.92 L0.27 0.92 L0.29 0.92 L0.3 0.92 L0.32 0.93 L0.34 0.93 L0.35 0.93 L0.37 0.94 L0.38 0.94 L0.4 0.94 L0.42 0.94 L0.43 0.94 L0.45 0.94 L0.47 0.94 L0.48 0.94 L0.5 0.94 L0.51 0.94 L0.53 0.94 L0.55 0.94 L0.56 0.94 L0.58 0.94 L0.59 0.93 L0.61 0.93 L0.63 0.93 L0.64 0.93 L0.66 0.94 L0.68 0.95 L0.69 0.96 L0.71 0.97 L0.72 0.98 L0.74 1 L0.74 1.2Z" fill="#38e680"/></g></g></g><polygon points="102.87,623 118.27,599.3 165.17,606.5 150.07,630" fill="none" stroke="#e3959f" stroke-width="0.5"/><polygon points="102.77,599.3 118.27,574.6 165.17,581.9 150.17,606.2" fill="#f0bcc5" fill-opacity="0.5"/><defs><linearGradient id="gg10" gradientUnits="userSpaceOnUse" x1="0" y1="0" x2="1" y2="0"><stop offset="0" stop-color="#44e878"/><stop offset="0.1" stop-color="#30dcc8"/><stop offset="0.22" stop-color="#2f9cf2"/><stop offset="0.38" stop-color="#2f50ea"/><stop offset="0.5" stop-color="#2f40e6"/><stop offset="0.62" stop-color="#2f50ea"/><stop offset="0.78" stop-color="#2f9cf2"/><stop offset="0.9" stop-color="#30dcc8"/><stop offset="1" stop-color="#44e878"/></linearGradient><radialGradient id="gg11"><stop offset="0" stop-color="#2218d4" stop-opacity="1"/><stop offset="0.6" stop-color="#2a28e0" stop-opacity="0.7"/><stop offset="1" stop-color="#2f40e6" stop-opacity="0"/></radialGradient><radialGradient id="gg12"><stop offset="0" stop-color="#2218d4" stop-opacity="1"/><stop offset="0.6" stop-color="#2a28e0" stop-opacity="0.7"/><stop offset="1" stop-color="#2f40e6" stop-opacity="0"/></radialGradient><clipPath id="gc1u"><rect x="0" y="0" width="1" height="1"/></clipPath></defs><g transform="matrix(25.1 4.7 -8.2 12.5 125.47 581.4)"><g clip-path="url(#gc1u)"><g filter="url(#gblur)"><rect x="-0.2" y="-0.2" width="1.4" height="1.4" fill="url(#gg10)"/><ellipse cx="0.5" cy="0" rx="0.22" ry="0.3" fill="url(#gg11)"/><ellipse cx="0.5" cy="1" rx="0.22" ry="0.3" fill="url(#gg12)"/></g></g></g><polygon points="102.77,599.3 118.27,574.6 165.17,581.9 150.17,606.2" fill="none" stroke="#e3959f" stroke-width="0.5"/><polygon points="102.77,562.1 118.47,536.4 165.17,545.2 150.17,570.6" fill="#5ba69e"/><polyline points="102.77,562.1 150.17,570.6 165.17,545.2" fill="none" stroke="#4f9c94" stroke-width="0.6"/><line x1="102.77" y1="562.1" x2="102.87" y2="649.4" stroke="#e3959f" stroke-width="0.6"/><line x1="150.17" y1="570.6" x2="150.07" y2="657.4" stroke="#e3959f" stroke-width="0.6"/><line x1="165.17" y1="545.2" x2="165.17" y2="633.9" stroke="#e3959f" stroke-width="0.6"/>
<text x="134.27" y="678" font-family='"Liberation Sans", Arial, sans-serif' font-size="16" fill="#111" text-anchor="middle">4 GHz</text>
<polygon points="174.04,562.1 221.44,570.6 221.34,657.4 174.14,649.4" fill="#fae2e5"/><polygon points="221.44,570.6 236.44,545.2 236.44,633.9 221.34,657.4" fill="#f8e5e7"/><polygon points="174.14,649.4 189.74,626.4 236.44,633.9 221.34,657.4" fill="#8fa5a2"/><polyline points="174.14,649.4 221.34,657.4 236.44,633.9" fill="none" stroke="#5fb0a8" stroke-width="0.7"/><line x1="189.74" y1="536.4" x2="189.74" y2="626.4" stroke="#efc3c9" stroke-width="0.5"/><polygon points="174.14,623 189.54,599.3 236.44,606.5 221.34,630" fill="#f0bcc5" fill-opacity="0.5"/><defs><linearGradient id="gg16" gradientUnits="userSpaceOnUse" x1="0" y1="0" x2="0" y2="1"><stop offset="0" stop-color="#40e8b0"/><stop offset="0.08" stop-color="#58ea60"/><stop offset="0.19" stop-color="#a0ec30"/><stop offset="0.27" stop-color="#f8d820"/><stop offset="0.34" stop-color="#fb7a1e"/><stop offset="0.42" stop-color="#fb2a2a"/><stop offset="0.58" stop-color="#fb2a2a"/><stop offset="0.65" stop-color="#fb7a1e"/><stop offset="0.72" stop-color="#f8d820"/><stop offset="0.81" stop-color="#70ec48"/><stop offset="0.92" stop-color="#40e8a0"/><stop offset="1" stop-color="#30dcec"/></linearGradient><linearGradient id="gg17" gradientUnits="userSpaceOnUse" x1="0" y1="0" x2="1" y2="0"><stop offset="0" stop-color="#fb2a2a" stop-opacity="1"/><stop offset="0.05" stop-color="#fb4a22" stop-opacity="0.95"/><stop offset="0.13" stop-color="#fb8a1e" stop-opacity="0.55"/><stop offset="0.22" stop-color="#f6e822" stop-opacity="0"/><stop offset="0.8" stop-color="#f6e822" stop-opacity="0"/><stop offset="0.88" stop-color="#fb8a1e" stop-opacity="0.55"/><stop offset="0.95" stop-color="#fb4a22" stop-opacity="0.95"/><stop offset="1" stop-color="#fb2a2a" stop-opacity="1"/></linearGradient><radialGradient id="gg18"><stop offset="0" stop-color="#30dcec" stop-opacity="1"/><stop offset="0.6" stop-color="#40e8b0" stop-opacity="0.6"/><stop offset="1" stop-color="#58ea60" stop-opacity="0"/></radialGradient><radialGradient id="gg19"><stop offset="0" stop-color="#30dcec" stop-opacity="1"/><stop offset="0.6" stop-color="#40e8b0" stop-opacity="0.6"/><stop offset="1" stop-color="#58ea60" stop-opacity="0"/></radialGradient><radialGradient id="gg20"><stop offset="0" stop-color="#f6e822" stop-opacity="1"/><stop offset="0.6" stop-color="#d0ee28" stop-opacity="0.8"/><stop offset="1" stop-color="#fb8a1e" stop-opacity="0"/></radialGradient><radialGradient id="gg21"><stop offset="0" stop-color="#c0ee28" stop-opacity="1"/><stop offset="0.6" stop-color="#e0ee28" stop-opacity="0.8"/><stop offset="1" stop-color="#fb8a1e" stop-opacity="0"/></radialGradient><radialGradient id="gg22"><stop offset="0" stop-color="#f8d820" stop-opacity="1"/><stop offset="0.6" stop-color="#f8d820" stop-opacity="0.7"/><stop offset="1" stop-color="#fb8a1e" stop-opacity="0"/></radialGradient><radialGradient id="gg23"><stop offset="0" stop-color="#f8d820" stop-opacity="1"/><stop offset="0.6" stop-color="#fbb01e" stop-opacity="0.8"/><stop offset="1" stop-color="#fb8a1e" stop-opacity="0"/></radialGradient><clipPath id="gc2l"><rect x="0" y="0" width="1" height="1"/></clipPath></defs><g transform="matrix(44.1 7.6 -13.1 22.2 189.74 600.1)"><g clip-path="url(#gc2l)"><g filter="url(#gblur)"><rect x="-0.2" y="-0.2" width="1.4" height="1.4" fill="url(#gg16)"/><rect x="-0.2" y="-0.2" width="1.4" height="1.4" fill="url(#gg17)"/><ellipse cx="0.55" cy="0" rx="0.3" ry="0.1" fill="url(#gg18)"/><ellipse cx="0.45" cy="1" rx="0.2" ry="0.12" fill="url(#gg19)"/><ellipse cx="0" cy="1" rx="0.12" ry="0.2" fill="url(#gg20)"/><ellipse cx="0.02" cy="0" rx="0.14" ry="0.3" fill="url(#gg21)"/><ellipse cx="1" cy="0" rx="0.1" ry="0.2" fill="url(#gg22)"/><ellipse cx="0.98" cy="1" rx="0.14" ry="0.25" fill="url(#gg23)"/></g></g></g><polygon points="174.14,623 189.54,599.3 236.44,606.5 221.34,630" fill="none" stroke="#e3959f" stroke-width="0.5"/><polygon points="174.04,599.3 189.54,574.6 236.44,581.9 221.44,606.2" fill="#f0bcc5" fill-opacity="0.5"/><defs><linearGradient id="gg13" gradientUnits="userSpaceOnUse" x1="0" y1="0" x2="1" y2="0"><stop offset="0" stop-color="#fb2a2a"/><stop offset="0.17" stop-color="#fb2a2a"/><stop offset="0.24" stop-color="#fb7a1e"/><stop offset="0.31" stop-color="#f6e822"/><stop offset="0.42" stop-color="#a8ee30"/><stop offset="0.5" stop-color="#8cee3a"/><stop offset="0.58" stop-color="#a8ee30"/><stop offset="0.69" stop-color="#f6e822"/><stop offset="0.76" stop-color="#fb7a1e"/><stop offset="0.83" stop-color="#fb2a2a"/><stop offset="1" stop-color="#fb2a2a"/></linearGradient><radialGradient id="gg14"><stop offset="0" stop-color="#30e0e8" stop-opacity="1"/><stop offset="0.55" stop-color="#40e8a0" stop-opacity="0.95"/><stop offset="1" stop-color="#8cee3a" stop-opacity="0"/></radialGradient><radialGradient id="gg15"><stop offset="0" stop-color="#30e0e8" stop-opacity="1"/><stop offset="0.55" stop-color="#40e8a0" stop-opacity="0.95"/><stop offset="1" stop-color="#8cee3a" stop-opacity="0"/></radialGradient><clipPath id="gc2u"><rect x="0" y="0" width="1" height="1"/></clipPath></defs><g transform="matrix(25.1 4.7 -8.2 12.5 196.74 581.4)"><g clip-path="url(#gc2u)"><g filter="url(#gblur)"><rect x="-0.2" y="-0.2" width="1.4" height="1.4" fill="url(#gg13)"/><ellipse cx="0.5" cy="0" rx="0.24" ry="0.32" fill="url(#gg14)"/><ellipse cx="0.5" cy="1" rx="0.24" ry="0.32" fill="url(#gg15)"/></g></g></g><polygon points="174.04,599.3 189.54,574.6 236.44,581.9 221.44,606.2" fill="none" stroke="#e3959f" stroke-width="0.5"/><polygon points="174.04,562.1 189.74,536.4 236.44,545.2 221.44,570.6" fill="#5ba69e"/><polyline points="174.04,562.1 221.44,570.6 236.44,545.2" fill="none" stroke="#4f9c94" stroke-width="0.6"/><line x1="174.04" y1="562.1" x2="174.14" y2="649.4" stroke="#e3959f" stroke-width="0.6"/><line x1="221.44" y1="570.6" x2="221.34" y2="657.4" stroke="#e3959f" stroke-width="0.6"/><line x1="236.44" y1="545.2" x2="236.44" y2="633.9" stroke="#e3959f" stroke-width="0.6"/>
<text x="205.54" y="678" font-family='"Liberation Sans", Arial, sans-serif' font-size="16" fill="#111" text-anchor="middle">6 GHz</text>
<polygon points="245.31,562.1 292.71,570.6 292.61,657.4 245.41,649.4" fill="#fae2e5"/><polygon points="292.71,570.6 307.71,545.2 307.71,633.9 292.61,657.4" fill="#f8e5e7"/><polygon points="245.41,649.4 261.01,626.4 307.71,633.9 292.61,657.4" fill="#8fa5a2"/><polyline points="245.41,649.4 292.61,657.4 307.71,633.9" fill="none" stroke="#5fb0a8" stroke-width="0.7"/><line x1="261.01" y1="536.4" x2="261.01" y2="626.4" stroke="#efc3c9" stroke-width="0.5"/><polygon points="245.41,623 260.81,599.3 307.71,606.5 292.61,630" fill="#f0bcc5" fill-opacity="0.5"/><defs><linearGradient id="gg26" gradientUnits="userSpaceOnUse" x1="0" y1="0" x2="0" y2="1"><stop offset="0" stop-color="#3560f0"/><stop offset="0.06" stop-color="#30b0f2"/><stop offset="0.14" stop-color="#30e0c0"/><stop offset="0.26" stop-color="#50ea50"/><stop offset="0.4" stop-color="#c0ee28"/><stop offset="0.5" stop-color="#e4ec26"/><stop offset="0.6" stop-color="#b0ee2c"/><stop offset="0.74" stop-color="#48e860"/><stop offset="0.86" stop-color="#30dcd0"/><stop offset="0.94" stop-color="#30a0f2"/><stop offset="1" stop-color="#3560f0"/></linearGradient><radialGradient id="gg27"><stop offset="0" stop-color="#fbd81e" stop-opacity="1"/><stop offset="0.6" stop-color="#f4e624" stop-opacity="0.8"/><stop offset="1" stop-color="#e4ec26" stop-opacity="0"/></radialGradient><radialGradient id="gg28"><stop offset="0" stop-color="#60ea50" stop-opacity="1"/><stop offset="1" stop-color="#a0ee30" stop-opacity="0"/></radialGradient><radialGradient id="gg29"><stop offset="0" stop-color="#3038e6" stop-opacity="1"/><stop offset="1" stop-color="#3070f0" stop-opacity="0"/></radialGradient><radialGradient id="gg30"><stop offset="0" stop-color="#3038e6" stop-opacity="1"/><stop offset="1" stop-color="#3070f0" stop-opacity="0"/></radialGradient><radialGradient id="gg31"><stop offset="0" stop-color="#3048e8" stop-opacity="1"/><stop offset="1" stop-color="#3070f0" stop-opacity="0"/></radialGradient><radialGradient id="gg32"><stop offset="0" stop-color="#3048e8" stop-opacity="1"/><stop offset="1" stop-color="#3070f0" stop-opacity="0"/></radialGradient><clipPath id="gc3l"><rect x="0" y="0" width="1" height="1"/></clipPath></defs><g transform="matrix(44.1 7.6 -13.1 22.2 261.01 600.1)"><g clip-path="url(#gc3l)"><g filter="url(#gblur)"><rect x="-0.2" y="-0.2" width="1.4" height="1.4" fill="url(#gg26)"/><ellipse cx="0.12" cy="0.45" rx="0.32" ry="0.22" fill="url(#gg27)"/><ellipse cx="0.95" cy="0.5" rx="0.16" ry="0.4" fill="url(#gg28)"/><ellipse cx="0.3" cy="0" rx="0.12" ry="0.12" fill="url(#gg29)"/><ellipse cx="0.88" cy="0" rx="0.12" ry="0.14" fill="url(#gg30)"/><ellipse cx="0.2" cy="1" rx="0.14" ry="0.12" fill="url(#gg31)"/><ellipse cx="0.7" cy="1" rx="0.14" ry="0.12" fill="url(#gg32)"/></g></g></g><polygon points="245.41,623 260.81,599.3 307.71,606.5 292.61,630" fill="none" stroke="#e3959f" stroke-width="0.5"/><polygon points="245.31,599.3 260.81,574.6 307.71,581.9 292.71,606.2" fill="#f0bcc5" fill-opacity="0.5"/><defs><radialGradient id="gg24"><stop offset="0" stop-color="#f6e822" stop-opacity="1"/><stop offset="0.6" stop-color="#fbb01e" stop-opacity="0.9"/><stop offset="1" stop-color="#fb2a2a" stop-opacity="0"/></radialGradient><radialGradient id="gg25"><stop offset="0" stop-color="#f6e822" stop-opacity="1"/><stop offset="0.6" stop-color="#fbb01e" stop-opacity="0.9"/><stop offset="1" stop-color="#fb2a2a" stop-opacity="0"/></radialGradient><clipPath id="gc3u"><rect x="0" y="0" width="1" height="1"/></clipPath></defs><g transform="matrix(25.1 4.7 -8.2 12.5 268.01 581.4)"><g clip-path="url(#gc3u)"><g filter="url(#gblur)"><rect x="-0.2" y="-0.2" width="1.4" height="1.4" fill="#fb2a2a"/><ellipse cx="0.5" cy="0" rx="0.07" ry="0.09" fill="url(#gg24)"/><ellipse cx="0.5" cy="1" rx="0.07" ry="0.09" fill="url(#gg25)"/></g></g></g><polygon points="245.31,599.3 260.81,574.6 307.71,581.9 292.71,606.2" fill="none" stroke="#e3959f" stroke-width="0.5"/><polygon points="245.31,562.1 261.01,536.4 307.71,545.2 292.71,570.6" fill="#5ba69e"/><polyline points="245.31,562.1 292.71,570.6 307.71,545.2" fill="none" stroke="#4f9c94" stroke-width="0.6"/><line x1="245.31" y1="562.1" x2="245.41" y2="649.4" stroke="#e3959f" stroke-width="0.6"/><line x1="292.71" y1="570.6" x2="292.61" y2="657.4" stroke="#e3959f" stroke-width="0.6"/><line x1="307.71" y1="545.2" x2="307.71" y2="633.9" stroke="#e3959f" stroke-width="0.6"/>
<text x="276.81" y="678" font-family='"Liberation Sans", Arial, sans-serif' font-size="16" fill="#111" text-anchor="middle">8 GHz</text>
<polygon points="316.58,562.1 363.98,570.6 363.88,657.4 316.68,649.4" fill="#fae2e5"/><polygon points="363.98,570.6 378.98,545.2 378.98,633.9 363.88,657.4" fill="#f8e5e7"/><polygon points="316.68,649.4 332.28,626.4 378.98,633.9 363.88,657.4" fill="#8fa5a2"/><polyline points="316.68,649.4 363.88,657.4 378.98,633.9" fill="none" stroke="#5fb0a8" stroke-width="0.7"/><line x1="332.28" y1="536.4" x2="332.28" y2="626.4" stroke="#efc3c9" stroke-width="0.5"/><polygon points="316.68,623 332.08,599.3 378.98,606.5 363.88,630" fill="#f0bcc5" fill-opacity="0.5"/><defs><linearGradient id="gg33" gradientUnits="userSpaceOnUse" x1="0" y1="0" x2="0" y2="1"><stop offset="0" stop-color="#3030e2"/><stop offset="0.07" stop-color="#3060ee"/><stop offset="0.18" stop-color="#30c0f2"/><stop offset="0.3" stop-color="#30e4c0"/><stop offset="0.42" stop-color="#40ea60"/><stop offset="0.5" stop-color="#48ec40"/><stop offset="0.6" stop-color="#38e890"/><stop offset="0.72" stop-color="#30d8e8"/><stop offset="0.84" stop-color="#3070f0"/><stop offset="0.93" stop-color="#3038e4"/><stop offset="1" stop-color="#3030e2"/></linearGradient><radialGradient id="gg34"><stop offset="0" stop-color="#54ee30" stop-opacity="1"/><stop offset="1" stop-color="#48ec40" stop-opacity="0"/></radialGradient><radialGradient id="gg35"><stop offset="0" stop-color="#30c8f2" stop-opacity="1"/><stop offset="1" stop-color="#30c0f2" stop-opacity="0"/></radialGradient><radialGradient id="gg36"><stop offset="0" stop-color="#3028e0" stop-opacity="1"/><stop offset="1" stop-color="#3060ee" stop-opacity="0"/></radialGradient><radialGradient id="gg37"><stop offset="0" stop-color="#3028e0" stop-opacity="1"/><stop offset="1" stop-color="#3060ee" stop-opacity="0"/></radialGradient><clipPath id="gc4l"><rect x="0" y="0" width="1" height="1"/></clipPath></defs><g transform="matrix(44.1 7.6 -13.1 22.2 332.28 600.1)"><g clip-path="url(#gc4l)"><g filter="url(#gblur)"><rect x="-0.2" y="-0.2" width="1.4" height="1.4" fill="url(#gg33)"/><ellipse cx="0.12" cy="0.45" rx="0.3" ry="0.22" fill="url(#gg34)"/><ellipse cx="0.1" cy="0" rx="0.2" ry="0.14" fill="url(#gg35)"/><ellipse cx="0.55" cy="0.04" rx="0.2" ry="0.16" fill="url(#gg36)"/><ellipse cx="0.5" cy="0.98" rx="0.3" ry="0.16" fill="url(#gg37)"/></g></g></g><polygon points="316.68,623 332.08,599.3 378.98,606.5 363.88,630" fill="none" stroke="#e3959f" stroke-width="0.5"/><polygon points="316.58,599.3 332.08,574.6 378.98,581.9 363.98,606.2" fill="#f0bcc5" fill-opacity="0.5"/><defs><clipPath id="gc4u"><rect x="0" y="0" width="1" height="1"/></clipPath></defs><g transform="matrix(25.1 4.7 -8.2 12.5 339.28 581.4)"><g clip-path="url(#gc4u)"><g filter="url(#gblur)"><rect x="-0.2" y="-0.2" width="1.4" height="1.4" fill="#fb2a2a"/></g></g></g><polygon points="316.58,599.3 332.08,574.6 378.98,581.9 363.98,606.2" fill="none" stroke="#e3959f" stroke-width="0.5"/><polygon points="316.58,562.1 332.28,536.4 378.98,545.2 363.98,570.6" fill="#5ba69e"/><polyline points="316.58,562.1 363.98,570.6 378.98,545.2" fill="none" stroke="#4f9c94" stroke-width="0.6"/><line x1="316.58" y1="562.1" x2="316.68" y2="649.4" stroke="#e3959f" stroke-width="0.6"/><line x1="363.98" y1="570.6" x2="363.88" y2="657.4" stroke="#e3959f" stroke-width="0.6"/><line x1="378.98" y1="545.2" x2="378.98" y2="633.9" stroke="#e3959f" stroke-width="0.6"/>
<text x="348.08" y="678" font-family='"Liberation Sans", Arial, sans-serif' font-size="16" fill="#111" text-anchor="middle">10 GHz</text>
<polygon points="387.85,562.1 435.25,570.6 435.15,657.4 387.95,649.4" fill="#fae2e5"/><polygon points="435.25,570.6 450.25,545.2 450.25,633.9 435.15,657.4" fill="#f8e5e7"/><polygon points="387.95,649.4 403.55,626.4 450.25,633.9 435.15,657.4" fill="#8fa5a2"/><polyline points="387.95,649.4 435.15,657.4 450.25,633.9" fill="none" stroke="#5fb0a8" stroke-width="0.7"/><line x1="403.55" y1="536.4" x2="403.55" y2="626.4" stroke="#efc3c9" stroke-width="0.5"/><polygon points="387.95,623 403.35,599.3 450.25,606.5 435.15,630" fill="#f0bcc5" fill-opacity="0.5"/><defs><linearGradient id="gg38" gradientUnits="userSpaceOnUse" x1="0" y1="0" x2="0" y2="1"><stop offset="0" stop-color="#3328e0"/><stop offset="0.12" stop-color="#3040e8"/><stop offset="0.28" stop-color="#3070f0"/><stop offset="0.4" stop-color="#30b0f2"/><stop offset="0.5" stop-color="#30dcec"/><stop offset="0.6" stop-color="#30a0f2"/><stop offset="0.72" stop-color="#3060ee"/><stop offset="0.86" stop-color="#3030e2"/><stop offset="1" stop-color="#3328e0"/></linearGradient><radialGradient id="gg39"><stop offset="0" stop-color="#3cecd8" stop-opacity="1"/><stop offset="1" stop-color="#30dcec" stop-opacity="0"/></radialGradient><radialGradient id="gg40"><stop offset="0" stop-color="#3070f0" stop-opacity="0.9"/><stop offset="1" stop-color="#3070f0" stop-opacity="0"/></radialGradient><clipPath id="gc5l"><rect x="0" y="0" width="1" height="1"/></clipPath></defs><g transform="matrix(44.1 7.6 -13.1 22.2 403.55 600.1)"><g clip-path="url(#gc5l)"><g filter="url(#gblur)"><rect x="-0.2" y="-0.2" width="1.4" height="1.4" fill="url(#gg38)"/><ellipse cx="0.12" cy="0.47" rx="0.36" ry="0.15" fill="url(#gg39)"/><ellipse cx="0.9" cy="0.55" rx="0.2" ry="0.3" fill="url(#gg40)"/></g></g></g><polygon points="387.95,623 403.35,599.3 450.25,606.5 435.15,630" fill="none" stroke="#e3959f" stroke-width="0.5"/><polygon points="387.85,599.3 403.35,574.6 450.25,581.9 435.25,606.2" fill="#f0bcc5" fill-opacity="0.5"/><defs><clipPath id="gc5u"><rect x="0" y="0" width="1" height="1"/></clipPath></defs><g transform="matrix(25.1 4.7 -8.2 12.5 410.55 581.4)"><g clip-path="url(#gc5u)"><g filter="url(#gblur)"><rect x="-0.2" y="-0.2" width="1.4" height="1.4" fill="#fb2a2a"/></g></g></g><polygon points="387.85,599.3 403.35,574.6 450.25,581.9 435.25,606.2" fill="none" stroke="#e3959f" stroke-width="0.5"/><polygon points="387.85,562.1 403.55,536.4 450.25,545.2 435.25,570.6" fill="#5ba69e"/><polyline points="387.85,562.1 435.25,570.6 450.25,545.2" fill="none" stroke="#4f9c94" stroke-width="0.6"/><line x1="387.85" y1="562.1" x2="387.95" y2="649.4" stroke="#e3959f" stroke-width="0.6"/><line x1="435.25" y1="570.6" x2="435.15" y2="657.4" stroke="#e3959f" stroke-width="0.6"/><line x1="450.25" y1="545.2" x2="450.25" y2="633.9" stroke="#e3959f" stroke-width="0.6"/>
<text x="419.35" y="678" font-family='"Liberation Sans", Arial, sans-serif' font-size="16" fill="#111" text-anchor="middle">12 GHz</text>
<!-- panel_h -->
<text x="444" y="521.8" font-family='"Liberation Sans", Arial, sans-serif' font-size="21" font-weight="bold">h</text>
<defs><linearGradient id="hb" x1="0" y1="0" x2="0" y2="1"><stop offset="0" stop-color="#ddeefd"/><stop offset="1" stop-color="#f8fbff" stop-opacity="0.5"/></linearGradient><linearGradient id="ho" x1="0" y1="0" x2="0" y2="1"><stop offset="0" stop-color="#fde8cf"/><stop offset="1" stop-color="#fffbf6" stop-opacity="0.5"/></linearGradient></defs>
<path d="M490.9 531.36 L491.45 531.39 L492.01 531.42 L492.56 531.47 L493.11 531.53 L493.66 531.59 L494.22 531.67 L494.77 531.75 L495.32 531.83 L495.88 531.93 L496.43 532.03 L496.98 532.13 L497.53 532.24 L498.09 532.35 L498.64 532.46 L499.19 532.57 L499.75 532.7 L500.3 532.84 L500.85 533 L501.4 533.17 L501.96 533.36 L502.51 533.56 L503.06 533.76 L503.62 533.98 L504.17 534.2 L504.72 534.43 L505.27 534.66 L505.83 534.9 L506.38 535.14 L506.93 535.37 L507.49 535.61 L508.04 535.85 L508.59 536.1 L509.14 536.35 L509.7 536.62 L510.25 536.88 L510.8 537.16 L511.36 537.44 L511.91 537.73 L512.46 538.02 L513.01 538.31 L513.57 538.62 L514.12 538.92 L514.67 539.23 L515.23 539.54 L515.78 539.86 L516.33 540.18 L516.88 540.51 L517.44 540.84 L517.99 541.18 L518.54 541.52 L519.09 541.87 L519.65 542.23 L520.2 542.59 L520.75 542.96 L521.31 543.34 L521.86 543.72 L522.41 544.11 L522.96 544.51 L523.52 544.92 L524.07 545.33 L524.62 545.76 L525.18 546.2 L525.73 546.65 L526.28 547.12 L526.83 547.59 L527.39 548.08 L527.94 548.57 L528.49 549.07 L529.05 549.57 L529.6 550.08 L530.15 550.59 L530.7 551.1 L531.26 551.61 L531.81 552.11 L532.36 552.62 L532.92 553.13 L533.47 553.64 L534.02 554.16 L534.57 554.68 L535.13 555.2 L535.68 555.73 L536.23 556.26 L536.79 556.79 L537.34 557.32 L537.89 557.85 L538.44 558.38 L539 558.92 L539.55 559.45 L540.1 559.97 L540.66 560.5 L541.21 561.03 L541.76 561.56 L542.31 562.1 L542.87 562.64 L543.42 563.18 L543.97 563.72 L544.53 564.25 L545.08 564.79 L545.63 565.32 L546.18 565.85 L546.74 566.36 L547.29 566.88 L547.84 567.38 L548.4 567.87 L548.95 568.36 L549.5 568.84 L550.05 569.31 L550.61 569.78 L551.16 570.24 L551.71 570.7 L552.27 571.16 L552.82 571.61 L553.37 572.05 L553.92 572.49 L554.48 572.92 L555.03 573.35 L555.58 573.77 L556.14 574.18 L556.69 574.59 L557.24 574.99 L557.79 575.39 L558.35 575.78 L558.9 576.17 L559.45 576.55 L560.01 576.93 L560.56 577.3 L561.11 577.67 L561.66 578.04 L562.22 578.39 L562.77 578.75 L563.32 579.09 L563.88 579.43 L564.43 579.76 L564.98 580.09 L565.53 580.41 L566.09 580.72 L566.64 581.03 L567.19 581.33 L567.75 581.62 L568.3 581.91 L568.85 582.2 L569.4 582.48 L569.96 582.76 L570.51 583.03 L571.06 583.3 L571.62 583.57 L572.17 583.83 L572.72 584.1 L573.27 584.36 L573.83 584.62 L574.38 584.89 L574.93 585.15 L575.48 585.41 L576.04 585.68 L576.59 585.94 L577.14 586.2 L577.7 586.45 L578.25 586.7 L578.8 586.94 L579.35 587.18 L579.91 587.41 L580.46 587.62 L581.01 587.83 L581.57 588.03 L582.12 588.21 L582.67 588.39 L583.22 588.55 L583.78 588.7 L584.33 588.85 L584.88 589 L585.44 589.14 L585.99 589.28 L586.54 589.42 L587.09 589.56 L587.65 589.71 L588.2 589.86 L588.75 590.02 L589.31 590.18 L589.86 590.34 L590.41 590.51 L590.96 590.68 L591.52 590.84 L592.07 591.01 L592.62 591.18 L593.18 591.36 L593.73 591.53 L594.28 591.7 L594.83 591.87 L595.39 592.04 L595.94 592.21 L596.49 592.38 L597.05 592.55 L597.6 592.72 L598.15 592.89 L598.7 593.05 L599.26 593.21 L599.81 593.37 L600.36 593.53 L600.92 593.68 L601.47 593.84 L602.02 594 L602.57 594.15 L603.13 594.31 L603.68 594.47 L604.23 594.63 L604.79 594.79 L605.34 594.96 L605.89 595.13 L606.44 595.31 L607 595.48 L607.55 595.67 L608.1 595.85 L608.66 596.04 L609.21 596.22 L609.76 596.42 L610.31 596.61 L610.87 596.81 L611.42 597.01 L611.97 597.22 L612.53 597.43 L613.08 597.64 L613.63 597.86 L614.18 598.09 L614.74 598.32 L615.29 598.55 L615.84 598.79 L616.4 599.04 L616.95 599.29 L617.5 599.54 L618.05 599.8 L618.61 600.07 L619.16 600.34 L619.71 600.62 L620.27 600.91 L620.82 601.21 L621.37 601.53 L621.92 601.85 L622.48 602.18 L623.03 602.53 L623.58 602.9 L624.14 603.28 L624.69 603.67 L625.24 604.09 L625.79 604.52 L626.35 604.97 L626.9 605.44 L627.45 605.92 L628.01 606.42 L628.56 606.94 L629.11 607.47 L629.66 608.02 L630.22 608.58 L630.77 609.16 L631.32 609.76 L631.87 610.38 L632.43 611.03 L632.98 611.71 L633.53 612.42 L634.09 613.16 L634.64 613.92 L635.19 614.72 L635.74 615.53 L636.3 616.37 L636.85 617.23 L637.4 618.12 L637.96 619.02 L638.51 619.94 L639.06 620.88 L639.61 621.83 L640.17 622.82 L640.72 623.88 L641.27 625 L641.83 626.16 L642.38 627.35 L642.93 628.55 L643.48 629.75 L644.04 630.94 L644.59 632.11 L645.14 633.27 L645.7 634.46 L646.25 635.67 L646.8 636.88 L647.35 638.08 L647.91 639.24 L648.46 640.36 L649.01 641.43 L649.57 642.41 L650.12 643.36 L650.67 644.29 L651.22 645.19 L651.78 646.05 L652.33 646.85 L652.88 647.57 L653.44 648.2 L653.99 648.74 L654.54 649.22 L655.09 649.64 L655.65 650.01 L656.2 650.3 L656.2 650.3 L490.9 650.3Z" fill="url(#hb)" stroke="none"/>
<path d="M490.9 649.09 L491.45 648.46 L492.01 648.43 L492.56 648.38 L493.11 648.32 L493.66 648.26 L494.22 648.18 L494.77 648.1 L495.32 648.02 L495.88 647.92 L496.43 647.82 L496.98 647.72 L497.53 647.61 L498.09 647.5 L498.64 647.39 L499.19 647.28 L499.75 647.15 L500.3 647.01 L500.85 646.85 L501.4 646.68 L501.96 646.49 L502.51 646.29 L503.06 646.09 L503.62 645.87 L504.17 645.65 L504.72 645.42 L505.27 645.19 L505.83 644.95 L506.38 644.71 L506.93 644.48 L507.49 644.24 L508.04 644 L508.59 643.75 L509.14 643.5 L509.7 643.23 L510.25 642.97 L510.8 642.69 L511.36 642.41 L511.91 642.12 L512.46 641.83 L513.01 641.54 L513.57 641.23 L514.12 640.93 L514.67 640.62 L515.23 640.31 L515.78 639.99 L516.33 639.67 L516.88 639.34 L517.44 639.01 L517.99 638.67 L518.54 638.33 L519.09 637.98 L519.65 637.62 L520.2 637.26 L520.75 636.89 L521.31 636.51 L521.86 636.13 L522.41 635.74 L522.96 635.34 L523.52 634.93 L524.07 634.52 L524.62 634.09 L525.18 633.65 L525.73 633.2 L526.28 632.73 L526.83 632.26 L527.39 631.77 L527.94 631.28 L528.49 630.78 L529.05 630.28 L529.6 629.77 L530.15 629.26 L530.7 628.75 L531.26 628.24 L531.81 627.74 L532.36 627.23 L532.92 626.72 L533.47 626.21 L534.02 625.69 L534.57 625.17 L535.13 624.65 L535.68 624.12 L536.23 623.59 L536.79 623.06 L537.34 622.53 L537.89 622 L538.44 621.47 L539 620.93 L539.55 620.4 L540.1 619.88 L540.66 619.35 L541.21 618.82 L541.76 618.29 L542.31 617.75 L542.87 617.21 L543.42 616.67 L543.97 616.13 L544.53 615.6 L545.08 615.06 L545.63 614.53 L546.18 614 L546.74 613.49 L547.29 612.97 L547.84 612.47 L548.4 611.98 L548.95 611.49 L549.5 611.01 L550.05 610.54 L550.61 610.07 L551.16 609.61 L551.71 609.15 L552.27 608.69 L552.82 608.24 L553.37 607.8 L553.92 607.36 L554.48 606.93 L555.03 606.5 L555.58 606.08 L556.14 605.67 L556.69 605.26 L557.24 604.86 L557.79 604.46 L558.35 604.07 L558.9 603.68 L559.45 603.3 L560.01 602.92 L560.56 602.55 L561.11 602.18 L561.66 601.81 L562.22 601.46 L562.77 601.1 L563.32 600.76 L563.88 600.42 L564.43 600.09 L564.98 599.76 L565.53 599.44 L566.09 599.13 L566.64 598.82 L567.19 598.52 L567.75 598.23 L568.3 597.94 L568.85 597.65 L569.4 597.37 L569.96 597.09 L570.51 596.82 L571.06 596.55 L571.62 596.28 L572.17 596.02 L572.72 595.75 L573.27 595.49 L573.83 595.23 L574.38 594.96 L574.93 594.7 L575.48 594.44 L576.04 594.17 L576.59 593.91 L577.14 593.65 L577.7 593.4 L578.25 593.15 L578.8 592.91 L579.35 592.67 L579.91 592.44 L580.46 592.23 L581.01 592.02 L581.57 591.82 L582.12 591.64 L582.67 591.46 L583.22 591.3 L583.78 591.15 L584.33 591 L584.88 590.85 L585.44 590.71 L585.99 590.57 L586.54 590.43 L587.09 590.29 L587.65 590.14 L588.2 589.99 L588.75 589.83 L589.31 589.67 L589.86 589.51 L590.41 589.34 L590.96 589.17 L591.52 589.01 L592.07 588.84 L592.62 588.67 L593.18 588.49 L593.73 588.32 L594.28 588.15 L594.83 587.98 L595.39 587.81 L595.94 587.64 L596.49 587.47 L597.05 587.3 L597.6 587.13 L598.15 586.96 L598.7 586.8 L599.26 586.64 L599.81 586.48 L600.36 586.32 L600.92 586.17 L601.47 586.01 L602.02 585.85 L602.57 585.7 L603.13 585.54 L603.68 585.38 L604.23 585.22 L604.79 585.06 L605.34 584.89 L605.89 584.72 L606.44 584.54 L607 584.37 L607.55 584.18 L608.1 584 L608.66 583.81 L609.21 583.63 L609.76 583.43 L610.31 583.24 L610.87 583.04 L611.42 582.84 L611.97 582.63 L612.53 582.42 L613.08 582.21 L613.63 581.99 L614.18 581.76 L614.74 581.53 L615.29 581.3 L615.84 581.06 L616.4 580.81 L616.95 580.56 L617.5 580.31 L618.05 580.05 L618.61 579.78 L619.16 579.51 L619.71 579.23 L620.27 578.94 L620.82 578.64 L621.37 578.32 L621.92 578 L622.48 577.67 L623.03 577.32 L623.58 576.95 L624.14 576.57 L624.69 576.18 L625.24 575.76 L625.79 575.33 L626.35 574.88 L626.9 574.41 L627.45 573.93 L628.01 573.43 L628.56 572.91 L629.11 572.38 L629.66 571.83 L630.22 571.27 L630.77 570.69 L631.32 570.09 L631.87 569.47 L632.43 568.82 L632.98 568.14 L633.53 567.43 L634.09 566.69 L634.64 565.93 L635.19 565.13 L635.74 564.32 L636.3 563.48 L636.85 562.62 L637.4 561.73 L637.96 560.83 L638.51 559.91 L639.06 558.97 L639.61 558.02 L640.17 557.03 L640.72 555.97 L641.27 554.85 L641.83 553.69 L642.38 552.5 L642.93 551.3 L643.48 550.1 L644.04 548.91 L644.59 547.74 L645.14 546.58 L645.7 545.39 L646.25 544.18 L646.8 542.97 L647.35 541.77 L647.91 540.61 L648.46 539.49 L649.01 538.42 L649.57 537.44 L650.12 536.49 L650.67 535.56 L651.22 534.66 L651.78 533.8 L652.33 533 L652.88 532.28 L653.44 531.65 L653.99 531.11 L654.54 530.63 L655.09 530.21 L655.65 529.84 L656.2 529.55 L656.2 650.3 L490.9 650.3Z" fill="url(#ho)" stroke="none"/>
<path d="M491.5 650.3 L491.5 531.36 L491.45 531.39 L492.01 531.42 L492.56 531.47 L493.11 531.53 L493.66 531.59 L494.22 531.67 L494.77 531.75 L495.32 531.83 L495.88 531.93 L496.43 532.03 L496.98 532.13 L497.53 532.24 L498.09 532.35 L498.64 532.46 L499.19 532.57 L499.75 532.7 L500.3 532.84 L500.85 533 L501.4 533.17 L501.96 533.36 L502.51 533.56 L503.06 533.76 L503.62 533.98 L504.17 534.2 L504.72 534.43 L505.27 534.66 L505.83 534.9 L506.38 535.14 L506.93 535.37 L507.49 535.61 L508.04 535.85 L508.59 536.1 L509.14 536.35 L509.7 536.62 L510.25 536.88 L510.8 537.16 L511.36 537.44 L511.91 537.73 L512.46 538.02 L513.01 538.31 L513.57 538.62 L514.12 538.92 L514.67 539.23 L515.23 539.54 L515.78 539.86 L516.33 540.18 L516.88 540.51 L517.44 540.84 L517.99 541.18 L518.54 541.52 L519.09 541.87 L519.65 542.23 L520.2 542.59 L520.75 542.96 L521.31 543.34 L521.86 543.72 L522.41 544.11 L522.96 544.51 L523.52 544.92 L524.07 545.33 L524.62 545.76 L525.18 546.2 L525.73 546.65 L526.28 547.12 L526.83 547.59 L527.39 548.08 L527.94 548.57 L528.49 549.07 L529.05 549.57 L529.6 550.08 L530.15 550.59 L530.7 551.1 L531.26 551.61 L531.81 552.11 L532.36 552.62 L532.92 553.13 L533.47 553.64 L534.02 554.16 L534.57 554.68 L535.13 555.2 L535.68 555.73 L536.23 556.26 L536.79 556.79 L537.34 557.32 L537.89 557.85 L538.44 558.38 L539 558.92 L539.55 559.45 L540.1 559.97 L540.66 560.5 L541.21 561.03 L541.76 561.56 L542.31 562.1 L542.87 562.64 L543.42 563.18 L543.97 563.72 L544.53 564.25 L545.08 564.79 L545.63 565.32 L546.18 565.85 L546.74 566.36 L547.29 566.88 L547.84 567.38 L548.4 567.87 L548.95 568.36 L549.5 568.84 L550.05 569.31 L550.61 569.78 L551.16 570.24 L551.71 570.7 L552.27 571.16 L552.82 571.61 L553.37 572.05 L553.92 572.49 L554.48 572.92 L555.03 573.35 L555.58 573.77 L556.14 574.18 L556.69 574.59 L557.24 574.99 L557.79 575.39 L558.35 575.78 L558.9 576.17 L559.45 576.55 L560.01 576.93 L560.56 577.3 L561.11 577.67 L561.66 578.04 L562.22 578.39 L562.77 578.75 L563.32 579.09 L563.88 579.43 L564.43 579.76 L564.98 580.09 L565.53 580.41 L566.09 580.72 L566.64 581.03 L567.19 581.33 L567.75 581.62 L568.3 581.91 L568.85 582.2 L569.4 582.48 L569.96 582.76 L570.51 583.03 L571.06 583.3 L571.62 583.57 L572.17 583.83 L572.72 584.1 L573.27 584.36 L573.83 584.62 L574.38 584.89 L574.93 585.15 L575.48 585.41 L576.04 585.68 L576.59 585.94 L577.14 586.2 L577.7 586.45 L578.25 586.7 L578.8 586.94 L579.35 587.18 L579.91 587.41 L580.46 587.62 L581.01 587.83 L581.57 588.03 L582.12 588.21 L582.67 588.39 L583.22 588.55 L583.78 588.7 L584.33 588.85 L584.88 589 L585.44 589.14 L585.99 589.28 L586.54 589.42 L587.09 589.56 L587.65 589.71 L588.2 589.86 L588.75 590.02 L589.31 590.18 L589.86 590.34 L590.41 590.51 L590.96 590.68 L591.52 590.84 L592.07 591.01 L592.62 591.18 L593.18 591.36 L593.73 591.53 L594.28 591.7 L594.83 591.87 L595.39 592.04 L595.94 592.21 L596.49 592.38 L597.05 592.55 L597.6 592.72 L598.15 592.89 L598.7 593.05 L599.26 593.21 L599.81 593.37 L600.36 593.53 L600.92 593.68 L601.47 593.84 L602.02 594 L602.57 594.15 L603.13 594.31 L603.68 594.47 L604.23 594.63 L604.79 594.79 L605.34 594.96 L605.89 595.13 L606.44 595.31 L607 595.48 L607.55 595.67 L608.1 595.85 L608.66 596.04 L609.21 596.22 L609.76 596.42 L610.31 596.61 L610.87 596.81 L611.42 597.01 L611.97 597.22 L612.53 597.43 L613.08 597.64 L613.63 597.86 L614.18 598.09 L614.74 598.32 L615.29 598.55 L615.84 598.79 L616.4 599.04 L616.95 599.29 L617.5 599.54 L618.05 599.8 L618.61 600.07 L619.16 600.34 L619.71 600.62 L620.27 600.91 L620.82 601.21 L621.37 601.53 L621.92 601.85 L622.48 602.18 L623.03 602.53 L623.58 602.9 L624.14 603.28 L624.69 603.67 L625.24 604.09 L625.79 604.52 L626.35 604.97 L626.9 605.44 L627.45 605.92 L628.01 606.42 L628.56 606.94 L629.11 607.47 L629.66 608.02 L630.22 608.58 L630.77 609.16 L631.32 609.76 L631.87 610.38 L632.43 611.03 L632.98 611.71 L633.53 612.42 L634.09 613.16 L634.64 613.92 L635.19 614.72 L635.74 615.53 L636.3 616.37 L636.85 617.23 L637.4 618.12 L637.96 619.02 L638.51 619.94 L639.06 620.88 L639.61 621.83 L640.17 622.82 L640.72 623.88 L641.27 625 L641.83 626.16 L642.38 627.35 L642.93 628.55 L643.48 629.75 L644.04 630.94 L644.59 632.11 L645.14 633.27 L645.7 634.46 L646.25 635.67 L646.8 636.88 L647.35 638.08 L647.91 639.24 L648.46 640.36 L649.01 641.43 L649.57 642.41 L650.12 643.36 L650.67 644.29 L651.22 645.19 L651.78 646.05 L652.33 646.85 L652.88 647.57 L653.44 648.2 L653.99 648.74 L654.54 649.22 L655.09 649.64 L655.65 650.01 L656.2 650.3" fill="none" stroke="#74c2f8" stroke-width="1.1" stroke-linejoin="round"/>
<path d="M490.9 649.09 L491.45 648.46 L492.01 648.43 L492.56 648.38 L493.11 648.32 L493.66 648.26 L494.22 648.18 L494.77 648.1 L495.32 648.02 L495.88 647.92 L496.43 647.82 L496.98 647.72 L497.53 647.61 L498.09 647.5 L498.64 647.39 L499.19 647.28 L499.75 647.15 L500.3 647.01 L500.85 646.85 L501.4 646.68 L501.96 646.49 L502.51 646.29 L503.06 646.09 L503.62 645.87 L504.17 645.65 L504.72 645.42 L505.27 645.19 L505.83 644.95 L506.38 644.71 L506.93 644.48 L507.49 644.24 L508.04 644 L508.59 643.75 L509.14 643.5 L509.7 643.23 L510.25 642.97 L510.8 642.69 L511.36 642.41 L511.91 642.12 L512.46 641.83 L513.01 641.54 L513.57 641.23 L514.12 640.93 L514.67 640.62 L515.23 640.31 L515.78 639.99 L516.33 639.67 L516.88 639.34 L517.44 639.01 L517.99 638.67 L518.54 638.33 L519.09 637.98 L519.65 637.62 L520.2 637.26 L520.75 636.89 L521.31 636.51 L521.86 636.13 L522.41 635.74 L522.96 635.34 L523.52 634.93 L524.07 634.52 L524.62 634.09 L525.18 633.65 L525.73 633.2 L526.28 632.73 L526.83 632.26 L527.39 631.77 L527.94 631.28 L528.49 630.78 L529.05 630.28 L529.6 629.77 L530.15 629.26 L530.7 628.75 L531.26 628.24 L531.81 627.74 L532.36 627.23 L532.92 626.72 L533.47 626.21 L534.02 625.69 L534.57 625.17 L535.13 624.65 L535.68 624.12 L536.23 623.59 L536.79 623.06 L537.34 622.53 L537.89 622 L538.44 621.47 L539 620.93 L539.55 620.4 L540.1 619.88 L540.66 619.35 L541.21 618.82 L541.76 618.29 L542.31 617.75 L542.87 617.21 L543.42 616.67 L543.97 616.13 L544.53 615.6 L545.08 615.06 L545.63 614.53 L546.18 614 L546.74 613.49 L547.29 612.97 L547.84 612.47 L548.4 611.98 L548.95 611.49 L549.5 611.01 L550.05 610.54 L550.61 610.07 L551.16 609.61 L551.71 609.15 L552.27 608.69 L552.82 608.24 L553.37 607.8 L553.92 607.36 L554.48 606.93 L555.03 606.5 L555.58 606.08 L556.14 605.67 L556.69 605.26 L557.24 604.86 L557.79 604.46 L558.35 604.07 L558.9 603.68 L559.45 603.3 L560.01 602.92 L560.56 602.55 L561.11 602.18 L561.66 601.81 L562.22 601.46 L562.77 601.1 L563.32 600.76 L563.88 600.42 L564.43 600.09 L564.98 599.76 L565.53 599.44 L566.09 599.13 L566.64 598.82 L567.19 598.52 L567.75 598.23 L568.3 597.94 L568.85 597.65 L569.4 597.37 L569.96 597.09 L570.51 596.82 L571.06 596.55 L571.62 596.28 L572.17 596.02 L572.72 595.75 L573.27 595.49 L573.83 595.23 L574.38 594.96 L574.93 594.7 L575.48 594.44 L576.04 594.17 L576.59 593.91 L577.14 593.65 L577.7 593.4 L578.25 593.15 L578.8 592.91 L579.35 592.67 L579.91 592.44 L580.46 592.23 L581.01 592.02 L581.57 591.82 L582.12 591.64 L582.67 591.46 L583.22 591.3 L583.78 591.15 L584.33 591 L584.88 590.85 L585.44 590.71 L585.99 590.57 L586.54 590.43 L587.09 590.29 L587.65 590.14 L588.2 589.99 L588.75 589.83 L589.31 589.67 L589.86 589.51 L590.41 589.34 L590.96 589.17 L591.52 589.01 L592.07 588.84 L592.62 588.67 L593.18 588.49 L593.73 588.32 L594.28 588.15 L594.83 587.98 L595.39 587.81 L595.94 587.64 L596.49 587.47 L597.05 587.3 L597.6 587.13 L598.15 586.96 L598.7 586.8 L599.26 586.64 L599.81 586.48 L600.36 586.32 L600.92 586.17 L601.47 586.01 L602.02 585.85 L602.57 585.7 L603.13 585.54 L603.68 585.38 L604.23 585.22 L604.79 585.06 L605.34 584.89 L605.89 584.72 L606.44 584.54 L607 584.37 L607.55 584.18 L608.1 584 L608.66 583.81 L609.21 583.63 L609.76 583.43 L610.31 583.24 L610.87 583.04 L611.42 582.84 L611.97 582.63 L612.53 582.42 L613.08 582.21 L613.63 581.99 L614.18 581.76 L614.74 581.53 L615.29 581.3 L615.84 581.06 L616.4 580.81 L616.95 580.56 L617.5 580.31 L618.05 580.05 L618.61 579.78 L619.16 579.51 L619.71 579.23 L620.27 578.94 L620.82 578.64 L621.37 578.32 L621.92 578 L622.48 577.67 L623.03 577.32 L623.58 576.95 L624.14 576.57 L624.69 576.18 L625.24 575.76 L625.79 575.33 L626.35 574.88 L626.9 574.41 L627.45 573.93 L628.01 573.43 L628.56 572.91 L629.11 572.38 L629.66 571.83 L630.22 571.27 L630.77 570.69 L631.32 570.09 L631.87 569.47 L632.43 568.82 L632.98 568.14 L633.53 567.43 L634.09 566.69 L634.64 565.93 L635.19 565.13 L635.74 564.32 L636.3 563.48 L636.85 562.62 L637.4 561.73 L637.96 560.83 L638.51 559.91 L639.06 558.97 L639.61 558.02 L640.17 557.03 L640.72 555.97 L641.27 554.85 L641.83 553.69 L642.38 552.5 L642.93 551.3 L643.48 550.1 L644.04 548.91 L644.59 547.74 L645.14 546.58 L645.7 545.39 L646.25 544.18 L646.8 542.97 L647.35 541.77 L647.91 540.61 L648.46 539.49 L649.01 538.42 L649.57 537.44 L650.12 536.49 L650.67 535.56 L651.22 534.66 L651.78 533.8 L652.33 533 L652.88 532.28 L653.44 531.65 L653.99 531.11 L654.54 530.63 L655.09 530.21 L655.65 529.84 L656.2 529.55 L655.9 650.3" fill="none" stroke="#fbc98f" stroke-width="1.1" stroke-linejoin="round"/>
<path d="M490.9 517.4 H656.2 V650.3" fill="none" stroke="#3a3a3a" stroke-width="0.9" shape-rendering="crispEdges"/>
<path d="M490.5 517.4 V650.3 H656.2" fill="none" stroke="#3a3a3a" stroke-width="0.9" shape-rendering="crispEdges"/>
<line x1="490.5" y1="650.3" x2="487.7" y2="650.3" stroke="#222" stroke-width="0.7" shape-rendering="crispEdges"/>
<text x="485.9" y="653.2" font-family='"Liberation Sans", Arial, sans-serif' font-size="8" font-weight="bold" fill="#111" text-anchor="end">0.0</text>
<line x1="490.5" y1="638.22" x2="488.9" y2="638.22" stroke="#222" stroke-width="0.7" shape-rendering="crispEdges"/>
<line x1="490.5" y1="626.15" x2="487.7" y2="626.15" stroke="#222" stroke-width="0.7" shape-rendering="crispEdges"/>
<text x="485.9" y="629.05" font-family='"Liberation Sans", Arial, sans-serif' font-size="8" font-weight="bold" fill="#111" text-anchor="end">0.2</text>
<line x1="490.5" y1="614.07" x2="488.9" y2="614.07" stroke="#222" stroke-width="0.7" shape-rendering="crispEdges"/>
<line x1="490.5" y1="602" x2="487.7" y2="602" stroke="#222" stroke-width="0.7" shape-rendering="crispEdges"/>
<text x="485.9" y="604.9" font-family='"Liberation Sans", Arial, sans-serif' font-size="8" font-weight="bold" fill="#111" text-anchor="end">0.4</text>
<line x1="490.5" y1="589.92" x2="488.9" y2="589.92" stroke="#222" stroke-width="0.7" shape-rendering="crispEdges"/>
<line x1="490.5" y1="577.85" x2="487.7" y2="577.85" stroke="#222" stroke-width="0.7" shape-rendering="crispEdges"/>
<text x="485.9" y="580.75" font-family='"Liberation Sans", Arial, sans-serif' font-size="8" font-weight="bold" fill="#111" text-anchor="end">0.6</text>
<line x1="490.5" y1="565.77" x2="488.9" y2="565.77" stroke="#222" stroke-width="0.7" shape-rendering="crispEdges"/>
<line x1="490.5" y1="553.7" x2="487.7" y2="553.7" stroke="#222" stroke-width="0.7" shape-rendering="crispEdges"/>
<text x="485.9" y="556.6" font-family='"Liberation Sans", Arial, sans-serif' font-size="8" font-weight="bold" fill="#111" text-anchor="end">0.8</text>
<line x1="490.5" y1="541.62" x2="488.9" y2="541.62" stroke="#222" stroke-width="0.7" shape-rendering="crispEdges"/>
<line x1="490.5" y1="529.55" x2="487.7" y2="529.55" stroke="#222" stroke-width="0.7" shape-rendering="crispEdges"/>
<text x="485.9" y="532.45" font-family='"Liberation Sans", Arial, sans-serif' font-size="8" font-weight="bold" fill="#111" text-anchor="end">1.0</text>
<line x1="490.9" y1="650.3" x2="490.9" y2="653.1" stroke="#222" stroke-width="0.7" shape-rendering="crispEdges"/>
<text x="490.9" y="661.4" font-family='"Liberation Sans", Arial, sans-serif' font-size="8" font-weight="bold" fill="#111" text-anchor="middle">2</text>
<line x1="507.43" y1="650.3" x2="507.43" y2="651.9" stroke="#222" stroke-width="0.7" shape-rendering="crispEdges"/>
<line x1="523.96" y1="650.3" x2="523.96" y2="653.1" stroke="#222" stroke-width="0.7" shape-rendering="crispEdges"/>
<text x="523.96" y="661.4" font-family='"Liberation Sans", Arial, sans-serif' font-size="8" font-weight="bold" fill="#111" text-anchor="middle">4</text>
<line x1="540.49" y1="650.3" x2="540.49" y2="651.9" stroke="#222" stroke-width="0.7" shape-rendering="crispEdges"/>
<line x1="557.02" y1="650.3" x2="557.02" y2="653.1" stroke="#222" stroke-width="0.7" shape-rendering="crispEdges"/>
<text x="557.02" y="661.4" font-family='"Liberation Sans", Arial, sans-serif' font-size="8" font-weight="bold" fill="#111" text-anchor="middle">6</text>
<line x1="573.55" y1="650.3" x2="573.55" y2="651.9" stroke="#222" stroke-width="0.7" shape-rendering="crispEdges"/>
<line x1="590.08" y1="650.3" x2="590.08" y2="653.1" stroke="#222" stroke-width="0.7" shape-rendering="crispEdges"/>
<text x="590.08" y="661.4" font-family='"Liberation Sans", Arial, sans-serif' font-size="8" font-weight="bold" fill="#111" text-anchor="middle">8</text>
<line x1="606.61" y1="650.3" x2="606.61" y2="651.9" stroke="#222" stroke-width="0.7" shape-rendering="crispEdges"/>
<line x1="623.14" y1="650.3" x2="623.14" y2="653.1" stroke="#222" stroke-width="0.7" shape-rendering="crispEdges"/>
<text x="623.14" y="661.4" font-family='"Liberation Sans", Arial, sans-serif' font-size="8" font-weight="bold" fill="#111" text-anchor="middle">10</text>
<line x1="639.67" y1="650.3" x2="639.67" y2="651.9" stroke="#222" stroke-width="0.7" shape-rendering="crispEdges"/>
<line x1="656.2" y1="650.3" x2="656.2" y2="653.1" stroke="#222" stroke-width="0.7" shape-rendering="crispEdges"/>
<text x="656.2" y="661.4" font-family='"Liberation Sans", Arial, sans-serif' font-size="8" font-weight="bold" fill="#111" text-anchor="middle">12</text>
<text x="573.3" y="677.5" font-family='"Liberation Sans", Arial, sans-serif' font-size="10.9" font-weight="bold" fill="#111" text-anchor="middle">Frequency / GHz</text>
<text transform="translate(466.3 577.6) rotate(-90)" font-family='"Liberation Sans", Arial, sans-serif' font-size="10.9" font-weight="bold" text-anchor="middle" fill="#111" stroke="#111" stroke-width="0.35">Power loss contribution</text>
<rect x="534.3" y="525.4" width="19.3" height="10" fill="url(#hb)" stroke="#b9b9b9" stroke-width="0.6"/>
<rect x="534.3" y="536.3" width="19.3" height="10.1" fill="url(#ho)" stroke="#b9b9b9" stroke-width="0.6"/>
<text x="556.4" y="533.4" font-family='"Liberation Sans", Arial, sans-serif' font-size="8.8" font-weight="bold" fill="#111">Lower metasurface</text>
<text x="556.4" y="544.2" font-family='"Liberation Sans", Arial, sans-serif' font-size="8.8" font-weight="bold" fill="#111">Upper metasurface</text>
</svg>
</body></html>
